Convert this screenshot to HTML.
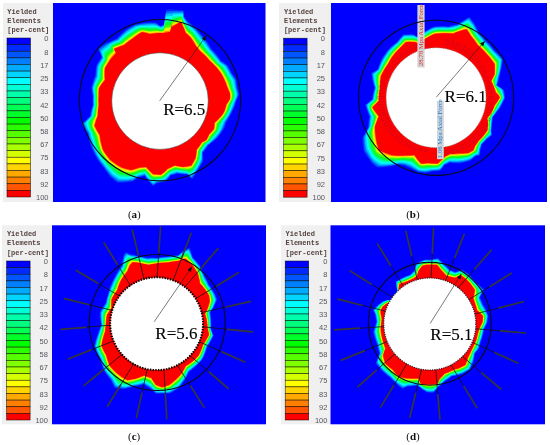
<!DOCTYPE html>
<html><head><meta charset="utf-8"><title>Yielded Elements</title>
<style>
html,body{margin:0;padding:0;background:#fff;}
svg{display:block}
.lt{font-family:"Liberation Mono","DejaVu Sans Mono",monospace;font-size:7px;fill:#54423f;font-weight:bold}
.ll{font-family:"Liberation Sans","DejaVu Sans",sans-serif;font-size:7.5px;fill:#55555f}
.rl{font-family:"Liberation Serif","DejaVu Serif",serif;font-size:17px;fill:#000;stroke:#000;stroke-width:0.12px}
.ax{font-family:"Liberation Serif","DejaVu Serif",serif;font-size:6.7px}
.cap{font-family:"Liberation Serif","DejaVu Serif",serif;font-size:11px;fill:#111}
</style></head><body>
<svg width="550" height="445" viewBox="0 0 550 445">
<defs><filter id="blur" x="-5%" y="-5%" width="110%" height="110%"><feGaussianBlur stdDeviation="0.7"/></filter><clipPath id="clipa"><rect x="53.0" y="3.0" width="212.5" height="199.0"/></clipPath><clipPath id="clipb"><rect x="331.0" y="3.0" width="216.0" height="199.0"/></clipPath><clipPath id="clipc"><rect x="52.0" y="225.3" width="214.0" height="199.0"/></clipPath><clipPath id="clipd"><rect x="330.5" y="225.3" width="214.5" height="199.0"/></clipPath></defs>
<rect width="550" height="445" fill="#fff"/>
<rect x="3.0" y="3.0" width="50.0" height="199.0" fill="#f0f0f0"/><rect x="7.0" y="38.00" width="23.5" height="6.62" fill="#0000ff" stroke="#000" stroke-opacity="0.8" stroke-width="0.6"/><rect x="7.0" y="44.62" width="23.5" height="6.62" fill="#002aff" stroke="#000" stroke-opacity="0.8" stroke-width="0.6"/><rect x="7.0" y="51.25" width="23.5" height="6.62" fill="#0055ff" stroke="#000" stroke-opacity="0.8" stroke-width="0.6"/><rect x="7.0" y="57.88" width="23.5" height="6.62" fill="#007fff" stroke="#000" stroke-opacity="0.8" stroke-width="0.6"/><rect x="7.0" y="64.50" width="23.5" height="6.62" fill="#00aaff" stroke="#000" stroke-opacity="0.8" stroke-width="0.6"/><rect x="7.0" y="71.12" width="23.5" height="6.62" fill="#00d4ff" stroke="#000" stroke-opacity="0.8" stroke-width="0.6"/><rect x="7.0" y="77.75" width="23.5" height="6.62" fill="#00ffff" stroke="#000" stroke-opacity="0.8" stroke-width="0.6"/><rect x="7.0" y="84.38" width="23.5" height="6.62" fill="#00ffd4" stroke="#000" stroke-opacity="0.8" stroke-width="0.6"/><rect x="7.0" y="91.00" width="23.5" height="6.62" fill="#00ffaa" stroke="#000" stroke-opacity="0.8" stroke-width="0.6"/><rect x="7.0" y="97.62" width="23.5" height="6.62" fill="#00ff7f" stroke="#000" stroke-opacity="0.8" stroke-width="0.6"/><rect x="7.0" y="104.25" width="23.5" height="6.62" fill="#00ff54" stroke="#000" stroke-opacity="0.8" stroke-width="0.6"/><rect x="7.0" y="110.88" width="23.5" height="6.62" fill="#00ff2a" stroke="#000" stroke-opacity="0.8" stroke-width="0.6"/><rect x="7.0" y="117.50" width="23.5" height="6.62" fill="#00ff00" stroke="#000" stroke-opacity="0.8" stroke-width="0.6"/><rect x="7.0" y="124.12" width="23.5" height="6.62" fill="#2aff00" stroke="#000" stroke-opacity="0.8" stroke-width="0.6"/><rect x="7.0" y="130.75" width="23.5" height="6.62" fill="#55ff00" stroke="#000" stroke-opacity="0.8" stroke-width="0.6"/><rect x="7.0" y="137.38" width="23.5" height="6.62" fill="#7fff00" stroke="#000" stroke-opacity="0.8" stroke-width="0.6"/><rect x="7.0" y="144.00" width="23.5" height="6.62" fill="#a9ff00" stroke="#000" stroke-opacity="0.8" stroke-width="0.6"/><rect x="7.0" y="150.62" width="23.5" height="6.62" fill="#d4ff00" stroke="#000" stroke-opacity="0.8" stroke-width="0.6"/><rect x="7.0" y="157.25" width="23.5" height="6.62" fill="#ffff00" stroke="#000" stroke-opacity="0.8" stroke-width="0.6"/><rect x="7.0" y="163.88" width="23.5" height="6.62" fill="#ffd400" stroke="#000" stroke-opacity="0.8" stroke-width="0.6"/><rect x="7.0" y="170.50" width="23.5" height="6.62" fill="#ffa900" stroke="#000" stroke-opacity="0.8" stroke-width="0.6"/><rect x="7.0" y="177.12" width="23.5" height="6.62" fill="#ff7f00" stroke="#000" stroke-opacity="0.8" stroke-width="0.6"/><rect x="7.0" y="183.75" width="23.5" height="6.62" fill="#ff5500" stroke="#000" stroke-opacity="0.8" stroke-width="0.6"/><rect x="7.0" y="190.38" width="23.5" height="6.62" fill="#ff0000" stroke="#000" stroke-opacity="0.8" stroke-width="0.6"/><text x="7.3" y="13.6" class="lt">Yielded</text><text x="7.3" y="23.0" class="lt">Elements</text><text x="7.3" y="32.4" class="lt">[per-cent]</text><text x="48.5" y="41.2" class="ll" text-anchor="end">0</text><text x="48.5" y="54.5" class="ll" text-anchor="end">8</text><text x="48.5" y="67.7" class="ll" text-anchor="end">17</text><text x="48.5" y="81.0" class="ll" text-anchor="end">25</text><text x="48.5" y="94.2" class="ll" text-anchor="end">33</text><text x="48.5" y="107.5" class="ll" text-anchor="end">42</text><text x="48.5" y="120.7" class="ll" text-anchor="end">50</text><text x="48.5" y="133.9" class="ll" text-anchor="end">58</text><text x="48.5" y="147.2" class="ll" text-anchor="end">67</text><text x="48.5" y="160.4" class="ll" text-anchor="end">75</text><text x="48.5" y="173.7" class="ll" text-anchor="end">83</text><text x="48.5" y="186.9" class="ll" text-anchor="end">92</text><text x="48.5" y="200.2" class="ll" text-anchor="end">100</text><rect x="53.0" y="3.0" width="212.5" height="199.0" fill="#0000ff"/><g clip-path="url(#clipa)"><g filter="url(#blur)"><polygon points="92.5,101.1 92.6,96.4 92.7,95.9 92.6,95.5 91.8,91.5 91.3,87.7 91.6,86.6 91.6,86.4 92.8,81.8 94.3,77.2 94.7,76.1 95.1,75.3 95.3,72.3 96.0,67.0 96.3,65.0 97.3,63.4 98.0,62.3 100.7,58.0 101.5,56.9 99.0,50.9 98.4,49.4 98.0,48.3 102.2,45.2 105.3,43.2 106.5,42.6 107.2,42.5 108.1,42.4 112.5,40.3 117.0,38.5 117.4,37.9 118.6,36.5 121.1,33.8 125.1,30.1 125.3,29.9 127.3,28.6 130.0,26.9 135.0,24.3 135.4,24.1 139.8,23.4 140.6,23.3 145.6,22.5 146.1,22.4 148.2,22.2 151.7,22.2 155.9,22.5 157.3,23.4 160.0,25.4 160.5,25.8 162.7,24.8 163.4,24.5 164.1,24.2 165.2,16.4 166.2,9.6 169.6,9.3 172.4,9.2 173.3,9.1 174.4,10.3 174.6,9.7 176.1,9.7 182.6,10.3 183.6,10.4 183.6,11.0 184.0,16.3 184.1,16.5 186.5,19.6 187.6,21.2 189.7,22.6 191.2,23.8 194.9,27.1 195.7,27.9 195.9,28.1 199.7,32.4 201.1,34.2 202.7,35.8 203.4,36.7 206.8,41.1 207.3,41.8 209.8,45.8 211.3,48.6 212.8,50.1 216.3,53.9 217.3,55.1 219.4,57.9 221.5,61.0 222.8,61.8 224.2,62.6 227.8,65.1 227.8,65.1 230.3,69.8 230.7,70.6 231.8,72.9 233.1,74.5 234.7,76.7 236.4,79.2 236.5,79.4 237.2,84.7 237.3,85.3 237.4,87.0 238.2,90.1 238.8,92.7 239.2,94.3 238.7,95.6 237.4,98.8 236.5,101.1 236.2,101.8 235.3,105.0 234.8,106.3 233.6,109.2 232.5,111.3 232.1,112.2 230.7,114.8 230.1,116.0 229.4,117.3 227.5,120.5 226.2,122.4 225.5,125.0 225.0,126.8 223.8,129.5 223.6,129.8 221.4,132.8 220.9,133.5 218.0,137.3 217.9,137.4 216.0,139.3 214.4,140.7 210.7,143.6 210.6,143.6 208.1,145.5 207.4,146.9 207.0,147.5 204.7,150.8 202.9,153.1 203.1,156.2 203.2,158.4 203.0,161.7 202.1,163.5 200.6,166.0 199.0,168.6 198.6,169.1 195.6,174.1 195.6,174.1 192.3,179.2 191.1,178.2 187.6,174.9 185.7,174.8 183.9,174.6 178.1,173.9 177.4,173.7 176.6,174.1 173.0,175.1 170.6,175.7 168.9,178.0 168.2,178.8 165.1,182.0 162.8,182.3 161.1,182.6 157.1,183.3 156.9,183.3 153.0,186.2 151.8,184.9 151.3,184.3 150.0,183.0 146.4,178.5 144.4,175.8 144.1,175.9 141.1,176.9 137.4,178.0 135.9,179.2 134.2,180.4 132.2,181.8 127.2,182.3 125.8,182.4 120.2,182.8 117.4,182.8 114.2,180.4 113.2,179.6 110.0,176.9 109.4,176.1 105.5,170.8 103.7,168.0 103.6,167.8 101.8,165.7 98.2,160.8 97.3,159.3 95.4,156.1 95.1,155.5 92.4,150.2 91.8,148.9 90.2,144.7 89.0,141.0 88.5,139.1 87.5,133.8 87.3,133.5 84.8,129.4 84.3,128.7 81.6,124.3 82.5,123.3 87.9,118.1 89.7,116.7 89.8,116.0 90.9,110.8 92.4,105.8 92.6,105.4 92.7,105.1" fill="#0028ff"/><polygon points="93.0,101.1 93.1,96.4 93.1,95.9 93.1,95.5 92.4,91.6 91.9,87.8 92.2,86.7 92.2,86.5 93.5,82.0 95.1,77.5 95.5,76.4 95.9,75.6 96.1,72.6 96.7,67.4 97.0,65.4 97.9,63.8 98.6,62.7 101.3,58.5 102.1,57.3 99.8,51.6 99.3,50.2 99.0,49.1 103.0,46.1 106.1,44.1 107.3,43.4 107.9,43.2 108.6,42.9 112.9,40.8 117.4,39.1 117.8,38.5 119.0,37.2 121.6,34.5 125.5,30.9 125.7,30.8 127.7,29.4 130.4,27.7 135.3,25.1 135.6,24.9 139.9,24.1 140.8,24.0 145.8,23.3 146.3,23.3 148.4,23.2 151.8,23.1 155.9,23.3 157.3,24.2 160.0,26.0 160.5,26.4 162.6,25.5 163.3,25.2 164.1,24.9 165.1,17.7 166.1,11.5 169.5,11.2 172.2,11.0 173.0,10.9 174.2,11.2 174.3,11.0 175.9,11.0 182.4,11.2 183.3,11.3 183.4,11.8 183.8,16.9 184.0,17.1 186.3,20.3 187.4,21.9 189.4,23.4 190.9,24.7 194.5,27.9 195.3,28.7 195.5,28.9 199.2,33.2 200.6,35.0 202.1,36.6 202.9,37.5 206.3,41.9 206.7,42.6 209.2,46.4 210.8,49.2 212.3,50.6 215.7,54.4 216.7,55.6 218.8,58.4 220.9,61.4 222.3,62.2 223.5,63.0 227.0,65.4 227.0,65.5 229.6,70.1 230.0,71.0 231.1,73.2 232.3,74.8 233.9,76.9 235.5,79.4 235.7,79.7 236.4,84.9 236.5,85.4 236.6,87.1 237.5,90.2 238.1,92.7 238.4,94.4 238.0,95.6 236.8,98.8 235.9,101.1 235.6,101.8 234.6,104.9 234.1,106.3 232.9,109.1 231.9,111.2 231.5,112.1 230.1,114.7 229.5,115.9 228.8,117.1 226.8,120.3 225.6,122.1 224.8,124.7 224.1,126.5 223.0,129.2 222.9,129.5 220.8,132.5 220.3,133.2 217.4,137.0 217.4,137.0 215.5,138.9 214.0,140.3 210.3,143.3 210.3,143.3 207.8,145.2 207.0,146.5 206.6,147.1 204.3,150.3 202.5,152.6 202.6,155.7 202.6,157.7 202.5,161.0 201.6,162.8 200.2,165.3 198.6,168.0 198.3,168.5 195.3,173.4 195.3,173.4 191.9,178.2 190.8,177.2 187.4,174.3 185.5,174.1 183.7,174.0 178.0,173.2 177.3,173.1 176.4,173.4 172.9,174.5 170.6,175.1 168.8,177.2 168.1,178.0 165.1,181.2 162.8,181.6 161.1,181.9 157.2,182.6 157.0,182.6 153.1,185.2 151.9,184.1 151.3,183.5 150.1,182.2 146.5,177.8 144.6,175.1 144.3,175.2 141.3,176.2 137.7,177.1 136.2,178.2 134.6,179.4 132.6,180.7 127.6,181.3 126.2,181.4 120.7,181.7 118.0,181.7 114.8,179.4 113.8,178.6 110.6,176.0 110.0,175.2 106.1,170.1 104.2,167.4 104.1,167.2 102.4,165.1 98.8,160.2 97.8,158.8 96.0,155.6 95.7,155.0 93.1,149.7 92.5,148.4 91.0,144.2 89.8,140.6 89.3,138.7 88.2,133.5 88.0,133.1 85.5,129.1 85.1,128.4 82.8,124.0 83.6,123.0 88.7,117.9 90.3,116.5 90.4,115.9 91.5,110.7 92.9,105.8 93.0,105.4 93.1,105.1" fill="#006eff"/><polygon points="93.6,101.1 93.7,96.5 93.7,96.0 93.7,95.6 93.1,91.7 92.7,87.9 92.9,86.8 93.0,86.7 94.4,82.3 96.1,77.8 96.6,76.8 96.9,76.0 97.0,73.1 97.5,67.9 97.8,65.9 98.7,64.2 99.3,63.2 102.0,59.0 102.8,57.8 100.9,52.6 100.5,51.2 100.2,50.2 104.2,47.2 107.1,45.1 108.2,44.5 108.6,44.1 109.2,43.6 113.5,41.5 117.9,39.8 118.3,39.3 119.5,38.0 122.1,35.4 126.0,31.9 126.2,31.8 128.1,30.5 130.8,28.8 135.6,26.1 136.0,25.9 140.2,25.0 141.0,24.9 146.0,24.4 146.5,24.4 148.6,24.3 151.9,24.3 156.0,24.4 157.3,25.2 160.0,26.8 160.5,27.1 162.6,26.3 163.3,26.0 164.0,25.7 165.0,19.3 165.9,13.8 169.2,13.5 171.9,13.3 172.7,13.2 174.0,12.4 174.1,12.8 175.6,12.7 182.1,12.5 183.0,12.5 183.1,13.0 183.6,17.7 183.7,17.9 186.0,21.1 187.1,22.8 189.0,24.5 190.5,25.7 194.0,28.9 194.8,29.7 195.0,29.9 198.6,34.2 200.0,36.0 201.5,37.6 202.2,38.5 205.5,42.8 206.0,43.5 208.5,47.2 210.2,49.8 211.6,51.3 215.0,55.0 216.0,56.2 218.1,58.9 220.3,61.8 221.5,62.7 222.8,63.5 226.1,65.9 226.1,65.9 228.7,70.5 229.1,71.3 230.2,73.5 231.4,75.1 232.8,77.3 234.4,79.8 234.6,80.0 235.4,85.1 235.5,85.6 235.7,87.3 236.6,90.3 237.2,92.8 237.5,94.5 237.2,95.7 236.1,98.8 235.1,101.1 234.8,101.8 233.7,104.9 233.2,106.2 232.1,109.0 231.1,111.1 230.7,112.0 229.3,114.6 228.7,115.7 228.0,116.9 226.0,120.0 224.7,121.9 223.8,124.3 223.1,126.1 222.1,128.7 221.9,129.1 220.1,132.1 219.6,132.8 216.7,136.5 216.6,136.5 214.8,138.4 213.3,139.8 209.9,142.9 209.9,143.0 207.3,144.8 206.5,146.0 206.1,146.6 203.8,149.8 202.0,152.1 202.0,154.9 202.0,156.8 201.8,160.0 201.0,161.9 199.7,164.5 198.1,167.2 197.8,167.7 194.8,172.5 194.8,172.5 191.4,176.9 190.3,176.1 187.1,173.4 185.2,173.4 183.4,173.2 177.8,172.4 177.1,172.3 176.2,172.5 172.8,173.7 170.4,174.3 168.7,176.3 168.0,177.1 165.0,180.2 162.8,180.8 161.1,181.2 157.2,181.7 157.0,181.8 153.2,184.0 152.0,183.0 151.5,182.4 150.2,181.1 146.6,176.9 144.7,174.3 144.4,174.3 141.5,175.2 138.0,176.1 136.5,177.1 135.0,178.1 133.0,179.4 128.1,180.0 126.7,180.2 121.4,180.3 118.7,180.2 115.6,178.1 114.5,177.3 111.4,174.8 110.8,174.1 106.8,169.2 104.9,166.6 104.8,166.4 103.1,164.3 99.5,159.5 98.6,158.1 96.8,154.9 96.5,154.4 94.0,149.1 93.4,147.7 92.0,143.6 90.9,140.0 90.4,138.1 89.1,133.1 88.9,132.7 86.5,128.7 86.2,128.0 84.2,123.5 85.0,122.6 89.7,117.7 91.1,116.4 91.2,115.7 92.2,110.6 93.5,105.7 93.7,105.3 93.7,105.0" fill="#00c3ff"/><polygon points="94.3,101.1 94.4,96.5 94.5,96.0 94.4,95.6 93.9,91.8 93.6,88.1 93.8,87.0 93.8,86.9 95.4,82.6 97.3,78.3 97.8,77.2 98.1,76.4 98.1,73.6 98.6,68.4 98.9,66.5 99.6,64.8 100.2,63.7 102.9,59.6 103.6,58.5 102.3,53.6 102.0,52.4 101.8,51.5 105.5,48.5 108.3,46.4 109.4,45.7 109.6,45.1 109.9,44.4 114.1,42.4 118.4,40.6 118.9,40.2 120.2,39.1 122.7,36.5 126.6,33.2 126.8,33.0 128.7,31.7 131.3,30.0 136.0,27.3 136.3,27.1 140.4,26.0 141.3,25.9 146.2,25.7 146.7,25.7 148.8,25.8 152.1,25.6 156.1,25.7 157.4,26.3 160.0,27.7 160.5,28.0 162.6,27.3 163.3,27.0 164.0,26.8 164.9,21.3 165.8,16.6 168.9,16.2 171.5,16.0 172.3,16.0 173.8,13.8 173.7,14.8 175.2,14.6 181.7,13.9 182.6,13.9 182.7,14.3 183.3,18.6 183.5,18.8 185.7,22.1 186.7,23.8 188.5,25.7 190.0,26.9 193.5,30.1 194.2,30.9 194.4,31.1 198.0,35.4 199.3,37.2 200.7,38.9 201.4,39.7 204.7,43.9 205.1,44.6 207.7,48.1 209.4,50.6 210.8,52.1 214.1,55.7 215.1,56.9 217.3,59.5 219.4,62.4 220.7,63.2 221.8,64.0 225.0,66.5 225.0,66.5 227.6,71.0 228.1,71.8 229.1,74.0 230.2,75.5 231.6,77.7 233.1,80.1 233.2,80.4 234.2,85.3 234.3,85.9 234.6,87.5 235.5,90.5 236.1,92.9 236.4,94.6 236.1,95.8 235.2,98.8 234.2,101.1 233.9,101.8 232.6,104.8 232.2,106.1 231.1,108.9 230.2,111.0 229.8,111.8 228.4,114.4 227.8,115.5 227.1,116.7 225.1,119.8 223.7,121.6 222.7,123.9 221.8,125.6 220.9,128.2 220.8,128.6 219.2,131.7 218.7,132.3 215.8,136.0 215.8,136.0 213.9,137.9 212.6,139.3 209.4,142.5 209.4,142.5 206.8,144.3 205.9,145.4 205.4,146.0 203.3,149.1 201.5,151.4 201.3,154.0 201.2,155.8 201.0,158.9 200.3,160.8 199.1,163.6 197.6,166.2 197.3,166.7 194.3,171.5 194.3,171.5 190.7,175.4 189.7,174.7 186.7,172.5 184.9,172.4 183.1,172.3 177.5,171.4 176.8,171.3 176.0,171.5 172.6,172.7 170.3,173.4 168.6,175.2 167.9,175.9 164.9,178.9 162.7,179.7 161.1,180.2 157.2,180.7 157.0,180.7 153.3,182.6 152.2,181.7 151.6,181.1 150.3,179.9 146.8,175.7 145.0,173.2 144.7,173.3 141.8,174.0 138.3,174.8 137.0,175.7 135.4,176.7 133.6,177.8 128.7,178.5 127.3,178.7 122.2,178.7 119.6,178.5 116.5,176.5 115.4,175.8 112.3,173.4 111.7,172.7 107.6,168.1 105.7,165.7 105.6,165.5 103.9,163.4 100.4,158.7 99.5,157.3 97.7,154.2 97.4,153.6 95.0,148.3 94.5,147.0 93.2,142.9 92.2,139.2 91.6,137.5 90.2,132.6 90.0,132.3 87.7,128.3 87.4,127.5 86.0,123.0 86.7,122.1 90.9,117.4 92.1,116.1 92.2,115.5 93.0,110.5 94.3,105.7 94.4,105.3 94.5,105.0" fill="#00ffff"/><polygon points="95.0,101.1 95.2,96.6 95.2,96.1 95.1,95.7 94.7,91.9 94.5,88.3 94.7,87.2 94.7,87.1 96.4,82.9 98.5,78.7 99.0,77.7 99.2,76.9 99.3,74.1 99.6,69.0 99.9,67.1 100.6,65.3 101.1,64.3 103.7,60.2 104.5,59.1 103.6,54.7 103.4,53.6 103.3,52.8 106.8,49.7 109.5,47.6 110.5,47.0 110.5,46.2 110.6,45.1 114.8,43.2 119.0,41.5 119.5,41.1 120.8,40.1 123.4,37.6 127.2,34.4 127.4,34.2 129.3,33.0 131.8,31.3 136.4,28.5 136.7,28.3 140.7,27.0 141.5,27.0 146.5,27.0 146.9,27.0 149.0,27.2 152.2,27.0 156.1,27.0 157.4,27.5 160.0,28.6 160.5,28.8 162.5,28.2 163.2,28.1 163.9,27.8 164.7,23.3 165.6,19.3 168.6,19.0 171.1,18.8 171.9,18.7 173.6,15.2 173.4,16.9 174.9,16.6 181.4,15.4 182.3,15.3 182.4,15.6 183.1,19.5 183.2,19.7 185.4,23.1 186.4,24.9 188.1,27.0 189.5,28.2 192.9,31.3 193.7,32.1 193.8,32.3 197.3,36.6 198.5,38.4 199.9,40.1 200.6,40.9 203.8,45.0 204.3,45.7 206.9,49.0 208.6,51.4 210.0,52.8 213.3,56.4 214.2,57.6 216.4,60.1 218.6,62.9 219.8,63.7 220.9,64.6 223.9,67.1 223.9,67.1 226.5,71.5 227.0,72.3 228.0,74.4 229.1,76.0 230.4,78.1 231.8,80.5 231.9,80.7 233.0,85.6 233.1,86.1 233.4,87.7 234.4,90.6 235.1,93.1 235.3,94.7 235.1,95.9 234.3,98.9 233.3,101.1 232.9,101.8 231.6,104.8 231.1,106.1 230.1,108.8 229.3,110.8 228.9,111.7 227.5,114.2 226.9,115.3 226.2,116.5 224.1,119.5 222.7,121.2 221.5,123.5 220.6,125.1 219.8,127.7 219.7,128.1 218.3,131.2 217.8,131.8 214.9,135.4 214.9,135.4 213.1,137.3 211.9,138.8 208.9,142.1 208.9,142.1 206.3,143.8 205.3,144.9 204.8,145.4 202.7,148.5 200.9,150.8 200.7,153.1 200.4,154.7 200.2,157.8 199.6,159.8 198.5,162.6 197.0,165.2 196.7,165.7 193.8,170.5 193.8,170.5 190.1,173.8 189.2,173.3 186.4,171.5 184.6,171.5 182.8,171.3 177.3,170.5 176.6,170.3 175.7,170.4 172.4,171.7 170.2,172.5 168.4,174.1 167.7,174.8 164.9,177.7 162.7,178.7 161.1,179.3 157.3,179.6 157.1,179.7 153.4,181.2 152.3,180.4 151.7,179.8 150.5,178.6 147.0,174.6 145.2,172.2 144.9,172.2 142.1,172.9 138.7,173.6 137.4,174.3 135.9,175.2 134.1,176.2 129.3,177.0 128.0,177.2 123.0,177.0 120.5,176.8 117.4,174.9 116.3,174.3 113.2,172.0 112.6,171.4 108.5,167.0 106.5,164.7 106.4,164.5 104.7,162.5 101.3,157.8 100.4,156.5 98.6,153.4 98.3,152.9 96.1,147.5 95.6,146.2 94.4,142.1 93.5,138.5 92.8,136.8 91.3,132.1 91.1,131.8 88.8,127.8 88.7,127.1 87.7,122.5 88.4,121.6 92.1,117.2 93.1,115.9 93.1,115.3 93.9,110.4 95.0,105.6 95.1,105.2 95.2,104.9" fill="#00ffa0"/><polygon points="95.8,101.1 95.9,96.6 95.9,96.1 95.9,95.8 95.5,92.0 95.4,88.5 95.6,87.4 95.6,87.3 97.5,83.2 99.7,79.1 100.3,78.2 100.4,77.4 100.4,74.6 100.7,69.6 100.9,67.7 101.5,65.9 102.0,64.9 104.6,60.8 105.3,59.7 104.9,55.8 104.9,54.8 104.8,54.1 108.2,51.0 110.7,48.9 111.6,48.2 111.5,47.2 111.3,45.9 115.4,44.0 119.6,42.4 120.1,42.0 121.5,41.1 124.0,38.7 127.8,35.6 128.0,35.5 129.8,34.2 132.3,32.5 136.8,29.7 137.1,29.5 141.0,28.1 141.8,28.1 146.7,28.3 147.2,28.4 149.2,28.6 152.4,28.4 156.2,28.3 157.5,28.6 160.0,29.5 160.5,29.7 162.5,29.2 163.2,29.1 163.8,28.9 164.6,25.2 165.4,22.1 168.3,21.7 170.8,21.5 171.5,21.5 173.3,16.6 173.1,19.0 174.6,18.6 181.0,16.9 181.9,16.7 182.0,16.9 182.8,20.4 183.0,20.6 185.0,24.1 186.0,25.9 187.6,28.2 189.0,29.4 192.3,32.5 193.1,33.3 193.2,33.5 196.6,37.8 197.8,39.6 199.1,41.3 199.8,42.1 202.9,46.2 203.4,46.8 206.1,49.9 207.8,52.2 209.2,53.6 212.4,57.1 213.4,58.3 215.6,60.7 217.8,63.4 218.9,64.3 220.0,65.2 222.8,67.7 222.8,67.7 225.5,71.9 225.9,72.7 226.9,74.8 227.9,76.4 229.2,78.5 230.5,80.9 230.6,81.1 231.8,85.8 231.9,86.4 232.3,87.9 233.3,90.8 234.0,93.2 234.2,94.8 234.0,95.9 233.4,98.9 232.3,101.1 232.0,101.8 230.5,104.7 230.1,106.0 229.1,108.7 228.3,110.7 228.0,111.5 226.6,114.0 226.0,115.1 225.3,116.3 223.1,119.2 221.7,120.9 220.4,123.1 219.3,124.6 218.7,127.2 218.6,127.6 217.4,130.8 216.9,131.4 214.0,134.9 214.0,134.9 212.2,136.7 211.1,138.2 208.4,141.6 208.3,141.7 205.7,143.3 204.7,144.3 204.2,144.8 202.1,147.9 200.4,150.1 200.0,152.2 199.6,153.7 199.4,156.7 198.9,158.7 197.9,161.7 196.5,164.3 196.2,164.8 193.3,169.4 193.3,169.4 189.5,172.3 188.6,171.9 186.0,170.5 184.2,170.6 182.5,170.4 177.1,169.5 176.4,169.4 175.5,169.4 172.3,170.7 170.0,171.5 168.3,173.0 167.6,173.7 164.8,176.5 162.7,177.6 161.1,178.4 157.3,178.6 157.1,178.6 153.6,179.7 152.4,179.1 151.9,178.6 150.6,177.4 147.2,173.5 145.4,171.2 145.1,171.1 142.4,171.7 139.1,172.3 137.8,172.9 136.4,173.7 134.7,174.6 129.9,175.5 128.6,175.7 123.8,175.3 121.4,175.1 118.3,173.4 117.2,172.8 114.1,170.6 113.5,170.0 109.3,166.0 107.3,163.8 107.1,163.6 105.5,161.6 102.1,157.0 101.2,155.6 99.5,152.6 99.2,152.1 97.2,146.8 96.7,145.4 95.6,141.4 94.8,137.8 94.1,136.2 92.4,131.6 92.2,131.3 90.0,127.4 89.9,126.6 89.5,122.0 90.0,121.2 93.3,116.9 94.1,115.7 94.1,115.1 94.8,110.3 95.8,105.6 95.9,105.2 95.9,104.9" fill="#00ff32"/><polygon points="96.6,101.1 96.7,96.7 96.8,96.2 96.7,95.8 96.5,92.2 96.5,88.7 96.6,87.6 96.6,87.5 98.7,83.5 101.1,79.7 101.7,78.7 101.8,77.9 101.7,75.2 101.9,70.2 102.1,68.3 102.5,66.5 103.1,65.5 105.5,61.5 106.3,60.5 106.5,57.1 106.5,56.2 106.6,55.6 109.7,52.5 112.1,50.4 113.0,49.7 112.6,48.4 112.1,46.9 116.2,45.0 120.3,43.4 120.9,43.1 122.3,42.3 124.7,40.0 128.5,37.0 128.7,36.9 130.5,35.7 132.9,33.9 137.2,31.1 137.6,30.9 141.3,29.3 142.1,29.3 147.0,29.8 147.4,29.9 149.4,30.2 152.5,29.9 156.3,29.8 157.5,30.0 160.0,30.6 160.5,30.7 162.5,30.4 163.1,30.3 163.8,30.1 164.5,27.5 165.2,25.3 168.0,25.0 170.3,24.7 171.1,24.7 173.1,18.3 172.7,21.4 174.1,20.8 180.6,18.6 181.5,18.3 181.6,18.5 182.5,21.4 182.7,21.6 184.7,25.2 185.6,27.1 187.1,29.7 188.4,30.8 191.7,33.9 192.4,34.7 192.6,34.8 195.8,39.2 197.0,41.0 198.1,42.7 198.8,43.5 201.9,47.5 202.3,48.1 205.1,51.0 206.9,53.2 208.3,54.5 211.4,58.0 212.3,59.1 214.6,61.4 216.9,64.0 217.9,64.9 218.9,65.8 221.5,68.4 221.5,68.4 224.2,72.5 224.7,73.3 225.7,75.3 226.6,76.9 227.8,78.9 229.0,81.3 229.1,81.5 230.4,86.1 230.5,86.6 231.0,88.1 232.0,91.0 232.8,93.3 233.0,94.9 232.8,96.0 232.4,98.9 231.2,101.1 230.8,101.8 229.2,104.6 228.9,105.9 228.0,108.6 227.3,110.6 226.9,111.4 225.6,113.8 224.9,114.9 224.2,116.1 222.0,118.9 220.6,120.5 219.0,122.6 217.8,124.0 217.4,126.6 217.3,127.0 216.4,130.2 215.9,130.8 213.0,134.2 213.0,134.3 211.2,136.0 210.3,137.6 207.8,141.1 207.7,141.2 205.1,142.8 204.0,143.6 203.5,144.0 201.4,147.1 199.8,149.3 199.1,151.2 198.7,152.5 198.5,155.4 198.0,157.5 197.2,160.5 195.8,163.1 195.5,163.6 192.7,168.2 192.7,168.2 188.7,170.5 187.9,170.2 185.6,169.4 183.9,169.5 182.2,169.3 176.8,168.4 176.1,168.2 175.2,168.2 172.1,169.6 169.9,170.4 168.1,171.7 167.5,172.4 164.7,175.1 162.6,176.4 161.0,177.3 157.3,177.4 157.2,177.4 153.7,178.1 152.6,177.6 152.0,177.1 150.8,175.9 147.5,172.2 145.6,170.0 145.4,169.9 142.7,170.4 139.5,170.8 138.3,171.2 137.0,171.9 135.3,172.7 130.6,173.7 129.3,174.0 124.7,173.4 122.5,173.0 119.3,171.5 118.3,171.0 115.2,169.0 114.6,168.4 110.3,164.7 108.2,162.7 108.1,162.5 106.5,160.5 103.1,156.0 102.3,154.7 100.5,151.7 100.3,151.2 98.4,145.9 98.0,144.6 97.0,140.5 96.3,136.9 95.5,135.4 93.6,131.0 93.5,130.7 91.4,126.9 91.4,126.1 91.5,121.4 92.0,120.6 94.6,116.5 95.2,115.5 95.2,114.9 95.8,110.1 96.6,105.5 96.7,105.1 96.8,104.8" fill="#3cff00"/><polygon points="97.3,101.1 97.4,96.7 97.4,96.2 97.4,95.9 97.3,92.3 97.3,88.8 97.4,87.8 97.5,87.7 99.7,83.8 102.2,80.1 102.8,79.2 102.9,78.3 102.8,75.6 102.9,70.7 103.0,68.9 103.4,67.0 103.9,66.1 106.3,62.1 107.0,61.1 107.7,58.1 107.9,57.4 108.0,56.8 110.9,53.7 113.2,51.5 114.0,50.8 113.4,49.4 112.8,47.6 116.8,45.8 120.9,44.2 121.4,43.9 122.9,43.2 125.3,41.0 129.0,38.1 129.2,38.0 131.0,36.8 133.3,35.1 137.6,32.2 137.9,32.0 141.5,30.2 142.3,30.3 147.2,31.0 147.7,31.1 149.6,31.5 152.7,31.2 156.3,30.9 157.6,31.1 160.0,31.4 160.5,31.5 162.4,31.3 163.1,31.2 163.7,31.1 164.4,29.3 165.0,27.9 167.7,27.5 170.0,27.3 170.7,27.2 172.9,19.6 172.4,23.3 173.8,22.6 180.2,20.0 181.1,19.6 181.3,19.7 182.3,22.2 182.4,22.4 184.4,26.1 185.3,28.0 186.6,30.8 187.9,32.0 191.2,35.0 191.9,35.8 192.0,35.9 195.1,40.3 196.3,42.1 197.4,43.9 198.1,44.6 201.1,48.5 201.5,49.1 204.3,51.9 206.2,53.9 207.5,55.2 210.6,58.6 211.5,59.8 213.8,62.0 216.1,64.5 217.1,65.4 218.0,66.3 220.5,68.9 220.5,68.9 223.2,73.0 223.7,73.7 224.7,75.7 225.6,77.2 226.6,79.3 227.8,81.7 227.9,81.9 229.3,86.4 229.4,86.9 229.9,88.3 231.0,91.1 231.8,93.4 232.0,95.0 231.9,96.1 231.6,99.0 230.4,101.1 230.0,101.8 228.3,104.6 227.9,105.8 227.1,108.5 226.4,110.4 226.1,111.2 224.7,113.7 224.1,114.7 223.4,115.9 221.1,118.6 219.6,120.2 218.0,122.2 216.7,123.6 216.3,126.2 216.3,126.5 215.6,129.8 215.1,130.4 212.2,133.7 212.2,133.8 210.5,135.5 209.6,137.1 207.3,140.8 207.3,140.8 204.6,142.3 203.5,143.1 202.9,143.5 200.9,146.5 199.3,148.7 198.5,150.4 198.0,151.5 197.8,154.4 197.4,156.5 196.6,159.7 195.3,162.2 195.0,162.8 192.3,167.3 192.3,167.3 188.1,169.1 187.4,169.0 185.2,168.5 183.6,168.6 181.9,168.4 176.5,167.5 175.9,167.3 175.0,167.2 171.9,168.7 169.8,169.6 168.0,170.6 167.4,171.3 164.6,174.0 162.6,175.4 161.0,176.4 157.4,176.4 157.2,176.4 153.8,176.8 152.7,176.4 152.1,175.9 151.0,174.8 147.6,171.2 145.8,169.0 145.6,168.9 143.0,169.3 139.9,169.7 138.7,170.0 137.4,170.6 135.8,171.2 131.2,172.4 129.9,172.6 125.5,171.9 123.3,171.4 120.2,170.1 119.1,169.6 116.1,167.7 115.4,167.2 111.1,163.7 109.0,161.8 108.8,161.6 107.2,159.7 103.9,155.2 103.1,153.9 101.3,151.0 101.1,150.5 99.4,145.2 99.0,143.8 98.1,139.8 97.4,136.3 96.7,134.8 94.6,130.6 94.5,130.3 92.5,126.5 92.5,125.7 93.1,120.9 93.5,120.2 95.7,116.3 96.1,115.3 96.1,114.7 96.6,110.0 97.3,105.5 97.4,105.1 97.4,104.8" fill="#c8ff00"/><polygon points="97.8,101.1 97.9,96.8 97.9,96.3 97.9,95.9 97.8,92.4 97.9,89.0 98.0,87.9 98.0,87.8 100.4,84.0 103.0,80.3 103.7,79.5 103.6,78.6 103.5,75.9 103.6,71.1 103.7,69.2 104.0,67.4 104.5,66.4 106.9,62.5 107.6,61.5 108.6,58.8 108.8,58.2 109.0,57.7 111.8,54.6 114.0,52.4 114.8,51.6 114.1,50.1 113.2,48.1 117.2,46.3 121.3,44.7 121.8,44.5 123.3,43.9 125.7,41.8 129.4,39.0 129.6,38.8 131.4,37.6 133.6,35.9 137.9,33.0 138.2,32.8 141.7,30.9 142.5,31.0 147.3,31.9 147.8,32.0 149.8,32.5 152.7,32.1 156.4,31.8 157.6,31.8 160.0,32.0 160.5,32.1 162.4,31.9 163.0,31.9 163.7,31.7 164.3,30.6 164.9,29.7 167.5,29.3 169.8,29.1 170.4,29.0 172.7,20.5 172.2,24.7 173.6,24.0 180.0,20.9 180.9,20.6 181.1,20.6 182.1,22.8 182.3,23.0 184.1,26.8 185.0,28.7 186.3,31.6 187.6,32.8 190.8,35.8 191.5,36.6 191.6,36.7 194.7,41.0 195.8,42.9 196.9,44.7 197.5,45.4 200.5,49.2 201.0,49.8 203.8,52.5 205.7,54.4 207.0,55.7 210.0,59.1 210.9,60.2 213.2,62.4 215.6,64.9 216.5,65.8 217.4,66.7 219.8,69.3 219.8,69.3 222.5,73.3 223.0,74.0 224.0,76.0 224.8,77.5 225.8,79.6 226.9,81.9 227.0,82.1 228.5,86.6 228.6,87.0 229.2,88.5 230.3,91.2 231.1,93.5 231.2,95.0 231.2,96.1 231.0,99.0 229.7,101.1 229.3,101.8 227.6,104.6 227.2,105.8 226.4,108.4 225.8,110.3 225.5,111.2 224.1,113.6 223.5,114.6 222.8,115.7 220.5,118.4 219.0,120.0 217.2,121.9 215.9,123.2 215.6,125.9 215.6,126.2 215.0,129.5 214.5,130.1 211.6,133.4 211.6,133.4 209.9,135.1 209.1,136.8 207.0,140.5 206.9,140.5 204.3,142.0 203.1,142.7 202.5,143.1 200.5,146.1 198.9,148.3 198.1,149.8 197.5,150.8 197.3,153.6 196.9,155.8 196.2,159.0 194.9,161.6 194.6,162.1 192.0,166.6 191.9,166.6 187.7,168.1 187.0,168.0 185.0,167.9 183.4,168.0 181.7,167.8 176.4,166.8 175.7,166.7 174.9,166.5 171.8,168.0 169.7,169.0 167.9,169.9 167.3,170.6 164.6,173.2 162.6,174.7 161.0,175.8 157.4,175.7 157.2,175.7 153.9,175.8 152.8,175.5 152.2,175.0 151.1,173.9 147.8,170.5 146.0,168.4 145.8,168.2 143.2,168.5 140.1,168.8 139.0,169.0 137.8,169.6 136.2,170.2 131.6,171.3 130.3,171.6 126.0,170.8 123.9,170.3 120.8,169.1 119.7,168.6 116.7,166.8 116.0,166.3 111.7,163.0 109.5,161.2 109.3,161.0 107.8,159.1 104.5,154.7 103.7,153.4 101.9,150.5 101.7,150.0 100.1,144.6 99.7,143.3 98.9,139.3 98.3,135.8 97.5,134.3 95.4,130.3 95.2,130.0 93.2,126.2 93.4,125.4 94.3,120.6 94.6,119.9 96.5,116.1 96.7,115.1 96.8,114.5 97.1,109.9 97.8,105.4 97.9,105.0 97.9,104.8" fill="#ffe600"/><polygon points="98.2,101.1 98.3,96.8 98.3,96.3 98.3,96.0 98.3,92.4 98.4,89.1 98.5,88.0 98.6,87.9 101.0,84.2 103.7,80.6 104.4,79.8 104.3,78.9 104.2,76.2 104.2,71.4 104.3,69.6 104.5,67.7 105.1,66.8 107.4,62.9 108.1,61.8 109.3,59.5 109.7,58.9 109.9,58.4 112.6,55.3 114.7,53.1 115.4,52.4 114.6,50.7 113.6,48.6 117.6,46.8 121.6,45.3 122.2,45.0 123.7,44.5 126.1,42.4 129.8,39.7 130.0,39.5 131.7,38.4 133.9,36.6 138.1,33.7 138.4,33.5 141.9,31.5 142.7,31.6 147.5,32.6 148.0,32.8 149.9,33.3 152.8,32.9 156.4,32.5 157.6,32.5 160.0,32.5 160.5,32.6 162.4,32.5 163.0,32.5 163.7,32.4 164.2,31.8 164.8,31.3 167.4,30.9 169.5,30.7 170.2,30.6 172.6,21.3 172.0,25.9 173.4,25.1 179.8,21.8 180.7,21.4 180.9,21.3 182.0,23.3 182.1,23.6 184.0,27.4 184.8,29.3 186.0,32.4 187.3,33.5 190.4,36.5 191.1,37.2 191.3,37.4 194.3,41.7 195.4,43.6 196.4,45.4 197.1,46.2 200.0,49.9 200.4,50.5 203.3,53.0 205.2,54.9 206.5,56.2 209.5,59.5 210.4,60.6 212.7,62.8 215.1,65.2 216.0,66.1 216.9,67.0 219.1,69.7 219.1,69.7 221.9,73.6 222.3,74.3 223.4,76.2 224.1,77.8 225.1,79.8 226.1,82.1 226.2,82.3 227.8,86.7 227.9,87.2 228.5,88.6 229.7,91.3 230.5,93.5 230.6,95.1 230.6,96.2 230.4,99.0 229.2,101.1 228.8,101.7 226.9,104.5 226.6,105.8 225.9,108.3 225.2,110.3 225.0,111.1 223.6,113.5 223.0,114.5 222.3,115.6 219.9,118.3 218.4,119.8 216.5,121.7 215.1,122.9 214.9,125.6 214.9,125.9 214.4,129.2 214.0,129.8 211.1,133.1 211.1,133.1 209.4,134.8 208.7,136.4 206.7,140.2 206.6,140.2 204.0,141.7 202.7,142.4 202.1,142.7 200.2,145.7 198.6,147.9 197.6,149.3 197.0,150.2 196.8,153.0 196.5,155.2 195.9,158.5 194.6,161.0 194.3,161.5 191.7,166.0 191.7,166.0 187.3,167.2 186.7,167.2 184.8,167.3 183.2,167.5 181.5,167.2 176.2,166.3 175.6,166.1 174.7,165.9 171.7,167.5 169.6,168.4 167.9,169.3 167.2,169.9 164.5,172.5 162.5,174.1 161.0,175.3 157.4,175.1 157.2,175.1 153.9,175.0 152.8,174.7 152.3,174.3 151.2,173.2 147.9,169.8 146.1,167.8 145.9,167.5 143.4,167.8 140.3,168.1 139.3,168.2 138.0,168.7 136.5,169.2 132.0,170.5 130.7,170.7 126.5,169.8 124.5,169.3 121.3,168.2 120.3,167.8 117.2,165.9 116.6,165.5 112.1,162.3 110.0,160.6 109.8,160.5 108.3,158.6 105.0,154.2 104.2,152.9 102.5,150.1 102.3,149.5 100.7,144.2 100.4,142.9 99.6,138.9 99.1,135.4 98.2,134.0 96.0,130.0 95.8,129.7 93.9,125.9 94.1,125.1 95.3,120.3 95.6,119.6 97.2,115.9 97.3,115.0 97.3,114.4 97.6,109.9 98.3,105.4 98.3,105.0 98.3,104.8" fill="#ff8200"/><polygon points="98.5,101.1 98.6,96.8 98.7,96.3 98.7,96.0 98.7,92.5 98.9,89.2 99.0,88.1 99.0,88.0 101.5,84.3 104.3,80.8 105.0,80.0 104.9,79.2 104.7,76.5 104.7,71.7 104.8,69.9 105.0,68.0 105.5,67.1 107.8,63.2 108.5,62.2 110.0,60.0 110.4,59.5 110.7,59.1 113.3,56.0 115.3,53.8 116.0,53.0 115.1,51.2 114.0,49.0 117.9,47.2 121.9,45.7 122.5,45.5 124.0,45.0 126.4,43.0 130.1,40.3 130.3,40.1 132.0,39.0 134.2,37.2 138.3,34.3 138.6,34.1 142.0,32.0 142.8,32.2 147.6,33.3 148.1,33.4 150.0,34.0 152.9,33.6 156.5,33.2 157.6,33.1 160.0,33.0 160.5,33.0 162.4,33.0 163.0,33.0 163.6,32.9 164.2,32.8 164.7,32.7 167.2,32.3 169.3,32.1 170.0,32.0 172.5,22.0 171.8,26.9 173.2,26.1 179.6,22.5 180.5,22.1 180.7,22.0 181.9,23.8 182.0,24.0 183.8,27.9 184.6,29.9 185.8,33.0 187.1,34.1 190.2,37.1 190.9,37.8 191.0,38.0 193.9,42.3 195.0,44.2 196.0,46.0 196.7,46.8 199.6,50.4 200.0,51.0 202.9,53.5 204.8,55.3 206.1,56.6 209.1,59.9 210.0,61.0 212.3,63.1 214.7,65.5 215.6,66.4 216.4,67.3 218.6,69.9 218.6,70.0 221.3,73.8 221.8,74.5 222.8,76.4 223.6,78.0 224.5,80.0 225.5,82.3 225.6,82.5 227.1,86.8 227.3,87.3 228.0,88.7 229.1,91.4 230.0,93.6 230.0,95.1 230.1,96.2 230.0,99.0 228.7,101.1 228.3,101.7 226.4,104.5 226.1,105.7 225.4,108.3 224.8,110.2 224.5,111.0 223.1,113.4 222.5,114.4 221.8,115.5 219.4,118.1 217.9,119.7 216.0,121.5 214.5,122.7 214.4,125.3 214.4,125.6 214.0,129.0 213.5,129.6 210.7,132.8 210.7,132.8 209.0,134.5 208.3,136.2 206.4,140.0 206.4,140.0 203.7,141.5 202.5,142.1 201.8,142.4 199.9,145.4 198.3,147.6 197.3,148.8 196.6,149.7 196.4,152.4 196.1,154.7 195.6,158.0 194.3,160.5 194.0,161.1 191.4,165.5 191.4,165.5 187.0,166.4 186.4,166.5 184.6,166.8 183.0,167.0 181.3,166.8 176.1,165.8 175.5,165.6 174.6,165.4 171.6,167.0 169.5,167.9 167.8,168.7 167.2,169.3 164.5,171.9 162.5,173.6 161.0,174.8 157.4,174.6 157.3,174.6 154.0,174.2 152.9,174.1 152.4,173.6 151.2,172.6 148.0,169.3 146.2,167.2 146.0,167.0 143.5,167.3 140.5,167.5 139.5,167.5 138.3,167.9 136.8,168.4 132.3,169.7 131.0,170.0 126.9,169.0 124.9,168.4 121.7,167.4 120.7,167.0 117.7,165.2 117.0,164.8 112.6,161.8 110.4,160.1 110.2,160.0 108.7,158.1 105.5,153.8 104.6,152.5 102.9,149.7 102.7,149.2 101.2,143.8 100.9,142.5 100.2,138.5 99.7,135.0 98.8,133.6 96.5,129.7 96.4,129.4 94.5,125.7 94.7,124.9 96.2,120.0 96.4,119.3 97.8,115.8 97.8,114.9 97.8,114.3 98.1,109.8 98.6,105.4 98.7,105.0 98.7,104.7" fill="#ff0000"/></g><circle cx="160.0" cy="101.1" r="48.3" fill="#fff" stroke="#333" stroke-width="0.5"/><circle cx="160.0" cy="100.2" r="80.7" fill="none" stroke="#0a0a20" stroke-width="1.1"/><line x1="159.6" y1="100.9" x2="206.4" y2="35.6" stroke="#222" stroke-width="0.6"/><polygon points="206.4,35.6 205.1,41.0 201.7,38.6" fill="#111"/><text x="163.2" y="115.1" class="rl">R=6.5</text></g><text x="134.3" y="217.8" class="cap" text-anchor="middle">(<tspan font-weight="bold">a</tspan>)</text><rect x="279.0" y="3.0" width="52.0" height="199.0" fill="#f0f0f0"/><rect x="283.6" y="38.20" width="23.5" height="6.62" fill="#0000ff" stroke="#000" stroke-opacity="0.8" stroke-width="0.6"/><rect x="283.6" y="44.83" width="23.5" height="6.62" fill="#002aff" stroke="#000" stroke-opacity="0.8" stroke-width="0.6"/><rect x="283.6" y="51.45" width="23.5" height="6.62" fill="#0055ff" stroke="#000" stroke-opacity="0.8" stroke-width="0.6"/><rect x="283.6" y="58.08" width="23.5" height="6.62" fill="#007fff" stroke="#000" stroke-opacity="0.8" stroke-width="0.6"/><rect x="283.6" y="64.70" width="23.5" height="6.62" fill="#00aaff" stroke="#000" stroke-opacity="0.8" stroke-width="0.6"/><rect x="283.6" y="71.33" width="23.5" height="6.62" fill="#00d4ff" stroke="#000" stroke-opacity="0.8" stroke-width="0.6"/><rect x="283.6" y="77.95" width="23.5" height="6.62" fill="#00ffff" stroke="#000" stroke-opacity="0.8" stroke-width="0.6"/><rect x="283.6" y="84.58" width="23.5" height="6.62" fill="#00ffd4" stroke="#000" stroke-opacity="0.8" stroke-width="0.6"/><rect x="283.6" y="91.20" width="23.5" height="6.62" fill="#00ffaa" stroke="#000" stroke-opacity="0.8" stroke-width="0.6"/><rect x="283.6" y="97.83" width="23.5" height="6.62" fill="#00ff7f" stroke="#000" stroke-opacity="0.8" stroke-width="0.6"/><rect x="283.6" y="104.45" width="23.5" height="6.62" fill="#00ff54" stroke="#000" stroke-opacity="0.8" stroke-width="0.6"/><rect x="283.6" y="111.08" width="23.5" height="6.62" fill="#00ff2a" stroke="#000" stroke-opacity="0.8" stroke-width="0.6"/><rect x="283.6" y="117.70" width="23.5" height="6.62" fill="#00ff00" stroke="#000" stroke-opacity="0.8" stroke-width="0.6"/><rect x="283.6" y="124.33" width="23.5" height="6.62" fill="#2aff00" stroke="#000" stroke-opacity="0.8" stroke-width="0.6"/><rect x="283.6" y="130.95" width="23.5" height="6.62" fill="#55ff00" stroke="#000" stroke-opacity="0.8" stroke-width="0.6"/><rect x="283.6" y="137.57" width="23.5" height="6.62" fill="#7fff00" stroke="#000" stroke-opacity="0.8" stroke-width="0.6"/><rect x="283.6" y="144.20" width="23.5" height="6.62" fill="#a9ff00" stroke="#000" stroke-opacity="0.8" stroke-width="0.6"/><rect x="283.6" y="150.82" width="23.5" height="6.62" fill="#d4ff00" stroke="#000" stroke-opacity="0.8" stroke-width="0.6"/><rect x="283.6" y="157.45" width="23.5" height="6.62" fill="#ffff00" stroke="#000" stroke-opacity="0.8" stroke-width="0.6"/><rect x="283.6" y="164.07" width="23.5" height="6.62" fill="#ffd400" stroke="#000" stroke-opacity="0.8" stroke-width="0.6"/><rect x="283.6" y="170.70" width="23.5" height="6.62" fill="#ffa900" stroke="#000" stroke-opacity="0.8" stroke-width="0.6"/><rect x="283.6" y="177.32" width="23.5" height="6.62" fill="#ff7f00" stroke="#000" stroke-opacity="0.8" stroke-width="0.6"/><rect x="283.6" y="183.95" width="23.5" height="6.62" fill="#ff5500" stroke="#000" stroke-opacity="0.8" stroke-width="0.6"/><rect x="283.6" y="190.57" width="23.5" height="6.62" fill="#ff0000" stroke="#000" stroke-opacity="0.8" stroke-width="0.6"/><text x="283.9" y="13.6" class="lt">Yielded</text><text x="283.9" y="23.0" class="lt">Elements</text><text x="283.9" y="32.4" class="lt">[per-cent]</text><text x="325.0" y="41.4" class="ll" text-anchor="end">0</text><text x="325.0" y="54.7" class="ll" text-anchor="end">8</text><text x="325.0" y="67.9" class="ll" text-anchor="end">17</text><text x="325.0" y="81.2" class="ll" text-anchor="end">25</text><text x="325.0" y="94.4" class="ll" text-anchor="end">33</text><text x="325.0" y="107.7" class="ll" text-anchor="end">42</text><text x="325.0" y="120.9" class="ll" text-anchor="end">50</text><text x="325.0" y="134.2" class="ll" text-anchor="end">58</text><text x="325.0" y="147.4" class="ll" text-anchor="end">67</text><text x="325.0" y="160.7" class="ll" text-anchor="end">75</text><text x="325.0" y="173.9" class="ll" text-anchor="end">83</text><text x="325.0" y="187.2" class="ll" text-anchor="end">92</text><text x="325.0" y="200.4" class="ll" text-anchor="end">100</text><rect x="331.0" y="3.0" width="216.0" height="199.0" fill="#0000ff"/><g clip-path="url(#clipb)"><g filter="url(#blur)"><polygon points="372.2,97.7 373.1,93.3 374.2,89.0 374.5,87.8 374.3,87.0 373.4,84.4 372.1,79.3 371.2,74.1 371.1,73.3 372.2,72.6 375.3,70.6 377.6,69.3 378.3,67.0 379.9,62.6 381.4,59.4 381.6,59.0 381.9,58.3 384.5,54.4 386.4,51.8 387.3,50.6 388.8,48.8 390.5,47.1 394.1,44.0 396.0,42.5 397.1,41.7 397.7,40.8 401.0,36.9 402.4,35.3 403.2,34.4 405.2,34.3 410.4,34.2 412.1,34.2 413.4,34.3 414.9,35.1 416.0,35.8 417.1,36.5 420.3,34.2 423.7,32.0 424.4,31.5 424.7,31.4 428.9,28.9 431.5,27.5 431.9,27.3 433.6,26.7 434.9,26.4 435.0,26.3 438.6,26.1 443.6,26.0 444.9,26.1 448.7,26.4 448.8,26.4 454.3,24.8 455.4,24.5 458.0,24.1 460.6,22.2 465.0,19.3 468.6,17.3 469.6,16.8 471.1,18.9 473.2,21.6 474.1,22.8 476.3,26.7 476.7,27.5 478.7,32.2 479.7,33.1 483.4,37.2 483.6,37.5 485.7,40.2 486.9,41.3 490.5,45.1 493.2,48.4 493.9,49.2 494.9,50.6 497.6,53.0 501.5,56.8 503.1,58.6 503.0,59.1 502.6,62.3 501.8,66.8 501.4,68.6 500.7,71.8 500.0,74.4 499.6,76.0 499.2,78.6 498.9,79.7 497.2,84.7 496.9,85.2 502.2,88.4 504.1,89.8 504.5,91.4 504.6,92.9 504.8,94.7 505.1,97.6 505.1,97.6 505.0,97.7 503.1,102.4 501.3,106.0 500.8,106.8 500.0,108.0 497.8,110.8 497.4,111.3 495.5,113.8 495.0,114.6 492.8,117.1 492.8,118.4 492.8,120.3 492.3,122.7 492.1,124.1 492.0,125.5 491.8,127.3 491.4,130.9 491.7,132.4 491.7,133.0 492.1,135.2 490.0,136.9 488.3,138.2 487.3,138.9 486.4,139.9 483.2,143.2 481.9,144.4 481.8,144.5 481.1,147.7 480.4,150.3 480.2,151.9 480.0,153.9 479.7,155.5 477.1,155.9 475.9,156.1 475.6,156.3 472.1,159.3 471.8,159.5 470.2,160.9 467.3,161.7 463.9,162.6 462.4,162.9 459.6,163.4 457.4,163.4 453.3,163.2 452.4,163.1 449.9,162.7 447.8,163.8 446.7,164.4 444.3,165.3 443.3,166.7 442.1,168.4 440.1,170.9 438.7,171.0 437.5,171.0 433.5,171.4 431.9,171.6 428.2,172.4 426.7,172.8 424.9,173.0 422.9,172.8 419.2,172.4 418.0,172.3 417.6,172.1 413.7,170.1 412.7,169.6 410.9,168.5 409.4,168.1 407.9,167.5 404.1,165.6 403.0,165.5 399.9,165.0 398.4,164.7 397.2,165.1 389.6,166.6 382.3,167.4 381.6,167.5 377.0,167.6 374.7,165.9 371.8,163.5 370.3,161.3 368.8,159.1 366.6,156.0 363.7,151.6 363.5,150.4 363.2,148.8 362.6,143.6 362.4,138.2 363.1,136.5 366.0,131.0 367.7,128.2 368.1,127.5 368.3,122.4 368.5,119.7 369.3,116.9 369.3,116.9 367.6,112.3 366.4,108.3 366.0,107.5 365.0,105.0 368.0,102.5 369.1,101.6 372.0,99.6" fill="#0028ff"/><polygon points="372.8,97.7 373.5,93.3 374.6,89.1 375.0,87.8 374.7,87.1 373.9,84.5 372.7,79.5 372.0,74.4 371.9,73.6 372.9,72.8 375.8,70.9 378.1,69.5 378.8,67.2 380.4,62.9 381.9,59.7 382.1,59.4 382.5,58.7 385.0,54.8 386.8,52.2 387.8,51.0 389.2,49.2 390.9,47.5 394.5,44.4 396.3,42.9 397.4,42.1 398.0,41.3 401.3,37.4 402.7,35.9 403.5,35.0 405.5,34.9 410.7,34.8 412.3,34.9 413.6,34.9 415.1,35.7 416.2,36.3 417.3,37.0 420.4,34.7 423.8,32.5 424.5,32.1 424.8,31.9 428.9,29.5 431.5,28.1 431.9,27.9 433.6,27.3 434.9,26.9 435.0,26.9 438.6,26.7 443.6,26.6 444.8,26.7 448.6,26.9 448.7,26.9 454.1,25.5 455.2,25.3 457.8,24.8 460.4,23.0 464.6,20.3 468.2,18.3 469.2,17.8 470.7,19.7 472.8,22.4 473.7,23.6 475.9,27.4 476.2,28.2 478.3,32.8 479.3,33.7 482.9,37.8 483.2,38.1 485.2,40.7 486.4,41.8 490.0,45.6 492.7,48.8 493.4,49.7 494.4,51.0 497.1,53.4 500.8,57.2 502.4,59.0 502.4,59.5 502.0,62.7 501.2,67.0 500.9,68.9 500.2,72.0 499.5,74.6 499.0,76.1 498.6,78.8 498.3,79.9 496.8,84.8 496.7,85.3 501.6,88.5 503.4,89.9 503.8,91.5 504.0,93.0 504.3,94.8 504.6,97.6 504.6,97.6 504.6,97.7 502.6,102.3 500.7,106.0 500.3,106.7 499.5,108.0 497.4,110.7 497.0,111.2 495.2,113.7 494.6,114.5 492.5,117.0 492.5,118.2 492.3,120.1 492.0,122.6 491.7,123.9 491.6,125.3 491.5,127.2 491.1,130.7 491.3,132.2 491.4,132.7 491.7,134.9 489.7,136.6 487.9,138.0 487.0,138.6 486.1,139.7 482.9,142.9 481.7,144.1 481.5,144.2 480.8,147.3 480.0,149.8 479.8,151.4 479.6,153.3 479.3,154.9 476.8,155.4 475.6,155.7 475.4,155.9 471.8,158.8 471.5,159.0 469.8,160.3 467.0,161.1 463.6,161.9 462.1,162.2 459.3,162.6 457.2,162.6 453.1,162.5 452.2,162.4 449.7,162.1 447.6,163.2 446.6,163.7 444.2,164.8 443.3,166.1 442.0,167.7 440.1,170.1 438.6,170.3 437.5,170.4 433.5,170.8 431.9,170.9 428.3,171.7 426.8,172.0 425.0,172.2 423.0,172.1 419.4,171.7 418.2,171.5 417.8,171.3 413.9,169.2 413.0,168.7 411.3,167.6 409.8,167.1 408.3,166.5 404.5,164.8 403.4,164.7 400.3,164.3 398.8,164.0 397.6,164.3 390.2,165.8 383.0,166.4 382.4,166.5 377.9,166.5 375.6,164.9 372.7,162.6 371.1,160.5 369.6,158.4 367.5,155.3 364.7,150.8 364.5,149.7 364.3,148.1 363.7,143.0 363.4,137.6 364.1,136.0 366.7,130.7 368.3,127.9 368.7,127.2 369.0,122.1 369.4,119.5 369.9,116.7 369.9,116.7 368.1,112.1 366.9,108.2 366.6,107.5 365.8,104.9 368.8,102.4 369.9,101.5 372.5,99.6" fill="#006eff"/><polygon points="373.4,97.7 374.1,93.4 375.2,89.1 375.5,87.9 375.3,87.2 374.6,84.6 373.6,79.8 372.9,74.7 372.9,74.0 373.8,73.2 376.5,71.2 378.6,69.8 379.4,67.5 381.1,63.3 382.6,60.2 382.8,59.8 383.1,59.2 385.6,55.3 387.4,52.7 388.3,51.5 389.8,49.8 391.4,48.1 394.9,45.0 396.7,43.5 397.8,42.7 398.4,41.8 401.6,38.0 403.0,36.5 403.9,35.8 405.8,35.6 411.0,35.6 412.6,35.6 413.9,35.8 415.4,36.5 416.4,37.0 417.5,37.6 420.6,35.3 423.9,33.2 424.7,32.8 424.9,32.6 429.0,30.2 431.6,28.8 432.0,28.7 433.7,28.1 434.9,27.7 435.0,27.6 438.6,27.4 443.5,27.3 444.7,27.4 448.5,27.6 448.6,27.6 453.9,26.4 455.0,26.2 457.6,25.7 460.1,23.9 464.2,21.4 467.7,19.6 468.6,19.1 470.3,20.7 472.3,23.4 473.2,24.6 475.3,28.4 475.7,29.1 477.8,33.5 478.8,34.4 482.3,38.5 482.6,38.8 484.7,41.4 485.8,42.5 489.4,46.2 492.0,49.4 492.7,50.2 493.7,51.5 496.3,53.9 500.0,57.8 501.5,59.5 501.5,60.0 501.2,63.1 500.5,67.4 500.2,69.2 499.6,72.2 498.8,74.9 498.3,76.4 497.8,79.0 497.6,80.1 496.5,84.9 496.3,85.4 500.9,88.6 502.5,90.0 502.9,91.5 503.3,93.0 503.7,94.8 504.1,97.6 504.1,97.6 504.1,97.7 502.0,102.3 500.1,105.9 499.7,106.6 498.9,107.9 496.9,110.6 496.5,111.1 494.8,113.6 494.2,114.4 492.2,116.9 492.0,118.1 491.8,119.9 491.5,122.4 491.3,123.7 491.3,125.1 491.1,127.0 490.7,130.5 490.9,131.9 491.0,132.5 491.1,134.5 489.2,136.3 487.5,137.6 486.6,138.3 485.7,139.3 482.6,142.6 481.3,143.8 481.2,143.9 480.4,146.9 479.5,149.3 479.3,150.8 479.0,152.6 478.7,154.2 476.4,154.9 475.2,155.2 475.0,155.4 471.5,158.2 471.1,158.4 469.4,159.5 466.6,160.3 463.2,161.0 461.8,161.2 458.9,161.6 456.9,161.7 452.8,161.5 452.0,161.5 449.6,161.3 447.5,162.4 446.5,162.9 444.1,164.1 443.2,165.3 442.0,166.9 440.0,169.2 438.6,169.5 437.5,169.7 433.6,170.0 432.0,170.1 428.4,170.8 426.9,171.0 425.2,171.3 423.2,171.1 419.6,170.8 418.5,170.6 418.0,170.3 414.3,168.1 413.4,167.5 411.7,166.4 410.3,165.8 408.8,165.3 405.0,163.8 403.9,163.7 400.8,163.3 399.3,163.1 398.2,163.4 390.9,164.7 384.0,165.2 383.3,165.2 379.1,165.2 376.8,163.6 373.8,161.4 372.2,159.4 370.6,157.5 368.6,154.3 366.0,149.8 365.8,148.8 365.6,147.2 364.9,142.2 364.6,136.9 365.3,135.4 367.6,130.3 369.1,127.5 369.4,126.9 370.0,121.8 370.4,119.1 370.7,116.5 370.7,116.5 368.8,112.0 367.4,108.1 367.3,107.4 366.9,104.8 369.8,102.3 370.9,101.5 373.2,99.6" fill="#00c3ff"/><polygon points="374.2,97.7 374.9,93.4 375.8,89.2 376.1,88.0 376.0,87.3 375.4,84.8 374.5,80.0 374.1,75.1 374.0,74.4 374.9,73.6 377.3,71.5 379.2,70.1 380.0,67.9 381.8,63.8 383.4,60.7 383.5,60.4 383.9,59.8 386.3,55.9 388.1,53.4 389.0,52.2 390.4,50.4 392.0,48.7 395.4,45.6 397.2,44.1 398.2,43.3 398.9,42.5 402.1,38.8 403.5,37.3 404.3,36.7 406.3,36.5 411.4,36.5 412.9,36.6 414.3,36.7 415.7,37.5 416.6,37.8 417.7,38.2 420.7,36.1 424.1,34.1 424.8,33.6 425.1,33.5 429.1,31.1 431.7,29.7 432.0,29.6 433.7,29.0 434.9,28.6 435.0,28.5 438.5,28.3 443.4,28.2 444.6,28.2 448.3,28.4 448.4,28.4 453.6,27.4 454.7,27.3 457.3,26.7 459.7,25.1 463.7,22.8 467.0,21.1 468.0,20.7 469.7,22.0 471.7,24.6 472.6,25.8 474.7,29.5 475.1,30.2 477.3,34.4 478.2,35.3 481.6,39.4 481.9,39.7 484.0,42.2 485.1,43.3 488.6,47.0 491.3,50.1 491.9,50.9 492.9,52.1 495.5,54.6 499.0,58.4 500.5,60.1 500.5,60.6 500.2,63.6 499.7,67.7 499.4,69.5 498.8,72.5 498.0,75.2 497.5,76.7 496.8,79.3 496.7,80.3 496.0,85.0 495.9,85.5 500.0,88.7 501.5,90.1 501.8,91.6 502.3,93.1 502.9,94.8 503.5,97.6 503.5,97.6 503.4,97.7 501.3,102.3 499.3,105.8 498.9,106.5 498.2,107.8 496.3,110.5 496.0,111.0 494.3,113.5 493.7,114.2 491.7,116.7 491.5,117.9 491.1,119.7 490.9,122.1 490.8,123.5 490.8,124.9 490.6,126.7 490.2,130.2 490.4,131.6 490.4,132.1 490.5,134.1 488.6,135.8 487.0,137.2 486.1,137.9 485.3,138.9 482.2,142.2 480.9,143.4 480.8,143.5 479.9,146.3 479.0,148.6 478.7,150.0 478.4,151.8 478.1,153.3 475.9,154.2 474.8,154.5 474.6,154.7 471.0,157.4 470.7,157.6 468.9,158.6 466.1,159.3 462.7,159.9 461.3,160.1 458.5,160.5 456.5,160.5 452.5,160.4 451.7,160.4 449.4,160.4 447.3,161.5 446.3,162.0 444.0,163.2 443.1,164.4 441.9,166.0 440.0,168.2 438.6,168.5 437.5,168.8 433.6,169.1 432.0,169.1 428.5,169.7 427.0,169.8 425.4,170.1 423.4,170.0 419.8,169.8 418.7,169.4 418.3,169.2 414.7,166.8 413.9,166.1 412.2,164.9 410.9,164.2 409.4,163.8 405.5,162.6 404.5,162.5 401.5,162.2 399.9,162.0 398.8,162.3 391.8,163.4 385.1,163.8 384.5,163.8 380.4,163.6 378.1,162.1 375.1,160.0 373.4,158.2 371.8,156.4 369.9,153.2 367.6,148.7 367.4,147.6 367.1,146.1 366.5,141.2 366.2,136.1 366.7,134.6 368.7,129.8 370.0,127.1 370.4,126.5 371.1,121.4 371.6,118.7 371.7,116.2 371.7,116.2 369.6,111.8 368.2,108.0 368.1,107.2 368.2,104.7 371.0,102.3 372.0,101.4 374.0,99.6" fill="#00ffff"/><polygon points="375.0,97.7 375.6,93.5 376.5,89.3 376.8,88.1 376.7,87.4 376.2,85.0 375.5,80.3 375.2,75.5 375.2,74.8 375.9,74.0 378.2,71.9 379.9,70.4 380.7,68.3 382.6,64.3 384.2,61.3 384.3,60.9 384.7,60.3 387.0,56.5 388.7,54.0 389.6,52.8 391.0,51.1 392.6,49.4 395.9,46.3 397.7,44.8 398.7,43.9 399.3,43.1 402.5,39.5 403.9,38.1 404.8,37.6 406.7,37.4 411.7,37.4 413.3,37.5 414.6,37.7 416.1,38.4 416.9,38.6 417.9,38.9 420.9,36.9 424.2,34.9 425.0,34.5 425.2,34.3 429.2,32.0 431.7,30.6 432.1,30.5 433.7,29.9 434.9,29.4 435.0,29.4 438.5,29.1 443.3,29.0 444.5,29.1 448.2,29.3 448.3,29.3 453.4,28.5 454.4,28.4 457.0,27.7 459.3,26.2 463.2,24.1 466.4,22.6 467.4,22.2 469.2,23.2 471.2,25.8 472.0,27.0 474.1,30.6 474.5,31.3 476.7,35.3 477.6,36.2 480.9,40.3 481.1,40.6 483.3,43.0 484.4,44.1 487.9,47.7 490.5,50.7 491.1,51.5 492.2,52.8 494.6,55.2 498.0,59.0 499.4,60.7 499.5,61.2 499.3,64.1 498.8,68.1 498.6,69.9 498.1,72.8 497.2,75.4 496.7,76.9 495.8,79.6 495.8,80.6 495.6,85.1 495.5,85.5 499.1,88.8 500.4,90.2 500.8,91.7 501.4,93.1 502.1,94.8 502.8,97.6 502.8,97.6 502.8,97.7 500.6,102.2 498.5,105.7 498.1,106.4 497.5,107.6 495.7,110.4 495.4,110.9 493.8,113.4 493.3,114.1 491.3,116.6 491.0,117.7 490.4,119.4 490.4,121.9 490.3,123.3 490.3,124.6 490.2,126.5 489.8,130.0 489.9,131.3 489.9,131.8 489.8,133.6 488.0,135.4 486.5,136.8 485.7,137.6 484.8,138.6 481.8,141.8 480.5,143.0 480.4,143.1 479.4,145.8 478.5,148.0 478.1,149.3 477.7,151.0 477.4,152.4 475.4,153.6 474.4,153.9 474.2,154.1 470.6,156.7 470.3,156.9 468.4,157.7 465.6,158.3 462.3,158.8 460.9,159.0 458.1,159.4 456.1,159.4 452.2,159.3 451.5,159.3 449.2,159.5 447.2,160.5 446.1,161.0 443.9,162.4 443.0,163.6 441.8,165.0 439.9,167.1 438.5,167.6 437.5,167.9 433.6,168.1 432.1,168.2 428.7,168.6 427.2,168.7 425.5,168.9 423.5,168.9 420.1,168.7 419.0,168.3 418.6,168.0 415.1,165.4 414.3,164.8 412.8,163.4 411.5,162.6 410.0,162.3 406.1,161.4 405.1,161.3 402.1,161.1 400.6,160.9 399.5,161.2 392.7,162.0 386.2,162.3 385.7,162.3 381.8,162.0 379.5,160.6 376.5,158.7 374.7,157.0 373.0,155.3 371.3,152.1 369.1,147.5 368.9,146.5 368.7,145.0 368.0,140.2 367.7,135.2 368.1,133.8 369.7,129.3 371.0,126.7 371.3,126.1 372.2,121.0 372.9,118.3 372.6,115.9 372.6,115.9 370.5,111.6 368.9,107.9 369.0,107.1 369.4,104.6 372.2,102.2 373.2,101.3 374.8,99.6" fill="#00ffa0"/><polygon points="375.8,97.7 376.3,93.5 377.1,89.4 377.4,88.2 377.4,87.5 377.0,85.1 376.5,80.6 376.4,76.0 376.4,75.3 377.0,74.4 379.0,72.3 380.5,70.7 381.4,68.6 383.3,64.7 385.0,61.9 385.1,61.5 385.5,60.9 387.7,57.1 389.4,54.6 390.3,53.5 391.7,51.7 393.2,50.1 396.4,46.9 398.2,45.5 399.1,44.6 399.8,43.8 403.0,40.3 404.3,38.9 405.3,38.5 407.2,38.4 412.1,38.4 413.6,38.4 415.0,38.7 416.4,39.4 417.2,39.5 418.1,39.6 421.1,37.6 424.4,35.8 425.1,35.3 425.4,35.2 429.3,32.8 431.8,31.5 432.1,31.4 433.8,30.7 434.9,30.3 435.0,30.3 438.5,30.0 443.2,29.9 444.4,29.9 448.0,30.1 448.1,30.1 453.1,29.5 454.1,29.5 456.7,28.7 458.9,27.4 462.7,25.5 465.8,24.1 466.7,23.8 468.6,24.5 470.6,27.0 471.4,28.2 473.4,31.7 473.8,32.3 476.1,36.1 477.0,37.1 480.2,41.2 480.4,41.5 482.6,43.8 483.7,44.9 487.1,48.4 489.7,51.4 490.4,52.2 491.4,53.4 493.7,55.8 497.0,59.6 498.4,61.3 498.5,61.8 498.4,64.6 498.0,68.5 497.8,70.2 497.4,73.1 496.5,75.7 495.9,77.2 494.9,79.9 495.0,80.8 495.1,85.2 495.1,85.6 498.2,89.0 499.4,90.3 499.7,91.8 500.5,93.2 501.4,94.9 502.2,97.6 502.2,97.6 502.2,97.7 499.8,102.2 497.7,105.6 497.4,106.3 496.8,107.5 495.1,110.2 494.8,110.7 493.3,113.2 492.8,114.0 490.8,116.4 490.4,117.5 489.8,119.1 489.8,121.6 489.8,123.0 489.8,124.4 489.7,126.2 489.3,129.7 489.4,131.0 489.4,131.5 489.1,133.2 487.4,135.0 486.0,136.4 485.2,137.2 484.3,138.2 481.3,141.4 480.1,142.6 480.0,142.7 478.9,145.3 477.9,147.4 477.5,148.5 477.1,150.2 476.7,151.5 475.0,152.9 474.0,153.3 473.7,153.5 470.2,155.9 469.8,156.1 468.0,156.8 465.2,157.3 461.8,157.7 460.4,157.9 457.7,158.2 455.8,158.2 451.9,158.1 451.2,158.3 449.0,158.6 447.0,159.5 446.0,160.0 443.8,161.6 442.9,162.7 441.7,164.0 439.8,166.0 438.5,166.6 437.5,167.1 433.7,167.2 432.1,167.2 428.8,167.4 427.3,167.5 425.7,167.7 423.7,167.8 420.3,167.7 419.3,167.2 418.9,166.8 415.5,164.1 414.8,163.4 413.3,162.0 412.1,161.0 410.6,160.8 406.7,160.2 405.7,160.1 402.7,159.9 401.2,159.9 400.1,160.0 393.6,160.7 387.4,160.8 386.8,160.8 383.2,160.3 380.8,159.1 377.8,157.3 376.0,155.8 374.2,154.2 372.6,151.0 370.7,146.4 370.5,145.4 370.2,143.9 369.6,139.3 369.2,134.4 369.5,133.1 370.8,128.8 371.9,126.3 372.2,125.7 373.3,120.6 374.1,117.9 373.6,115.7 373.6,115.6 371.3,111.5 369.6,107.8 369.8,107.0 370.7,104.4 373.3,102.1 374.4,101.3 375.7,99.5" fill="#00ff32"/><polygon points="376.7,97.7 377.2,93.6 377.9,89.5 378.2,88.4 378.2,87.7 377.9,85.3 377.6,80.9 377.7,76.4 377.7,75.8 378.2,74.9 379.9,72.7 381.3,71.1 382.2,69.0 384.2,65.3 385.9,62.5 386.1,62.2 386.4,61.6 388.6,57.8 390.2,55.3 391.1,54.2 392.4,52.5 393.9,50.8 397.1,47.7 398.7,46.2 399.6,45.3 400.3,44.6 403.5,41.2 404.8,39.9 405.8,39.5 407.7,39.4 412.6,39.4 414.1,39.5 415.4,39.9 416.7,40.5 417.5,40.4 418.3,40.4 421.3,38.5 424.6,36.8 425.3,36.3 425.5,36.1 429.4,33.9 431.8,32.6 432.2,32.4 433.8,31.8 435.0,31.3 435.1,31.3 438.4,31.0 443.1,30.9 444.3,30.9 447.9,31.0 448.0,31.1 452.8,30.8 453.8,30.8 456.3,29.9 458.5,28.7 462.1,27.1 465.1,25.9 466.0,25.6 468.0,25.9 469.9,28.5 470.7,29.6 472.7,33.0 473.1,33.6 475.4,37.2 476.3,38.2 479.4,42.3 479.6,42.6 481.8,44.8 482.8,45.8 486.3,49.3 488.8,52.2 489.4,52.9 490.5,54.1 492.7,56.6 495.9,60.3 497.2,62.1 497.3,62.4 497.3,65.2 497.0,69.0 496.9,70.6 496.5,73.4 495.5,76.1 494.9,77.6 493.8,80.2 493.9,81.1 494.6,85.3 494.6,85.7 497.2,89.1 498.1,90.5 498.5,91.9 499.4,93.3 500.5,94.9 501.5,97.6 501.5,97.6 501.4,97.7 499.0,102.1 496.8,105.5 496.5,106.2 495.9,107.4 494.4,110.1 494.1,110.6 492.7,113.1 492.2,113.8 490.3,116.3 489.8,117.2 489.0,118.8 489.2,121.3 489.2,122.7 489.3,124.1 489.2,125.9 488.8,129.4 488.8,130.6 488.8,131.1 488.3,132.7 486.7,134.5 485.4,136.0 484.6,136.7 483.8,137.7 480.9,140.9 479.7,142.1 479.5,142.2 478.4,144.6 477.3,146.6 476.8,147.7 476.4,149.2 476.0,150.5 474.4,152.2 473.5,152.6 473.2,152.8 469.7,155.1 469.3,155.2 467.4,155.8 464.6,156.1 461.2,156.4 459.9,156.6 457.2,156.9 455.3,156.9 451.6,156.8 450.9,157.0 448.8,157.5 446.8,158.4 445.8,158.9 443.7,160.6 442.8,161.6 441.6,162.9 439.8,164.8 438.5,165.5 437.4,166.0 433.7,166.1 432.2,166.1 428.9,166.1 427.5,166.1 425.9,166.4 424.0,166.4 420.6,166.5 419.6,165.8 419.2,165.5 416.0,162.5 415.3,161.8 413.9,160.3 412.8,159.2 411.3,159.1 407.3,158.8 406.3,158.7 403.4,158.6 401.9,158.6 400.9,158.7 394.6,159.2 388.7,159.1 388.2,159.0 384.7,158.5 382.4,157.3 379.4,155.7 377.5,154.3 375.6,152.9 374.2,149.6 372.5,145.0 372.3,144.0 372.0,142.6 371.4,138.1 371.0,133.4 371.2,132.2 372.0,128.2 373.0,125.8 373.2,125.2 374.6,120.1 375.5,117.5 374.7,115.3 374.7,115.3 372.3,111.3 370.4,107.7 370.8,106.9 372.2,104.3 374.7,102.0 375.7,101.2 376.6,99.5" fill="#3cff00"/><polygon points="377.4,97.7 377.8,93.6 378.5,89.6 378.8,88.4 378.8,87.8 378.6,85.5 378.5,81.2 378.7,76.8 378.8,76.2 379.2,75.3 380.7,73.0 381.8,71.4 382.8,69.4 384.9,65.7 386.6,63.0 386.8,62.7 387.1,62.1 389.2,58.4 390.8,55.9 391.7,54.8 393.0,53.1 394.5,51.5 397.5,48.3 399.2,46.8 400.0,45.9 400.7,45.2 403.9,41.9 405.2,40.6 406.3,40.3 408.1,40.3 412.9,40.3 414.4,40.4 415.7,40.8 417.0,41.3 417.7,41.2 418.5,41.0 421.5,39.2 424.7,37.5 425.4,37.1 425.7,36.9 429.5,34.7 431.9,33.4 432.3,33.3 433.8,32.6 435.0,32.2 435.1,32.1 438.4,31.8 443.0,31.7 444.2,31.7 447.7,31.8 447.8,31.8 452.5,31.7 453.5,31.8 456.0,30.8 458.2,29.8 461.7,28.3 464.6,27.3 465.4,27.0 467.5,27.0 469.3,29.6 470.1,30.7 472.1,34.0 472.5,34.6 474.9,38.0 475.7,39.0 478.7,43.1 478.9,43.4 481.1,45.5 482.2,46.5 485.6,49.9 488.1,52.8 488.7,53.5 489.7,54.7 491.9,57.1 495.0,60.9 496.2,62.6 496.4,63.0 496.4,65.6 496.3,69.4 496.2,71.0 495.9,73.7 494.8,76.3 494.1,77.8 492.9,80.5 493.1,81.3 494.2,85.4 494.2,85.8 496.4,89.2 497.1,90.6 497.5,92.0 498.6,93.3 499.8,94.9 500.9,97.6 500.9,97.6 500.9,97.7 498.4,102.1 496.1,105.4 495.8,106.1 495.3,107.3 493.9,110.0 493.6,110.5 492.3,112.9 491.8,113.7 489.9,116.1 489.3,117.1 488.4,118.6 488.6,121.1 488.7,122.5 488.8,123.9 488.7,125.7 488.4,129.1 488.3,130.3 488.3,130.8 487.7,132.2 486.2,134.1 484.9,135.6 484.2,136.4 483.4,137.4 480.5,140.5 479.3,141.7 479.2,141.9 477.9,144.1 476.8,146.0 476.3,147.0 475.8,148.5 475.4,149.7 474.0,151.6 473.1,152.0 472.8,152.2 469.3,154.4 468.9,154.5 466.9,154.9 464.2,155.2 460.8,155.4 459.5,155.6 456.9,155.8 455.0,155.9 451.3,155.8 450.6,156.0 448.6,156.7 446.7,157.6 445.7,158.0 443.6,159.8 442.7,160.8 441.5,162.0 439.7,163.8 438.4,164.6 437.4,165.2 433.7,165.2 432.3,165.2 429.0,165.1 427.6,165.1 426.1,165.3 424.2,165.4 420.8,165.5 419.9,164.8 419.5,164.4 416.4,161.3 415.7,160.5 414.4,158.9 413.4,157.8 411.8,157.8 407.9,157.6 406.9,157.7 403.9,157.6 402.4,157.6 401.5,157.7 395.4,158.0 389.7,157.8 389.2,157.7 386.0,157.0 383.7,155.9 380.6,154.4 378.6,153.2 376.7,151.9 375.4,148.6 373.9,144.0 373.7,143.0 373.5,141.6 372.8,137.3 372.4,132.7 372.5,131.5 373.0,127.7 373.9,125.4 374.1,124.9 375.7,119.7 376.6,117.1 375.6,115.1 375.6,115.1 373.0,111.1 371.1,107.6 371.6,106.8 373.4,104.1 375.8,101.9 376.8,101.1 377.4,99.5" fill="#c8ff00"/><polygon points="378.0,97.7 378.3,93.7 378.9,89.7 379.2,88.5 379.3,87.9 379.1,85.6 379.2,81.4 379.5,77.1 379.6,76.5 379.9,75.6 381.2,73.3 382.3,71.6 383.3,69.6 385.4,66.0 387.1,63.4 387.3,63.1 387.6,62.5 389.7,58.8 391.3,56.3 392.1,55.2 393.4,53.5 394.9,51.9 397.9,48.8 399.5,47.3 400.3,46.4 401.0,45.6 404.2,42.4 405.5,41.1 406.6,40.9 408.4,40.9 413.1,40.9 414.6,41.0 415.9,41.4 417.3,42.0 417.9,41.7 418.7,41.5 421.6,39.7 424.8,38.1 425.5,37.6 425.8,37.5 429.5,35.3 431.9,34.0 432.3,33.9 433.8,33.2 435.0,32.7 435.1,32.7 438.4,32.4 443.0,32.3 444.1,32.3 447.6,32.4 447.7,32.4 452.4,32.4 453.3,32.5 455.8,31.5 457.9,30.6 461.3,29.2 464.1,28.3 465.0,28.0 467.1,27.9 468.9,30.4 469.7,31.5 471.7,34.8 472.1,35.3 474.5,38.6 475.3,39.6 478.3,43.7 478.5,44.0 480.7,46.0 481.7,47.0 485.1,50.4 487.5,53.3 488.2,54.0 489.2,55.1 491.4,57.6 494.3,61.3 495.5,63.0 495.7,63.4 495.8,66.0 495.7,69.6 495.6,71.2 495.4,73.9 494.3,76.5 493.6,78.0 492.2,80.7 492.6,81.5 493.8,85.4 494.0,85.9 495.8,89.3 496.4,90.7 496.8,92.1 498.0,93.4 499.3,95.0 500.5,97.6 500.5,97.6 500.4,97.7 497.9,102.0 495.6,105.3 495.3,106.0 494.8,107.2 493.5,109.9 493.2,110.4 491.9,112.8 491.4,113.6 489.6,116.0 489.0,116.9 487.9,118.4 488.3,120.9 488.4,122.4 488.5,123.8 488.4,125.5 488.1,128.9 488.0,130.1 488.0,130.6 487.3,131.9 485.8,133.8 484.6,135.3 483.9,136.1 483.1,137.1 480.2,140.3 479.0,141.4 478.9,141.6 477.6,143.8 476.4,145.6 475.9,146.5 475.4,148.0 474.9,149.1 473.7,151.1 472.8,151.6 472.6,151.8 469.0,153.9 468.6,154.0 466.6,154.3 463.8,154.6 460.5,154.7 459.2,154.8 456.6,155.0 454.8,155.1 451.1,155.0 450.5,155.3 448.5,156.1 446.5,156.9 445.6,157.3 443.6,159.3 442.7,160.2 441.5,161.3 439.7,163.1 438.4,164.0 437.4,164.7 433.8,164.6 432.3,164.5 429.1,164.4 427.7,164.3 426.2,164.5 424.3,164.7 420.9,164.8 420.0,164.0 419.7,163.7 416.7,160.4 416.0,159.6 414.7,157.9 413.8,156.7 412.2,156.8 408.2,156.8 407.2,156.9 404.3,156.8 402.8,156.9 401.9,157.0 396.0,157.1 390.5,156.8 390.0,156.7 386.9,155.9 384.6,154.9 381.5,153.5 379.5,152.4 377.5,151.2 376.3,147.9 374.9,143.2 374.8,142.3 374.5,140.9 373.8,136.6 373.4,132.1 373.5,131.0 373.7,127.4 374.5,125.1 374.7,124.6 376.4,119.4 377.5,116.8 376.2,114.9 376.2,114.9 373.6,111.0 371.5,107.5 372.1,106.7 374.2,104.1 376.6,101.9 377.5,101.1 377.9,99.5" fill="#ffe600"/><polygon points="378.4,97.7 378.7,93.7 379.3,89.7 379.6,88.6 379.7,87.9 379.6,85.7 379.7,81.5 380.2,77.3 380.2,76.7 380.5,75.8 381.7,73.5 382.6,71.8 383.7,69.8 385.8,66.3 387.6,63.7 387.8,63.4 388.1,62.8 390.1,59.1 391.7,56.7 392.5,55.6 393.8,53.9 395.2,52.3 398.2,49.2 399.8,47.7 400.6,46.7 401.3,46.0 404.4,42.8 405.8,41.6 406.8,41.5 408.6,41.4 413.4,41.4 414.8,41.5 416.2,42.0 417.4,42.5 418.1,42.2 418.8,41.9 421.8,40.2 424.9,38.6 425.6,38.1 425.9,38.0 429.6,35.8 432.0,34.5 432.3,34.4 433.9,33.7 435.0,33.3 435.1,33.2 438.4,32.9 442.9,32.8 444.1,32.8 447.5,32.8 447.6,32.8 452.2,33.1 453.1,33.1 455.7,32.1 457.7,31.2 461.0,30.0 463.8,29.2 464.6,29.0 466.8,28.6 468.6,31.1 469.4,32.2 471.3,35.4 471.7,36.0 474.2,39.1 475.0,40.1 477.9,44.2 478.1,44.5 480.3,46.5 481.3,47.5 484.6,50.8 487.1,53.7 487.7,54.4 488.8,55.5 490.9,57.9 493.7,61.7 494.9,63.4 495.1,63.7 495.2,66.3 495.2,69.8 495.2,71.4 495.0,74.1 493.8,76.7 493.1,78.2 491.7,80.9 492.0,81.7 493.6,85.5 493.7,85.9 495.3,89.4 495.8,90.8 496.2,92.2 497.5,93.4 498.9,95.0 500.1,97.6 500.1,97.6 500.1,97.7 497.5,102.0 495.1,105.3 494.8,106.0 494.4,107.1 493.1,109.8 492.9,110.3 491.6,112.8 491.1,113.5 489.3,115.9 488.6,116.8 487.5,118.2 487.9,120.8 488.1,122.2 488.2,123.6 488.2,125.4 487.8,128.8 487.7,129.9 487.7,130.4 486.9,131.7 485.5,133.6 484.3,135.1 483.6,135.9 482.8,136.9 480.0,140.0 478.8,141.2 478.7,141.4 477.3,143.5 476.1,145.2 475.5,146.1 475.0,147.5 474.5,148.6 473.4,150.7 472.6,151.2 472.3,151.4 468.7,153.5 468.3,153.5 466.3,153.8 463.6,154.0 460.2,154.0 458.9,154.2 456.4,154.4 454.5,154.4 450.9,154.4 450.3,154.7 448.3,155.5 446.4,156.4 445.5,156.8 443.5,158.8 442.6,159.7 441.4,160.8 439.6,162.4 438.4,163.4 437.4,164.1 433.8,164.1 432.3,164.0 429.2,163.7 427.8,163.6 426.3,163.8 424.4,164.0 421.1,164.2 420.2,163.4 419.8,163.0 416.9,159.7 416.2,158.8 415.0,157.1 414.1,155.8 412.6,155.9 408.6,156.1 407.6,156.2 404.7,156.2 403.2,156.2 402.3,156.3 396.5,156.3 391.1,155.9 390.7,155.8 387.7,155.0 385.4,154.0 382.3,152.7 380.2,151.7 378.2,150.5 377.1,147.2 375.9,142.5 375.7,141.6 375.4,140.2 374.7,136.0 374.3,131.6 374.3,130.6 374.4,127.1 375.1,124.9 375.2,124.4 377.1,119.2 378.2,116.6 376.8,114.7 376.8,114.7 374.0,110.9 371.9,107.5 372.6,106.6 375.0,104.0 377.3,101.8 378.2,101.0 378.4,99.5" fill="#ff8200"/><polygon points="378.8,97.7 379.1,93.7 379.7,89.8 379.9,88.6 380.0,88.0 380.0,85.8 380.2,81.7 380.7,77.5 380.8,76.9 381.0,76.0 382.1,73.6 383.0,71.9 384.0,70.0 386.2,66.5 388.0,64.0 388.2,63.7 388.5,63.1 390.5,59.4 392.0,57.0 392.8,55.9 394.1,54.3 395.5,52.6 398.4,49.5 400.0,48.0 400.8,47.1 401.5,46.4 404.6,43.2 406.0,42.0 407.1,41.9 408.9,41.8 413.6,41.9 415.0,42.0 416.3,42.5 417.6,43.0 418.2,42.6 418.9,42.2 421.8,40.5 425.0,39.0 425.7,38.6 425.9,38.4 429.6,36.2 432.0,35.0 432.3,34.8 433.9,34.2 435.0,33.7 435.1,33.7 438.3,33.4 442.9,33.2 444.0,33.2 447.5,33.2 447.6,33.2 452.1,33.6 453.0,33.7 455.5,32.6 457.5,31.8 460.8,30.7 463.5,29.9 464.3,29.7 466.5,29.2 468.3,31.7 469.1,32.8 471.0,36.0 471.4,36.5 473.9,39.5 474.7,40.5 477.5,44.7 477.7,45.0 479.9,46.9 481.0,47.9 484.3,51.2 486.7,54.0 487.4,54.7 488.4,55.8 490.4,58.2 493.2,62.0 494.4,63.7 494.6,64.0 494.8,66.5 494.8,70.0 494.8,71.6 494.6,74.2 493.4,76.8 492.7,78.3 491.2,81.0 491.6,81.8 493.4,85.5 493.5,85.9 494.8,89.4 495.3,90.8 495.7,92.2 497.0,93.4 498.5,95.0 499.8,97.6 499.8,97.6 499.7,97.7 497.1,102.0 494.7,105.2 494.4,105.9 494.0,107.1 492.8,109.8 492.6,110.3 491.4,112.7 490.9,113.4 489.1,115.8 488.4,116.7 487.2,118.1 487.7,120.7 487.8,122.1 488.0,123.5 487.9,125.3 487.6,128.6 487.5,129.8 487.4,130.2 486.6,131.5 485.2,133.4 484.0,134.9 483.4,135.7 482.6,136.7 479.7,139.8 478.6,141.0 478.5,141.1 477.1,143.2 475.8,144.9 475.2,145.7 474.7,147.1 474.2,148.2 473.2,150.4 472.4,150.9 472.1,151.1 468.5,153.1 468.1,153.1 466.1,153.3 463.3,153.5 460.0,153.5 458.7,153.6 456.1,153.8 454.3,153.9 450.8,153.8 450.2,154.1 448.2,155.1 446.4,155.9 445.4,156.3 443.4,158.4 442.6,159.2 441.4,160.3 439.6,161.9 438.4,162.9 437.4,163.7 433.8,163.6 432.4,163.5 429.2,163.2 427.9,163.0 426.4,163.2 424.5,163.4 421.2,163.7 420.3,162.8 420.0,162.4 417.1,159.0 416.5,158.1 415.3,156.4 414.4,155.0 412.9,155.2 408.9,155.5 407.9,155.6 405.0,155.6 403.5,155.7 402.6,155.7 397.0,155.7 391.7,155.2 391.3,155.1 388.4,154.1 386.1,153.3 383.0,152.0 380.9,151.0 378.8,150.0 377.8,146.6 376.6,141.9 376.4,141.0 376.2,139.7 375.5,135.6 375.1,131.2 375.0,130.2 374.9,126.8 375.5,124.7 375.7,124.2 377.6,119.0 378.8,116.4 377.3,114.6 377.3,114.6 374.5,110.8 372.3,107.4 373.0,106.6 375.6,103.9 377.9,101.8 378.8,101.0 378.8,99.4" fill="#ff0000"/></g><path d="M488.3 96.5 L492.4 96.4 L492.4 99.0 L488.3 98.9M488.2 101.6 L492.6 102.0 L492.3 104.5 L487.9 104.0M487.5 106.7 L493.0 107.7 L492.5 110.2 L487.1 109.0M486.4 111.7 L491.5 113.1 L490.7 115.6 L485.7 114.0M484.8 116.6 L490.5 118.8 L489.5 121.3 L483.9 118.8M482.7 121.3 L488.3 124.1 L487.0 126.4 L481.6 123.3M480.1 125.7 L485.3 129.0 L483.8 131.2 L478.8 127.7M477.2 129.9 L482.5 134.1 L480.8 136.1 L475.7 131.7M473.8 133.8 L478.4 138.1 L476.5 140.0 L472.2 135.4M470.1 137.3 L474.5 142.4 L472.4 144.0 L468.3 138.8M466.1 140.4 L469.6 145.4 L467.4 146.9 L464.1 141.7M461.7 143.2 L464.6 148.3 L462.3 149.6 L459.7 144.3M457.2 145.5 L459.6 151.0 L457.2 152.0 L455.0 146.4M452.4 147.3 L454.3 153.1 L451.8 153.9 L450.1 148.0M447.4 148.7 L448.5 153.4 L446.0 153.9 L445.1 149.1M427.1 149.1 L426.6 151.9 L424.1 151.4 L424.8 148.7M422.1 148.0 L421.2 151.0 L418.8 150.3 L419.8 147.3M417.2 146.4 L415.7 150.2 L413.4 149.3 L415.0 145.5M412.5 144.3 L410.6 148.1 L408.4 146.9 L410.5 143.2M408.1 141.7 L405.6 145.6 L403.5 144.2 L406.1 140.4M403.9 138.8 L400.3 143.3 L398.3 141.7 L402.1 137.3M400.0 135.4 L396.5 139.1 L394.7 137.3 L398.4 133.8M396.5 131.7 L391.6 135.9 L389.9 133.9 L395.0 129.9M393.4 127.7 L388.4 131.2 L386.9 129.0 L392.1 125.7M390.6 123.3 L385.3 126.4 L384.0 124.0 L389.5 121.3M388.3 118.8 L382.6 121.3 L381.6 118.8 L387.4 116.6M386.5 114.0 L380.3 116.0 L379.5 113.5 L385.8 111.7M385.1 109.0 L378.2 110.6 L377.6 108.0 L384.7 106.7M384.3 104.0 L378.0 104.8 L377.8 102.1 L384.0 101.6M383.9 98.9 L377.3 99.0 L377.3 96.4 L383.9 96.5M384.0 93.8 L377.7 93.3 L377.9 90.6 L384.3 91.4M384.7 88.7 L379.1 87.7 L379.6 85.1 L385.1 86.4M385.8 83.7 L380.5 82.2 L381.3 79.7 L386.5 81.4M387.4 78.8 L383.3 77.2 L384.2 74.8 L388.3 76.6M389.5 74.1 L386.0 72.4 L387.2 70.1 L390.6 72.1M392.1 69.7 L389.0 67.8 L390.4 65.7 L393.4 67.7M395.0 65.5 L392.2 63.3 L393.8 61.3 L396.5 63.7M398.4 61.6 L396.4 59.7 L398.1 58.0 L400.0 60.0M402.1 58.1 L400.0 55.7 L401.9 54.1 L403.9 56.6M406.1 55.0 L403.8 51.6 L405.9 50.2 L408.1 53.7M410.5 52.2 L408.3 48.3 L410.5 47.1 L412.5 51.1M415.0 49.9 L413.1 45.5 L415.5 44.6 L417.2 49.0M419.8 48.1 L418.0 42.5 L420.5 41.8 L422.1 47.4M424.8 46.7 L423.4 40.7 L426.0 40.2 L427.1 46.3M445.1 46.3 L446.2 39.9 L448.8 40.4 L447.4 46.7M450.1 47.4 L452.0 40.8 L454.5 41.6 L452.4 48.1M455.0 49.0 L457.4 42.7 L459.9 43.8 L457.2 49.9M459.7 51.1 L462.8 44.9 L465.2 46.1 L461.7 52.2M464.1 53.7 L467.6 48.1 L469.9 49.6 L466.1 55.0M468.3 56.6 L471.8 52.1 L473.9 53.8 L470.1 58.1M472.2 60.0 L476.4 55.5 L478.3 57.4 L473.8 61.6M475.7 63.7 L479.3 60.6 L480.9 62.6 L477.2 65.5M478.8 67.7 L482.6 65.1 L484.0 67.2 L480.1 69.7M481.6 72.1 L485.4 69.9 L486.6 72.1 L482.7 74.1M483.9 76.6 L486.7 75.4 L487.7 77.7 L484.8 78.8M485.7 81.4 L488.5 80.5 L489.2 82.9 L486.4 83.7M487.1 86.4 L489.7 85.8 L490.1 88.2 L487.5 88.7M487.9 91.4 L491.9 90.9 L492.1 93.5 L488.2 93.8" fill="none" stroke="#6a0a5a" stroke-opacity="0.5" stroke-width="0.5"/><circle cx="436.1" cy="97.7" r="50.0" fill="#fff"/><circle cx="436.1" cy="97.7" r="50.0" fill="none" stroke="#777" stroke-width="0.8" stroke-dasharray="1.1 1.1"/><rect x="417.4" y="5" width="7.2" height="62.4" fill="#d2d2d2"/><text transform="translate(423.1,66) rotate(-90)" class="ax" fill="#e02828">28.78 Mpa Axial Force</text><rect x="437" y="100.8" width="6.8" height="58.4" fill="#cfd4d8"/><text transform="translate(442.4,158) rotate(-90)" class="ax" fill="#1c78d0">1.06 Mpa Axial Force</text><circle cx="436.1" cy="97.8" r="77.6" fill="none" stroke="#0a0a20" stroke-width="1.1"/><line x1="436.3" y1="97.2" x2="485.0" y2="40.9" stroke="#222" stroke-width="0.6"/><polygon points="485.0,40.9 483.2,46.2 480.0,43.5" fill="#111"/><text x="444.6" y="101.5" class="rl">R=6.1</text></g><text x="412.9" y="217.8" class="cap" text-anchor="middle">(<tspan font-weight="bold">b</tspan>)</text><rect x="2.0" y="225.3" width="50.0" height="199.0" fill="#f0f0f0"/><rect x="6.6" y="261.00" width="23.5" height="6.62" fill="#0000ff" stroke="#000" stroke-opacity="0.8" stroke-width="0.6"/><rect x="6.6" y="267.62" width="23.5" height="6.62" fill="#002aff" stroke="#000" stroke-opacity="0.8" stroke-width="0.6"/><rect x="6.6" y="274.25" width="23.5" height="6.62" fill="#0055ff" stroke="#000" stroke-opacity="0.8" stroke-width="0.6"/><rect x="6.6" y="280.88" width="23.5" height="6.62" fill="#007fff" stroke="#000" stroke-opacity="0.8" stroke-width="0.6"/><rect x="6.6" y="287.50" width="23.5" height="6.62" fill="#00aaff" stroke="#000" stroke-opacity="0.8" stroke-width="0.6"/><rect x="6.6" y="294.12" width="23.5" height="6.62" fill="#00d4ff" stroke="#000" stroke-opacity="0.8" stroke-width="0.6"/><rect x="6.6" y="300.75" width="23.5" height="6.62" fill="#00ffff" stroke="#000" stroke-opacity="0.8" stroke-width="0.6"/><rect x="6.6" y="307.38" width="23.5" height="6.62" fill="#00ffd4" stroke="#000" stroke-opacity="0.8" stroke-width="0.6"/><rect x="6.6" y="314.00" width="23.5" height="6.62" fill="#00ffaa" stroke="#000" stroke-opacity="0.8" stroke-width="0.6"/><rect x="6.6" y="320.62" width="23.5" height="6.62" fill="#00ff7f" stroke="#000" stroke-opacity="0.8" stroke-width="0.6"/><rect x="6.6" y="327.25" width="23.5" height="6.62" fill="#00ff54" stroke="#000" stroke-opacity="0.8" stroke-width="0.6"/><rect x="6.6" y="333.88" width="23.5" height="6.62" fill="#00ff2a" stroke="#000" stroke-opacity="0.8" stroke-width="0.6"/><rect x="6.6" y="340.50" width="23.5" height="6.62" fill="#00ff00" stroke="#000" stroke-opacity="0.8" stroke-width="0.6"/><rect x="6.6" y="347.12" width="23.5" height="6.62" fill="#2aff00" stroke="#000" stroke-opacity="0.8" stroke-width="0.6"/><rect x="6.6" y="353.75" width="23.5" height="6.62" fill="#55ff00" stroke="#000" stroke-opacity="0.8" stroke-width="0.6"/><rect x="6.6" y="360.38" width="23.5" height="6.62" fill="#7fff00" stroke="#000" stroke-opacity="0.8" stroke-width="0.6"/><rect x="6.6" y="367.00" width="23.5" height="6.62" fill="#a9ff00" stroke="#000" stroke-opacity="0.8" stroke-width="0.6"/><rect x="6.6" y="373.62" width="23.5" height="6.62" fill="#d4ff00" stroke="#000" stroke-opacity="0.8" stroke-width="0.6"/><rect x="6.6" y="380.25" width="23.5" height="6.62" fill="#ffff00" stroke="#000" stroke-opacity="0.8" stroke-width="0.6"/><rect x="6.6" y="386.88" width="23.5" height="6.62" fill="#ffd400" stroke="#000" stroke-opacity="0.8" stroke-width="0.6"/><rect x="6.6" y="393.50" width="23.5" height="6.62" fill="#ffa900" stroke="#000" stroke-opacity="0.8" stroke-width="0.6"/><rect x="6.6" y="400.12" width="23.5" height="6.62" fill="#ff7f00" stroke="#000" stroke-opacity="0.8" stroke-width="0.6"/><rect x="6.6" y="406.75" width="23.5" height="6.62" fill="#ff5500" stroke="#000" stroke-opacity="0.8" stroke-width="0.6"/><rect x="6.6" y="413.38" width="23.5" height="6.62" fill="#ff0000" stroke="#000" stroke-opacity="0.8" stroke-width="0.6"/><text x="6.9" y="235.9" class="lt">Yielded</text><text x="6.9" y="245.3" class="lt">Elements</text><text x="6.9" y="254.7" class="lt">[per-cent]</text><text x="47.9" y="264.2" class="ll" text-anchor="end">0</text><text x="47.9" y="277.4" class="ll" text-anchor="end">8</text><text x="47.9" y="290.7" class="ll" text-anchor="end">17</text><text x="47.9" y="303.9" class="ll" text-anchor="end">25</text><text x="47.9" y="317.2" class="ll" text-anchor="end">33</text><text x="47.9" y="330.4" class="ll" text-anchor="end">42</text><text x="47.9" y="343.7" class="ll" text-anchor="end">50</text><text x="47.9" y="356.9" class="ll" text-anchor="end">58</text><text x="47.9" y="370.2" class="ll" text-anchor="end">67</text><text x="47.9" y="383.4" class="ll" text-anchor="end">75</text><text x="47.9" y="396.7" class="ll" text-anchor="end">83</text><text x="47.9" y="409.9" class="ll" text-anchor="end">92</text><text x="47.9" y="423.2" class="ll" text-anchor="end">100</text><rect x="52.0" y="225.3" width="214.0" height="199.0" fill="#0000ff"/><g clip-path="url(#clipc)"><g filter="url(#blur)"><polygon points="100.9,323.7 100.2,319.8 99.8,315.7 99.7,313.6 99.7,312.3 100.0,311.7 102.0,308.0 103.7,305.3 104.2,304.6 105.5,303.1 106.0,301.2 107.0,297.3 107.2,296.8 108.0,293.9 108.1,293.4 109.2,289.3 110.6,285.1 110.8,284.7 111.4,283.4 112.4,281.0 114.5,277.0 116.1,274.3 116.9,272.8 116.9,272.8 119.4,268.6 121.9,265.0 122.0,263.7 122.2,261.5 123.4,255.6 123.5,254.9 124.3,253.8 125.6,251.9 128.1,253.1 129.3,253.7 130.4,254.3 134.2,254.9 138.5,255.8 138.7,255.8 139.7,256.0 144.9,257.1 147.0,257.6 147.6,257.6 149.6,257.5 154.3,257.6 156.7,257.8 156.7,257.8 158.9,257.4 163.6,256.7 167.7,256.5 168.5,256.3 168.5,256.3 173.6,255.4 178.7,255.0 179.1,254.6 181.1,252.5 183.2,250.6 186.8,248.8 189.6,247.7 189.8,248.4 191.3,252.5 192.8,257.4 193.8,258.4 194.1,258.7 197.7,262.8 199.7,265.3 200.7,267.2 201.5,268.7 203.1,272.1 204.5,275.5 205.3,276.7 205.9,277.8 207.5,281.0 209.0,284.8 209.4,285.3 210.5,286.8 212.1,289.0 214.2,292.7 214.4,293.0 214.9,293.8 216.4,297.1 217.0,298.7 217.1,299.0 216.1,302.0 214.2,306.6 213.8,307.3 213.3,308.1 210.4,312.2 210.4,312.3 210.6,312.8 211.0,316.1 211.2,319.2 211.2,319.9 211.3,321.9 211.3,323.7 211.2,327.5 211.1,328.8 211.2,329.0 212.2,331.5 213.7,335.7 213.6,335.8 213.6,335.8 211.7,339.5 210.9,341.0 210.7,341.2 209.8,343.1 207.7,346.5 207.4,347.0 207.3,347.1 206.4,350.2 205.0,354.0 203.4,357.7 202.9,358.6 202.3,359.9 201.2,361.1 198.4,364.1 196.9,365.5 195.4,366.8 195.0,367.2 192.4,369.5 189.6,371.7 189.2,372.0 189.0,372.1 187.0,376.3 185.3,379.4 184.4,380.7 184.2,381.0 181.4,385.1 179.2,387.9 177.9,388.8 177.8,388.9 173.5,391.6 170.9,393.1 169.5,393.8 169.0,393.8 164.0,393.7 162.5,393.6 162.1,393.6 159.0,393.8 155.9,393.8 155.8,393.8 154.2,392.4 151.0,389.3 150.1,388.9 149.8,388.7 145.6,385.9 143.7,384.4 141.8,385.1 141.3,385.2 136.3,386.3 134.0,386.6 131.2,387.5 130.8,387.6 124.8,389.0 124.3,389.1 123.0,388.9 119.1,388.7 114.4,388.0 113.9,387.0 111.8,382.5 111.4,381.5 111.0,380.5 108.4,377.3 105.4,373.2 104.1,371.2 103.8,370.7 103.0,368.7 101.3,363.9 100.2,359.9 99.9,359.4 99.8,359.2 97.6,355.1 95.7,350.8 94.9,348.7 94.0,346.6 94.0,346.5 95.2,341.3 96.8,336.4 97.6,334.5 98.0,332.9 98.3,331.9 100.0,327.7 101.2,325.1 101.2,325.0" fill="#0028ff"/><polygon points="101.3,323.7 100.7,319.8 100.4,315.8 100.3,313.7 100.3,312.4 100.6,311.8 102.6,308.2 104.3,305.6 104.8,304.9 106.0,303.3 106.4,301.3 107.3,297.5 107.5,297.0 108.4,294.2 108.5,293.7 109.7,289.6 111.1,285.5 111.3,285.2 111.9,283.9 112.9,281.5 114.9,277.4 116.5,274.7 117.3,273.3 117.3,273.2 119.8,269.1 122.2,265.6 122.4,264.4 122.7,262.2 123.8,256.5 124.0,255.9 124.7,254.7 126.0,252.9 128.4,253.9 129.5,254.4 130.6,254.9 134.4,255.5 138.7,256.4 138.8,256.4 139.9,256.6 145.0,257.7 147.0,258.2 147.7,258.2 149.7,258.1 154.3,258.1 156.7,258.3 156.7,258.3 158.9,257.8 163.6,257.2 167.6,257.0 168.4,256.8 168.4,256.8 173.5,255.9 178.5,255.5 178.9,255.1 180.9,253.2 182.9,251.4 186.5,249.7 189.2,248.6 189.5,249.2 191.0,253.1 192.6,257.8 193.5,258.7 193.9,259.1 197.4,263.2 199.4,265.7 200.4,267.6 201.2,269.1 202.7,272.5 204.1,275.9 204.8,277.2 205.4,278.2 207.0,281.4 208.6,285.1 209.0,285.6 210.1,287.1 211.6,289.3 213.8,292.9 214.0,293.2 214.5,294.0 215.8,297.3 216.4,298.9 216.5,299.3 215.5,302.2 213.6,306.8 213.2,307.5 212.8,308.2 210.0,312.3 210.0,312.3 210.1,312.9 210.6,316.1 210.8,319.2 210.9,319.9 211.0,321.9 211.0,323.7 210.9,327.5 210.8,328.8 210.9,329.0 211.9,331.5 213.3,335.6 213.3,335.7 213.2,335.7 211.4,339.4 210.5,340.8 210.4,341.1 209.4,342.9 207.4,346.3 207.0,346.8 206.9,346.9 206.0,350.0 204.7,353.7 203.0,357.4 202.6,358.3 201.9,359.6 200.9,360.8 198.1,363.8 196.5,365.2 195.1,366.5 194.7,366.8 192.1,369.1 189.3,371.3 188.9,371.6 188.7,371.7 186.7,375.9 185.0,378.9 184.2,380.2 184.0,380.5 181.2,384.5 179.0,387.2 177.7,388.1 177.6,388.2 173.4,390.9 170.7,392.4 169.4,393.1 168.8,393.1 163.9,393.1 162.5,393.1 162.1,393.1 159.0,393.2 155.9,393.1 155.8,393.1 154.2,391.6 151.1,388.5 150.2,388.0 149.9,387.8 145.8,385.1 143.9,383.7 142.0,384.3 141.5,384.5 136.5,385.6 134.2,386.0 131.5,386.8 131.1,386.9 125.1,388.3 124.7,388.3 123.4,388.2 119.5,387.9 115.0,387.1 114.5,386.2 112.3,381.9 111.9,380.9 111.5,379.9 108.8,376.8 105.8,372.7 104.5,370.7 104.3,370.3 103.4,368.3 101.8,363.5 100.7,359.6 100.4,359.1 100.3,358.9 98.1,354.8 96.2,350.6 95.4,348.5 94.6,346.4 94.7,346.2 95.8,341.1 97.4,336.3 98.1,334.4 98.6,332.8 98.9,331.8 100.4,327.6 101.5,325.1 101.6,325.0" fill="#006eff"/><polygon points="101.8,323.7 101.3,319.8 101.1,315.9 101.0,313.8 101.1,312.5 101.4,312.0 103.4,308.4 105.1,305.8 105.5,305.1 106.6,303.5 106.9,301.6 107.8,297.8 108.0,297.2 108.9,294.4 109.0,294.0 110.2,290.0 111.8,286.1 111.9,285.7 112.5,284.4 113.5,282.0 115.5,278.0 117.0,275.3 117.7,273.9 117.8,273.9 120.2,269.8 122.7,266.4 122.8,265.2 123.2,263.2 124.4,257.6 124.5,257.0 125.3,255.9 126.5,254.1 128.8,254.9 129.9,255.3 130.9,255.8 134.7,256.3 138.9,257.1 139.0,257.2 140.1,257.3 145.1,258.4 147.1,258.9 147.8,258.9 149.8,258.8 154.3,258.7 156.7,258.8 156.7,258.8 158.9,258.4 163.5,257.8 167.5,257.6 168.3,257.4 168.3,257.4 173.3,256.5 178.3,256.1 178.7,255.8 180.6,254.0 182.5,252.4 186.1,250.8 188.7,249.7 189.0,250.3 190.7,253.9 192.3,258.3 193.3,259.2 193.6,259.6 197.1,263.7 199.1,266.2 200.1,268.1 200.8,269.5 202.3,273.0 203.6,276.4 204.3,277.7 204.8,278.8 206.5,281.8 208.2,285.4 208.6,285.9 209.6,287.4 211.1,289.6 213.3,293.2 213.5,293.5 213.9,294.3 215.1,297.6 215.7,299.2 215.8,299.6 214.8,302.5 213.0,307.0 212.6,307.6 212.2,308.4 209.5,312.4 209.5,312.5 209.6,313.0 210.1,316.2 210.4,319.3 210.4,319.9 210.5,321.9 210.6,323.7 210.5,327.5 210.4,328.8 210.5,329.0 211.5,331.4 212.8,335.5 212.8,335.6 212.8,335.6 210.9,339.3 210.1,340.7 209.9,341.0 209.0,342.8 206.9,346.1 206.6,346.6 206.5,346.7 205.6,349.8 204.3,353.5 202.6,357.1 202.2,358.0 201.5,359.3 200.4,360.5 197.7,363.4 196.1,364.8 194.7,366.0 194.3,366.3 191.7,368.6 188.9,370.7 188.5,371.0 188.3,371.1 186.4,375.3 184.7,378.2 183.8,379.5 183.7,379.8 180.8,383.7 178.7,386.3 177.4,387.3 177.3,387.3 173.2,390.1 170.6,391.6 169.2,392.3 168.7,392.3 163.8,392.5 162.4,392.5 162.0,392.4 159.0,392.4 155.9,392.2 155.8,392.2 154.3,390.7 151.2,387.4 150.3,386.9 150.0,386.7 145.9,384.2 144.0,382.9 142.2,383.4 141.7,383.5 136.8,384.7 134.5,385.1 131.8,386.0 131.4,386.1 125.5,387.4 125.1,387.4 123.8,387.4 120.1,386.9 115.7,386.0 115.2,385.1 113.0,381.0 112.5,380.1 112.1,379.2 109.4,376.1 106.4,372.2 105.1,370.2 104.9,369.8 104.0,367.8 102.4,363.1 101.3,359.2 101.0,358.7 100.9,358.5 98.8,354.5 96.9,350.3 96.1,348.2 95.4,346.1 95.5,346.0 96.6,340.9 98.1,336.1 98.8,334.3 99.3,332.7 99.6,331.7 101.0,327.6 102.0,325.1 102.0,325.0" fill="#00c3ff"/><polygon points="102.4,323.7 102.0,319.9 101.9,316.0 101.9,314.0 102.1,312.7 102.3,312.2 104.3,308.7 106.0,306.2 106.4,305.4 107.3,303.8 107.6,301.9 108.4,298.0 108.5,297.5 109.5,294.8 109.6,294.3 110.9,290.5 112.5,286.7 112.7,286.4 113.2,285.1 114.2,282.7 116.1,278.7 117.6,276.1 118.3,274.7 118.4,274.6 120.8,270.6 123.2,267.3 123.4,266.2 123.8,264.3 125.1,259.0 125.2,258.5 125.9,257.3 127.2,255.6 129.3,256.0 130.3,256.3 131.3,256.7 135.0,257.2 139.1,258.0 139.3,258.1 140.3,258.2 145.2,259.3 147.3,259.8 147.9,259.8 149.9,259.6 154.4,259.5 156.7,259.5 156.7,259.5 158.9,259.1 163.4,258.5 167.3,258.3 168.2,258.2 168.2,258.2 173.2,257.3 178.1,256.8 178.4,256.6 180.2,255.1 182.1,253.6 185.6,252.0 188.1,251.0 188.5,251.5 190.2,254.8 192.0,258.9 192.9,259.8 193.3,260.2 196.7,264.3 198.6,266.9 199.6,268.7 200.3,270.1 201.8,273.5 203.0,277.0 203.6,278.3 204.1,279.5 205.8,282.4 207.6,285.9 208.0,286.4 209.1,287.8 210.5,290.0 212.7,293.5 212.8,293.8 213.2,294.7 214.3,298.0 214.8,299.6 214.9,300.0 213.9,302.8 212.2,307.2 211.8,307.9 211.4,308.6 208.9,312.5 208.9,312.6 208.9,313.1 209.5,316.3 209.8,319.3 209.9,320.0 210.0,321.9 210.1,323.7 210.1,327.4 210.0,328.7 210.1,328.9 211.0,331.3 212.3,335.4 212.2,335.5 212.2,335.5 210.4,339.1 209.5,340.5 209.4,340.8 208.4,342.6 206.4,345.9 206.0,346.3 206.0,346.5 205.1,349.5 203.7,353.2 202.1,356.8 201.7,357.6 200.9,358.9 199.9,360.0 197.2,362.9 195.6,364.3 194.2,365.5 193.8,365.8 191.2,368.0 188.5,370.0 188.1,370.4 187.9,370.5 185.9,374.5 184.3,377.4 183.4,378.7 183.3,379.0 180.5,382.8 178.3,385.3 177.1,386.2 176.9,386.3 172.9,389.1 170.4,390.6 169.1,391.3 168.5,391.3 163.7,391.7 162.4,391.7 162.0,391.7 159.0,391.5 155.9,391.2 155.8,391.1 154.3,389.6 151.3,386.2 150.4,385.5 150.1,385.4 146.1,383.1 144.3,381.9 142.5,382.2 142.0,382.4 137.1,383.7 134.9,384.1 132.2,384.9 131.8,385.1 126.1,386.3 125.7,386.4 124.3,386.3 120.8,385.7 116.6,384.7 116.0,383.8 113.7,380.1 113.2,379.2 112.8,378.3 110.1,375.3 107.1,371.5 105.8,369.6 105.6,369.2 104.7,367.2 103.1,362.6 102.1,358.7 101.8,358.2 101.7,358.0 99.5,354.0 97.7,349.9 96.9,347.9 96.4,345.8 96.4,345.6 97.5,340.7 99.0,335.9 99.7,334.1 100.1,332.6 100.4,331.6 101.6,327.5 102.6,325.1 102.6,325.0" fill="#00ffff"/><polygon points="103.0,323.7 102.7,319.9 102.7,316.1 102.8,314.2 103.0,312.9 103.3,312.4 105.3,309.0 107.0,306.5 107.3,305.8 108.0,304.1 108.2,302.2 108.9,298.3 109.0,297.8 110.0,295.2 110.2,294.7 111.6,291.0 113.3,287.4 113.5,287.0 114.0,285.7 114.9,283.4 116.7,279.4 118.2,276.8 118.9,275.4 118.9,275.3 121.3,271.4 123.7,268.2 124.0,267.2 124.4,265.5 125.7,260.4 125.9,259.9 126.6,258.7 127.8,257.0 129.7,257.2 130.7,257.3 131.6,257.7 135.3,258.1 139.4,258.9 139.5,258.9 140.5,259.1 145.4,260.1 147.4,260.7 148.0,260.7 150.0,260.5 154.4,260.2 156.7,260.2 156.7,260.2 158.8,259.8 163.4,259.2 167.2,259.0 168.0,258.9 168.1,258.9 173.0,258.0 177.9,257.6 178.2,257.3 179.9,256.1 181.7,254.7 185.0,253.3 187.5,252.4 187.9,252.7 189.7,255.8 191.7,259.5 192.6,260.4 192.9,260.8 196.3,264.8 198.2,267.5 199.2,269.2 199.9,270.6 201.2,274.1 202.4,277.6 202.9,279.0 203.4,280.1 205.2,283.0 207.0,286.3 207.4,286.8 208.5,288.2 209.9,290.4 212.0,293.9 212.2,294.2 212.5,295.0 213.5,298.4 213.9,299.9 214.0,300.3 213.1,303.1 211.4,307.5 211.0,308.1 210.7,308.8 208.3,312.7 208.3,312.7 208.2,313.2 208.8,316.4 209.2,319.3 209.3,320.0 209.5,321.9 209.6,323.7 209.7,327.4 209.6,328.7 209.7,328.9 210.5,331.3 211.7,335.3 211.7,335.4 211.7,335.4 209.8,339.0 209.0,340.3 208.8,340.6 207.9,342.4 205.8,345.6 205.5,346.1 205.4,346.2 204.5,349.2 203.2,352.8 201.6,356.4 201.2,357.3 200.4,358.4 199.4,359.6 196.7,362.4 195.2,363.8 193.7,364.9 193.3,365.3 190.7,367.4 188.0,369.3 187.6,369.7 187.5,369.9 185.5,373.8 183.9,376.7 183.1,377.9 182.9,378.2 180.1,381.8 177.9,384.2 176.7,385.2 176.6,385.3 172.7,388.1 170.2,389.7 168.9,390.3 168.4,390.4 163.7,390.9 162.3,390.9 161.9,390.9 158.9,390.6 155.9,390.1 155.8,390.0 154.3,388.5 151.4,385.0 150.6,384.2 150.3,384.1 146.3,382.0 144.5,380.9 142.8,381.1 142.3,381.2 137.4,382.6 135.2,383.1 132.6,383.9 132.2,384.0 126.6,385.2 126.2,385.3 124.9,385.3 121.5,384.5 117.5,383.3 116.9,382.6 114.5,379.1 114.0,378.3 113.5,377.4 110.8,374.6 107.8,370.8 106.5,369.0 106.3,368.6 105.4,366.6 103.8,362.0 102.8,358.2 102.6,357.7 102.5,357.5 100.3,353.6 98.5,349.6 97.7,347.6 97.3,345.4 97.3,345.3 98.4,340.4 99.8,335.8 100.5,334.0 101.0,332.4 101.2,331.5 102.3,327.5 103.2,325.1 103.2,325.0" fill="#00ffa0"/><polygon points="103.6,323.7 103.4,320.0 103.5,316.2 103.7,314.3 104.0,313.1 104.3,312.6 106.2,309.3 107.9,306.8 108.2,306.1 108.7,304.4 108.9,302.5 109.5,298.6 109.6,298.1 110.6,295.5 110.8,295.1 112.3,291.5 114.1,288.0 114.2,287.7 114.7,286.4 115.6,284.1 117.4,280.1 118.7,277.5 119.5,276.2 119.5,276.1 121.9,272.2 124.2,269.0 124.5,268.2 125.1,266.6 126.4,261.8 126.6,261.3 127.2,260.1 128.4,258.5 130.2,258.4 131.1,258.4 132.0,258.6 135.6,259.1 139.6,259.8 139.7,259.8 140.7,260.0 145.5,261.0 147.5,261.5 148.1,261.6 150.0,261.3 154.4,260.9 156.7,260.8 156.7,260.8 158.8,260.5 163.3,260.0 167.1,259.8 167.9,259.7 167.9,259.7 172.8,258.8 177.6,258.3 177.9,258.1 179.5,257.1 181.3,255.9 184.5,254.6 187.0,253.7 187.4,254.0 189.3,256.7 191.3,260.1 192.3,261.0 192.6,261.3 195.9,265.4 197.7,268.1 198.7,269.8 199.4,271.2 200.7,274.7 201.8,278.2 202.3,279.6 202.7,280.8 204.5,283.5 206.4,286.7 206.8,287.2 207.9,288.6 209.3,290.8 211.4,294.2 211.5,294.5 211.8,295.4 212.7,298.7 213.1,300.3 213.1,300.7 212.2,303.5 210.6,307.7 210.3,308.3 209.9,309.0 207.7,312.8 207.7,312.8 207.6,313.4 208.2,316.4 208.7,319.4 208.8,320.1 209.0,321.9 209.1,323.7 209.2,327.4 209.2,328.6 209.2,328.9 210.1,331.2 211.1,335.2 211.1,335.2 211.1,335.3 209.2,338.8 208.4,340.2 208.3,340.4 207.3,342.2 205.3,345.4 205.0,345.8 204.9,346.0 204.0,348.9 202.7,352.5 201.1,356.0 200.7,356.9 199.9,358.0 198.9,359.2 196.2,361.9 194.7,363.2 193.3,364.4 192.9,364.7 190.2,366.8 187.5,368.6 187.2,369.0 187.0,369.2 185.1,373.1 183.5,375.9 182.7,377.1 182.5,377.4 179.7,380.9 177.6,383.2 176.4,384.2 176.3,384.3 172.4,387.1 170.0,388.7 168.7,389.3 168.2,389.4 163.6,390.1 162.2,390.2 161.9,390.1 158.9,389.6 155.9,389.0 155.9,389.0 154.4,387.3 151.5,383.7 150.7,382.9 150.4,382.8 146.5,380.9 144.7,379.9 143.0,379.9 142.5,380.1 137.8,381.6 135.6,382.1 133.0,382.9 132.6,383.0 127.1,384.1 126.7,384.2 125.4,384.2 122.2,383.3 118.4,382.0 117.8,381.3 115.2,378.1 114.7,377.3 114.2,376.6 111.5,373.8 108.5,370.2 107.2,368.4 106.9,368.0 106.2,366.0 104.6,361.5 103.5,357.7 103.3,357.3 103.2,357.1 101.1,353.2 99.3,349.2 98.5,347.3 98.3,345.1 98.3,344.9 99.3,340.1 100.7,335.6 101.3,333.8 101.8,332.3 102.0,331.4 103.0,327.4 103.7,325.1 103.7,325.0" fill="#00ff32"/><polygon points="104.3,323.7 104.3,320.0 104.5,316.4 104.7,314.5 105.1,313.3 105.4,312.8 107.4,309.6 109.1,307.2 109.2,306.4 109.5,304.7 109.6,302.8 110.1,299.0 110.2,298.4 111.3,295.9 111.5,295.5 113.1,292.1 115.0,288.8 115.1,288.5 115.6,287.2 116.4,284.9 118.1,280.9 119.4,278.3 120.1,277.0 120.2,276.9 122.5,273.2 124.9,270.1 125.2,269.3 125.8,267.9 127.2,263.4 127.4,262.9 128.0,261.7 129.2,260.2 130.8,259.8 131.5,259.6 132.4,259.8 136.0,260.2 139.9,260.8 140.0,260.9 141.0,261.0 145.7,262.0 147.7,262.5 148.3,262.6 150.1,262.3 154.4,261.8 156.7,261.6 156.7,261.6 158.8,261.3 163.2,260.8 167.0,260.6 167.7,260.6 167.8,260.6 172.6,259.7 177.3,259.1 177.6,259.0 179.1,258.3 180.7,257.3 183.9,256.1 186.3,255.3 186.8,255.4 188.7,257.8 191.0,260.8 191.9,261.6 192.2,262.0 195.4,266.1 197.2,268.8 198.2,270.5 198.9,271.8 200.1,275.4 201.1,278.9 201.5,280.4 201.8,281.6 203.7,284.2 205.8,287.2 206.1,287.7 207.2,289.1 208.6,291.2 210.7,294.6 210.8,294.9 211.0,295.8 211.8,299.1 212.0,300.7 212.0,301.1 211.2,303.8 209.6,308.0 209.3,308.6 209.0,309.2 207.0,312.9 206.9,313.0 206.8,313.5 207.5,316.5 208.0,319.4 208.1,320.1 208.4,322.0 208.6,323.7 208.7,327.3 208.7,328.6 208.7,328.8 209.5,331.1 210.5,335.0 210.5,335.1 210.5,335.1 208.6,338.6 207.8,340.0 207.6,340.2 206.7,341.9 204.7,345.1 204.3,345.6 204.3,345.7 203.4,348.6 202.1,352.1 200.5,355.6 200.1,356.4 199.2,357.5 198.2,358.6 195.6,361.3 194.1,362.7 192.7,363.8 192.3,364.1 189.7,366.0 187.0,367.8 186.7,368.3 186.5,368.4 184.6,372.2 183.0,375.0 182.2,376.2 182.0,376.5 179.3,379.8 177.2,382.0 176.0,383.0 175.9,383.0 172.1,386.0 169.7,387.6 168.5,388.1 168.0,388.2 163.5,389.1 162.2,389.3 161.8,389.2 158.9,388.6 155.9,387.8 155.9,387.7 154.4,386.0 151.6,382.3 150.8,381.3 150.6,381.2 146.7,379.6 144.9,378.7 143.4,378.6 142.9,378.8 138.2,380.4 136.0,381.0 133.5,381.7 133.1,381.8 127.7,382.9 127.4,382.9 126.1,383.0 123.0,381.9 119.4,380.4 118.8,379.8 116.1,376.9 115.5,376.3 115.0,375.5 112.3,372.9 109.3,369.4 108.0,367.6 107.8,367.2 107.0,365.3 105.4,360.9 104.4,357.2 104.2,356.7 104.1,356.5 102.0,352.7 100.2,348.8 99.4,346.9 99.4,344.7 99.4,344.5 100.3,339.8 101.7,335.4 102.3,333.6 102.8,332.2 103.0,331.2 103.7,327.4 104.4,325.0 104.4,325.0" fill="#3cff00"/><polygon points="104.9,323.7 104.9,320.1 105.2,316.5 105.5,314.6 105.9,313.5 106.2,313.0 108.2,309.8 109.9,307.5 110.0,306.7 110.2,305.0 110.2,303.1 110.6,299.2 110.7,298.7 111.8,296.2 112.0,295.8 113.7,292.5 115.7,289.3 115.8,289.1 116.3,287.8 117.0,285.5 118.7,281.6 120.0,279.0 120.7,277.7 120.7,277.6 123.0,274.0 125.3,270.9 125.7,270.2 126.4,269.0 127.8,264.7 128.0,264.2 128.6,263.0 129.8,261.6 131.2,260.8 131.9,260.5 132.8,260.7 136.2,261.0 140.1,261.6 140.2,261.7 141.2,261.8 145.9,262.8 147.8,263.3 148.4,263.4 150.2,263.1 154.5,262.4 156.7,262.2 156.7,262.2 158.8,261.9 163.1,261.4 166.9,261.3 167.6,261.3 167.6,261.3 172.4,260.4 177.1,259.8 177.4,259.7 178.8,259.2 180.4,258.4 183.4,257.2 185.7,256.5 186.3,256.5 188.3,258.7 190.7,261.3 191.6,262.2 191.9,262.6 195.1,266.7 196.8,269.3 197.8,271.0 198.5,272.3 199.6,275.9 200.5,279.5 200.9,280.9 201.2,282.2 203.1,284.7 205.2,287.6 205.6,288.1 206.6,289.5 208.1,291.6 210.1,294.9 210.2,295.2 210.4,296.1 211.0,299.5 211.2,301.1 211.2,301.5 210.4,304.1 208.9,308.2 208.6,308.8 208.3,309.4 206.4,313.1 206.4,313.1 206.2,313.7 206.9,316.6 207.5,319.5 207.6,320.1 207.9,322.0 208.1,323.7 208.3,327.3 208.3,328.6 208.4,328.8 209.1,331.1 210.0,334.9 210.0,335.0 210.0,335.0 208.1,338.5 207.3,339.8 207.1,340.1 206.2,341.7 204.2,344.9 203.8,345.3 203.8,345.5 202.9,348.3 201.6,351.8 200.0,355.2 199.6,356.1 198.8,357.1 197.8,358.2 195.1,360.9 193.7,362.2 192.2,363.3 191.9,363.6 189.2,365.5 186.5,367.2 186.3,367.7 186.1,367.9 184.2,371.6 182.6,374.3 181.8,375.5 181.7,375.7 178.9,378.9 176.8,381.1 175.7,382.0 175.6,382.1 171.9,385.0 169.5,386.7 168.3,387.2 167.8,387.3 163.4,388.4 162.1,388.6 161.7,388.5 158.8,387.7 156.0,386.8 155.9,386.8 154.5,385.0 151.7,381.2 151.0,380.1 150.7,380.0 146.9,378.6 145.1,377.8 143.6,377.5 143.1,377.7 138.5,379.4 136.3,380.1 133.9,380.8 133.5,380.9 128.2,381.9 127.8,381.9 126.6,382.0 123.6,380.8 120.2,379.2 119.5,378.6 116.8,376.0 116.2,375.4 115.6,374.7 113.0,372.1 109.9,368.8 108.6,367.1 108.4,366.7 107.6,364.8 106.1,360.4 105.1,356.7 105.0,356.3 104.8,356.0 102.8,352.3 101.0,348.5 100.2,346.6 100.2,344.3 100.2,344.2 101.2,339.6 102.5,335.2 103.1,333.5 103.6,332.0 103.7,331.1 104.4,327.4 104.9,325.0 104.9,324.9" fill="#c8ff00"/><polygon points="105.3,323.7 105.4,320.1 105.8,316.6 106.1,314.7 106.6,313.6 106.9,313.1 108.9,310.0 110.6,307.7 110.6,306.9 110.7,305.2 110.7,303.3 111.0,299.4 111.0,298.9 112.2,296.5 112.4,296.1 114.2,292.9 116.2,289.8 116.4,289.5 116.7,288.2 117.5,285.9 119.1,282.0 120.4,279.5 121.0,278.2 121.1,278.1 123.4,274.5 125.7,271.5 126.1,270.9 126.8,269.8 128.3,265.6 128.4,265.2 129.0,264.0 130.2,262.5 131.5,261.6 132.2,261.2 133.0,261.3 136.4,261.6 140.2,262.2 140.4,262.3 141.3,262.4 146.0,263.4 147.9,263.9 148.5,264.0 150.3,263.6 154.5,262.9 156.7,262.7 156.7,262.7 158.7,262.4 163.1,261.9 166.8,261.8 167.5,261.8 167.5,261.8 172.3,260.9 177.0,260.3 177.2,260.2 178.6,259.9 180.1,259.2 183.1,258.1 185.4,257.4 185.9,257.4 188.0,259.3 190.4,261.8 191.4,262.6 191.7,263.0 194.8,267.1 196.5,269.7 197.5,271.4 198.2,272.7 199.3,276.3 200.1,279.9 200.4,281.4 200.7,282.7 202.7,285.0 204.8,287.9 205.2,288.4 206.2,289.8 207.6,291.8 209.7,295.1 209.7,295.4 209.9,296.3 210.5,299.7 210.6,301.3 210.6,301.7 209.8,304.3 208.4,308.4 208.1,308.9 207.8,309.6 206.0,313.1 206.0,313.2 205.7,313.8 206.5,316.7 207.2,319.5 207.3,320.2 207.6,322.0 207.8,323.7 208.0,327.3 208.0,328.5 208.1,328.7 208.7,331.0 209.6,334.8 209.6,334.9 209.6,335.0 207.7,338.4 206.9,339.7 206.8,339.9 205.8,341.6 203.8,344.7 203.5,345.2 203.4,345.3 202.6,348.1 201.3,351.6 199.7,355.0 199.3,355.8 198.4,356.9 197.4,357.9 194.8,360.6 193.3,361.9 191.9,362.9 191.5,363.2 188.9,365.1 186.2,366.7 186.0,367.2 185.8,367.4 184.0,371.1 182.4,373.8 181.6,374.9 181.4,375.2 178.7,378.3 176.6,380.4 175.5,381.3 175.4,381.4 171.7,384.4 169.4,386.0 168.2,386.5 167.7,386.7 163.3,387.8 162.1,388.1 161.7,388.0 158.8,387.1 156.0,386.1 155.9,386.1 154.5,384.3 151.8,380.4 151.1,379.2 150.8,379.2 147.1,377.9 145.3,377.1 143.8,376.7 143.3,377.0 138.7,378.7 136.6,379.4 134.2,380.1 133.8,380.2 128.6,381.2 128.2,381.2 126.9,381.3 124.1,380.0 120.8,378.3 120.1,377.8 117.3,375.4 116.7,374.8 116.1,374.2 113.4,371.6 110.4,368.3 109.1,366.7 108.9,366.2 108.1,364.4 106.6,360.0 105.6,356.4 105.5,355.9 105.3,355.7 103.3,352.0 101.5,348.2 100.7,346.4 100.9,344.1 100.9,344.0 101.8,339.4 103.0,335.1 103.6,333.4 104.2,331.9 104.3,331.1 104.8,327.3 105.3,325.0 105.3,324.9" fill="#ffe600"/><polygon points="105.6,323.7 105.8,320.1 106.2,316.6 106.6,314.8 107.1,313.8 107.4,313.2 109.4,310.2 111.1,307.9 111.1,307.1 111.1,305.3 111.1,303.4 111.3,299.6 111.3,299.1 112.5,296.7 112.7,296.3 114.6,293.2 116.6,290.1 116.8,289.9 117.2,288.6 117.9,286.3 119.5,282.5 120.7,279.9 121.4,278.6 121.4,278.5 123.7,275.0 126.0,272.0 126.4,271.4 127.2,270.4 128.7,266.4 128.8,266.0 129.4,264.8 130.6,263.4 131.8,262.3 132.4,261.8 133.2,261.9 136.6,262.2 140.4,262.8 140.5,262.8 141.4,262.9 146.1,263.9 147.9,264.4 148.5,264.6 150.3,264.1 154.5,263.4 156.7,263.1 156.7,263.1 158.7,262.8 163.0,262.3 166.7,262.2 167.4,262.2 167.5,262.2 172.2,261.3 176.8,260.7 177.1,260.7 178.4,260.5 179.8,259.9 182.8,258.8 185.0,258.2 185.6,258.1 187.7,259.9 190.2,262.1 191.2,262.9 191.5,263.3 194.6,267.4 196.2,270.1 197.2,271.7 197.9,273.0 199.0,276.6 199.8,280.2 200.1,281.7 200.3,283.1 202.3,285.4 204.5,288.1 204.9,288.6 205.9,290.0 207.3,292.0 209.3,295.3 209.4,295.6 209.5,296.5 210.0,299.9 210.1,301.5 210.1,301.9 209.3,304.5 207.9,308.5 207.7,309.1 207.4,309.7 205.6,313.2 205.6,313.3 205.3,313.8 206.2,316.7 206.8,319.5 207.0,320.2 207.3,322.0 207.5,323.7 207.8,327.3 207.8,328.5 207.8,328.7 208.5,331.0 209.3,334.8 209.3,334.9 209.3,334.9 207.4,338.3 206.6,339.6 206.4,339.8 205.5,341.5 203.5,344.6 203.2,345.0 203.1,345.2 202.3,348.0 200.9,351.4 199.4,354.8 199.0,355.6 198.1,356.6 197.1,357.7 194.5,360.3 193.0,361.6 191.6,362.6 191.3,362.9 188.6,364.7 185.9,366.3 185.7,366.8 185.6,367.0 183.7,370.7 182.1,373.3 181.4,374.5 181.2,374.7 178.4,377.7 176.4,379.8 175.3,380.7 175.2,380.8 171.6,383.8 169.3,385.5 168.1,386.0 167.6,386.1 163.3,387.4 162.0,387.7 161.6,387.6 158.8,386.6 156.0,385.5 155.9,385.4 154.5,383.6 151.9,379.6 151.1,378.5 150.9,378.4 147.2,377.2 145.4,376.5 144.0,376.1 143.5,376.3 138.9,378.1 136.8,378.8 134.4,379.5 134.0,379.6 128.9,380.5 128.5,380.6 127.2,380.7 124.5,379.3 121.3,377.5 120.6,377.0 117.7,374.8 117.1,374.2 116.5,373.7 113.9,371.2 110.8,367.9 109.5,366.3 109.3,365.9 108.5,364.0 107.0,359.7 106.0,356.1 105.9,355.6 105.8,355.4 103.7,351.8 102.0,348.0 101.2,346.2 101.4,343.9 101.4,343.8 102.3,339.3 103.5,335.0 104.1,333.3 104.7,331.9 104.7,331.0 105.2,327.3 105.6,325.0 105.6,324.9" fill="#ff8200"/><polygon points="105.9,323.7 106.2,320.2 106.7,316.7 107.0,314.9 107.6,313.8 107.9,313.4 109.9,310.3 111.6,308.1 111.5,307.3 111.4,305.5 111.4,303.6 111.6,299.7 111.6,299.2 112.8,296.9 113.0,296.5 114.9,293.4 117.0,290.5 117.2,290.2 117.6,288.9 118.3,286.7 119.8,282.8 121.0,280.2 121.7,279.0 121.7,278.9 124.0,275.4 126.3,272.5 126.7,271.9 127.5,271.0 129.0,267.1 129.2,266.7 129.7,265.5 130.9,264.1 132.0,262.9 132.6,262.3 133.4,262.3 136.8,262.6 140.5,263.2 140.6,263.2 141.6,263.4 146.1,264.3 148.0,264.8 148.6,265.0 150.4,264.5 154.5,263.7 156.7,263.4 156.7,263.4 158.7,263.1 163.0,262.7 166.6,262.6 167.4,262.6 167.4,262.6 172.1,261.7 176.7,261.1 176.9,261.1 178.2,261.0 179.6,260.5 182.5,259.5 184.7,258.9 185.3,258.7 187.5,260.3 190.1,262.4 191.0,263.2 191.3,263.6 194.4,267.7 196.0,270.4 197.0,272.0 197.7,273.3 198.7,276.9 199.5,280.6 199.7,282.1 199.9,283.4 202.0,285.6 204.2,288.4 204.6,288.8 205.6,290.2 207.0,292.2 209.0,295.5 209.1,295.8 209.2,296.7 209.6,300.1 209.7,301.7 209.6,302.1 208.9,304.7 207.5,308.6 207.3,309.2 207.0,309.8 205.3,313.3 205.3,313.4 205.0,313.9 205.9,316.8 206.6,319.6 206.7,320.2 207.0,322.0 207.2,323.7 207.5,327.3 207.6,328.5 207.6,328.7 208.2,331.0 209.0,334.7 209.0,334.8 209.0,334.8 207.1,338.2 206.3,339.5 206.2,339.8 205.2,341.4 203.2,344.5 202.9,344.9 202.9,345.0 202.0,347.8 200.7,351.2 199.1,354.6 198.7,355.4 197.8,356.4 196.8,357.5 194.2,360.0 192.8,361.3 191.4,362.4 191.0,362.6 188.4,364.4 185.7,366.0 185.5,366.5 185.4,366.7 183.5,370.3 181.9,372.9 181.2,374.1 181.0,374.3 178.2,377.3 176.2,379.2 175.1,380.2 175.0,380.3 171.5,383.3 169.2,385.0 168.0,385.5 167.5,385.6 163.2,387.0 162.0,387.3 161.6,387.2 158.8,386.1 156.0,384.9 155.9,384.9 154.5,383.0 151.9,379.0 151.2,377.8 150.9,377.7 147.3,376.7 145.5,376.0 144.1,375.5 143.6,375.7 139.1,377.6 137.0,378.3 134.6,379.0 134.2,379.1 129.1,380.0 128.8,380.1 127.5,380.2 124.8,378.7 121.8,376.9 121.1,376.4 118.1,374.3 117.5,373.8 116.8,373.2 114.2,370.8 111.2,367.6 109.8,366.0 109.6,365.6 108.9,363.7 107.4,359.5 106.4,355.9 106.3,355.4 106.2,355.2 104.1,351.6 102.4,347.8 101.6,346.0 101.9,343.7 101.9,343.6 102.8,339.1 104.0,334.9 104.5,333.2 105.1,331.8 105.2,330.9 105.5,327.3 105.9,325.0 105.9,324.9" fill="#ff0000"/></g><circle cx="156.6" cy="323.7" r="46.2" fill="#fff"/><line x1="157.1" y1="277.5" x2="160.6" y2="226.8" stroke="#101018" stroke-width="0.8"/><line x1="158.8" y1="252.2" x2="160.6" y2="226.8" stroke="#36363c" stroke-width="1.7" stroke-linecap="round"/><line x1="173.1" y1="280.5" x2="191.0" y2="233.5" stroke="#101018" stroke-width="0.8"/><line x1="182.0" y1="257.0" x2="191.0" y2="233.5" stroke="#36363c" stroke-width="1.7" stroke-linecap="round"/><line x1="184.8" y1="287.1" x2="217.9" y2="248.6" stroke="#101018" stroke-width="0.8"/><line x1="201.4" y1="267.9" x2="217.9" y2="248.6" stroke="#36363c" stroke-width="1.7" stroke-linecap="round"/><line x1="195.5" y1="298.7" x2="238.6" y2="272.6" stroke="#101018" stroke-width="0.8"/><line x1="217.0" y1="285.7" x2="238.6" y2="272.6" stroke="#36363c" stroke-width="1.7" stroke-linecap="round"/><line x1="201.5" y1="312.6" x2="250.5" y2="301.4" stroke="#101018" stroke-width="0.8"/><line x1="226.0" y1="307.0" x2="250.5" y2="301.4" stroke="#36363c" stroke-width="1.7" stroke-linecap="round"/><line x1="202.7" y1="326.8" x2="252.3" y2="331.8" stroke="#101018" stroke-width="0.8"/><line x1="227.5" y1="329.3" x2="252.3" y2="331.8" stroke="#36363c" stroke-width="1.7" stroke-linecap="round"/><line x1="199.1" y1="341.7" x2="244.7" y2="362.0" stroke="#101018" stroke-width="0.8"/><line x1="221.9" y1="351.9" x2="244.7" y2="362.0" stroke="#36363c" stroke-width="1.7" stroke-linecap="round"/><line x1="190.0" y1="355.6" x2="228.2" y2="388.5" stroke="#101018" stroke-width="0.8"/><line x1="209.1" y1="372.0" x2="228.2" y2="388.5" stroke="#36363c" stroke-width="1.7" stroke-linecap="round"/><line x1="177.2" y1="365.0" x2="204.1" y2="407.4" stroke="#101018" stroke-width="0.8"/><line x1="190.7" y1="386.2" x2="204.1" y2="407.4" stroke="#36363c" stroke-width="1.7" stroke-linecap="round"/><line x1="163.9" y1="369.3" x2="166.8" y2="418.7" stroke="#101018" stroke-width="0.8"/><line x1="165.3" y1="394.0" x2="166.8" y2="418.7" stroke="#36363c" stroke-width="1.7" stroke-linecap="round"/><line x1="147.3" y1="369.0" x2="136.5" y2="417.3" stroke="#101018" stroke-width="0.8"/><line x1="141.9" y1="393.1" x2="136.5" y2="417.3" stroke="#36363c" stroke-width="1.7" stroke-linecap="round"/><line x1="133.7" y1="363.8" x2="107.5" y2="406.2" stroke="#101018" stroke-width="0.8"/><line x1="120.6" y1="385.0" x2="107.5" y2="406.2" stroke="#36363c" stroke-width="1.7" stroke-linecap="round"/><line x1="122.1" y1="354.4" x2="83.9" y2="385.6" stroke="#101018" stroke-width="0.8"/><line x1="103.0" y1="370.0" x2="83.9" y2="385.6" stroke="#36363c" stroke-width="1.7" stroke-linecap="round"/><line x1="113.7" y1="340.9" x2="68.1" y2="359.0" stroke="#101018" stroke-width="0.8"/><line x1="90.9" y1="349.9" x2="68.1" y2="359.0" stroke="#36363c" stroke-width="1.7" stroke-linecap="round"/><line x1="110.4" y1="325.1" x2="61.0" y2="329.4" stroke="#101018" stroke-width="0.8"/><line x1="85.7" y1="327.3" x2="61.0" y2="329.4" stroke="#36363c" stroke-width="1.7" stroke-linecap="round"/><line x1="112.4" y1="310.4" x2="64.4" y2="298.7" stroke="#101018" stroke-width="0.8"/><line x1="88.4" y1="304.5" x2="64.4" y2="298.7" stroke="#36363c" stroke-width="1.7" stroke-linecap="round"/><line x1="119.6" y1="296.1" x2="76.3" y2="270.4" stroke="#101018" stroke-width="0.8"/><line x1="97.9" y1="283.2" x2="76.3" y2="270.4" stroke="#36363c" stroke-width="1.7" stroke-linecap="round"/><line x1="130.5" y1="285.6" x2="104.1" y2="243.0" stroke="#101018" stroke-width="0.8"/><line x1="117.3" y1="264.3" x2="104.1" y2="243.0" stroke="#36363c" stroke-width="1.7" stroke-linecap="round"/><line x1="144.0" y1="279.2" x2="132.4" y2="230.0" stroke="#101018" stroke-width="0.8"/><line x1="138.2" y1="254.6" x2="132.4" y2="230.0" stroke="#36363c" stroke-width="1.7" stroke-linecap="round"/><circle cx="156.6" cy="323.7" r="46.5" fill="none" stroke="#000" stroke-width="2.2" stroke-dasharray="1.4 1.3"/><circle cx="157.2" cy="322.5" r="68.0" fill="none" stroke="#0a0a20" stroke-width="1.1"/><line x1="154.1" y1="321.8" x2="192.1" y2="266.6" stroke="#222" stroke-width="0.6"/><polygon points="192.1,266.6 190.9,272.1 187.4,269.7" fill="#111"/><text x="155.3" y="339.4" class="rl">R=5.6</text></g><text x="134.1" y="440.2" class="cap" text-anchor="middle">(<tspan font-weight="bold">c</tspan>)</text><rect x="281.0" y="225.3" width="49.5" height="199.0" fill="#f0f0f0"/><rect x="285.2" y="261.00" width="23.5" height="6.62" fill="#0000ff" stroke="#000" stroke-opacity="0.8" stroke-width="0.6"/><rect x="285.2" y="267.62" width="23.5" height="6.62" fill="#002aff" stroke="#000" stroke-opacity="0.8" stroke-width="0.6"/><rect x="285.2" y="274.25" width="23.5" height="6.62" fill="#0055ff" stroke="#000" stroke-opacity="0.8" stroke-width="0.6"/><rect x="285.2" y="280.88" width="23.5" height="6.62" fill="#007fff" stroke="#000" stroke-opacity="0.8" stroke-width="0.6"/><rect x="285.2" y="287.50" width="23.5" height="6.62" fill="#00aaff" stroke="#000" stroke-opacity="0.8" stroke-width="0.6"/><rect x="285.2" y="294.12" width="23.5" height="6.62" fill="#00d4ff" stroke="#000" stroke-opacity="0.8" stroke-width="0.6"/><rect x="285.2" y="300.75" width="23.5" height="6.62" fill="#00ffff" stroke="#000" stroke-opacity="0.8" stroke-width="0.6"/><rect x="285.2" y="307.38" width="23.5" height="6.62" fill="#00ffd4" stroke="#000" stroke-opacity="0.8" stroke-width="0.6"/><rect x="285.2" y="314.00" width="23.5" height="6.62" fill="#00ffaa" stroke="#000" stroke-opacity="0.8" stroke-width="0.6"/><rect x="285.2" y="320.62" width="23.5" height="6.62" fill="#00ff7f" stroke="#000" stroke-opacity="0.8" stroke-width="0.6"/><rect x="285.2" y="327.25" width="23.5" height="6.62" fill="#00ff54" stroke="#000" stroke-opacity="0.8" stroke-width="0.6"/><rect x="285.2" y="333.88" width="23.5" height="6.62" fill="#00ff2a" stroke="#000" stroke-opacity="0.8" stroke-width="0.6"/><rect x="285.2" y="340.50" width="23.5" height="6.62" fill="#00ff00" stroke="#000" stroke-opacity="0.8" stroke-width="0.6"/><rect x="285.2" y="347.12" width="23.5" height="6.62" fill="#2aff00" stroke="#000" stroke-opacity="0.8" stroke-width="0.6"/><rect x="285.2" y="353.75" width="23.5" height="6.62" fill="#55ff00" stroke="#000" stroke-opacity="0.8" stroke-width="0.6"/><rect x="285.2" y="360.38" width="23.5" height="6.62" fill="#7fff00" stroke="#000" stroke-opacity="0.8" stroke-width="0.6"/><rect x="285.2" y="367.00" width="23.5" height="6.62" fill="#a9ff00" stroke="#000" stroke-opacity="0.8" stroke-width="0.6"/><rect x="285.2" y="373.62" width="23.5" height="6.62" fill="#d4ff00" stroke="#000" stroke-opacity="0.8" stroke-width="0.6"/><rect x="285.2" y="380.25" width="23.5" height="6.62" fill="#ffff00" stroke="#000" stroke-opacity="0.8" stroke-width="0.6"/><rect x="285.2" y="386.88" width="23.5" height="6.62" fill="#ffd400" stroke="#000" stroke-opacity="0.8" stroke-width="0.6"/><rect x="285.2" y="393.50" width="23.5" height="6.62" fill="#ffa900" stroke="#000" stroke-opacity="0.8" stroke-width="0.6"/><rect x="285.2" y="400.12" width="23.5" height="6.62" fill="#ff7f00" stroke="#000" stroke-opacity="0.8" stroke-width="0.6"/><rect x="285.2" y="406.75" width="23.5" height="6.62" fill="#ff5500" stroke="#000" stroke-opacity="0.8" stroke-width="0.6"/><rect x="285.2" y="413.38" width="23.5" height="6.62" fill="#ff0000" stroke="#000" stroke-opacity="0.8" stroke-width="0.6"/><text x="285.5" y="235.9" class="lt">Yielded</text><text x="285.5" y="245.3" class="lt">Elements</text><text x="285.5" y="254.7" class="lt">[per-cent]</text><text x="327.4" y="264.2" class="ll" text-anchor="end">0</text><text x="327.4" y="277.4" class="ll" text-anchor="end">8</text><text x="327.4" y="290.7" class="ll" text-anchor="end">17</text><text x="327.4" y="303.9" class="ll" text-anchor="end">25</text><text x="327.4" y="317.2" class="ll" text-anchor="end">33</text><text x="327.4" y="330.4" class="ll" text-anchor="end">42</text><text x="327.4" y="343.7" class="ll" text-anchor="end">50</text><text x="327.4" y="356.9" class="ll" text-anchor="end">58</text><text x="327.4" y="370.2" class="ll" text-anchor="end">67</text><text x="327.4" y="383.4" class="ll" text-anchor="end">75</text><text x="327.4" y="396.7" class="ll" text-anchor="end">83</text><text x="327.4" y="409.9" class="ll" text-anchor="end">92</text><text x="327.4" y="423.2" class="ll" text-anchor="end">100</text><rect x="330.5" y="225.3" width="214.5" height="199.0" fill="#0000ff"/><g clip-path="url(#clipd)"><g filter="url(#blur)"><polygon points="375.6,324.0 376.4,321.5 376.0,320.2 375.5,318.2 375.2,316.3 375.0,314.6 373.7,312.1 372.7,309.8 372.9,309.6 374.3,308.1 377.7,305.0 377.7,305.0 377.8,304.9 381.2,302.4 381.5,302.1 382.6,301.4 385.4,300.4 385.7,300.3 387.0,299.8 392.2,300.5 392.2,300.5 392.2,300.5 394.0,298.0 395.9,295.6 398.0,293.3 398.0,293.2 397.9,293.2 396.4,287.1 396.4,287.0 396.5,286.8 395.8,281.4 396.3,281.1 397.0,280.8 399.6,279.2 401.4,278.2 402.9,277.5 403.4,277.2 405.6,276.2 406.3,275.9 409.8,274.6 410.3,274.5 411.6,273.0 412.8,271.7 414.5,270.2 414.9,268.0 415.3,266.0 416.0,263.6 416.8,263.2 418.9,262.1 421.5,260.8 423.1,259.9 424.2,259.4 426.2,259.4 427.5,259.4 430.0,259.4 430.0,259.4 432.1,259.0 436.7,258.3 437.8,258.2 438.1,258.2 441.0,260.7 442.6,262.3 443.9,263.7 444.7,264.4 448.1,267.7 449.0,268.7 449.7,269.4 451.5,270.2 455.2,271.9 455.4,271.9 458.6,270.6 461.1,269.8 462.3,269.5 464.3,271.0 465.2,271.6 468.8,274.1 469.1,274.3 471.8,277.2 471.9,277.3 474.7,280.7 476.0,282.4 477.7,283.8 480.4,286.0 481.2,286.7 484.4,289.3 484.0,290.1 483.0,292.1 479.9,297.2 480.0,297.3 481.6,300.5 481.7,300.9 483.1,304.2 483.3,304.5 485.4,307.7 485.5,308.0 486.4,309.8 487.1,311.8 488.2,315.2 488.2,315.4 488.2,315.8 487.8,319.9 487.5,321.8 487.4,322.4 486.7,324.0 484.8,327.8 484.1,329.1 484.1,329.5 483.8,331.6 483.0,335.3 483.0,335.7 482.8,336.1 481.9,338.9 480.9,341.5 480.8,341.7 480.7,342.5 479.7,346.2 479.0,348.7 478.9,348.7 478.2,349.7 475.8,352.7 475.3,353.3 474.8,353.8 474.6,356.5 473.8,360.9 473.8,361.2 473.3,362.7 472.3,365.0 470.4,369.1 470.1,369.6 469.7,369.8 467.0,371.6 463.3,373.6 462.8,373.9 462.0,374.1 459.2,375.0 457.2,375.5 455.1,375.9 451.8,376.3 451.2,376.9 447.9,379.6 446.5,380.6 444.9,381.5 444.3,382.1 440.6,385.4 440.6,385.4 438.4,386.8 438.3,386.9 436.7,389.2 433.8,392.8 432.2,392.9 431.2,392.9 427.4,392.8 426.9,392.8 423.4,390.3 422.9,389.9 420.3,387.8 419.9,387.5 418.7,386.7 417.2,385.6 417.0,385.7 414.3,386.1 409.4,386.6 407.4,386.7 404.0,388.3 403.8,388.4 402.4,389.0 399.3,386.6 398.1,385.7 395.6,383.2 395.5,383.1 392.1,379.9 390.4,378.0 388.6,376.8 387.5,375.9 385.0,373.8 381.9,370.8 381.6,370.5 380.0,368.7 378.5,367.1 375.6,363.7 375.7,363.3 377.1,359.4 378.4,356.1 379.5,353.8 378.7,352.0 378.5,351.3 377.5,347.3 376.9,344.2 376.6,343.4 375.6,341.0 375.2,339.7 374.0,335.9 373.2,332.0 373.2,332.0 373.7,330.2 374.3,327.9 375.2,325.1 375.3,325.0" fill="#0028ff"/><polygon points="376.0,324.0 376.8,321.6 376.4,320.3 376.0,318.3 375.7,316.4 375.5,314.7 374.3,312.2 373.3,309.9 373.5,309.7 374.9,308.2 378.1,305.2 378.1,305.2 378.2,305.0 381.6,302.5 381.9,302.3 383.0,301.6 385.7,300.5 385.9,300.5 387.3,300.0 392.4,300.7 392.5,300.7 392.5,300.7 394.2,298.1 396.1,295.7 398.2,293.4 398.2,293.4 398.1,293.4 396.6,287.3 396.6,287.1 396.6,287.0 396.1,281.7 396.5,281.4 397.2,281.0 399.8,279.5 401.6,278.5 403.1,277.8 403.6,277.6 405.8,276.6 406.5,276.3 410.0,275.0 410.4,274.8 411.7,273.4 413.0,272.2 414.6,270.7 415.0,268.6 415.5,266.6 416.1,264.3 417.0,263.8 419.0,262.6 421.6,261.2 423.1,260.4 424.2,259.9 426.2,259.8 427.6,259.8 430.0,259.9 430.0,259.9 432.1,259.5 436.6,258.9 437.7,258.8 438.0,258.7 440.9,261.3 442.5,262.9 443.8,264.3 444.5,265.0 447.9,268.3 448.8,269.3 449.5,270.0 451.3,270.7 455.0,272.3 455.2,272.4 458.3,271.2 460.8,270.4 462.0,270.0 464.1,271.4 464.9,271.9 468.5,274.4 468.9,274.7 471.5,277.5 471.6,277.6 474.4,281.0 475.7,282.7 477.4,284.1 479.9,286.3 480.7,287.0 483.5,289.8 483.2,290.7 482.2,292.6 479.4,297.5 479.5,297.6 481.0,300.8 481.2,301.1 482.5,304.4 482.7,304.7 484.7,307.9 484.9,308.2 485.8,309.9 486.6,311.9 487.8,315.3 487.8,315.4 487.8,315.8 487.4,320.0 487.1,321.8 487.0,322.4 486.3,324.0 484.4,327.8 483.7,329.1 483.7,329.5 483.4,331.5 482.6,335.2 482.5,335.6 482.4,336.0 481.5,338.8 480.5,341.4 480.5,341.5 480.3,342.4 479.3,346.1 478.5,348.5 478.5,348.5 477.8,349.5 475.4,352.5 475.0,353.1 474.5,353.6 474.2,356.3 473.4,360.6 473.3,360.8 472.8,362.3 471.9,364.6 470.0,368.7 469.7,369.2 469.4,369.4 466.6,371.2 463.0,373.2 462.5,373.4 461.7,373.7 459.0,374.5 456.9,375.0 454.9,375.4 451.6,376.0 451.0,376.5 447.7,379.1 446.4,380.0 444.8,381.0 444.2,381.6 440.5,384.9 440.5,384.9 438.3,386.5 438.2,386.6 436.6,388.8 433.8,392.1 432.2,392.2 431.2,392.2 427.4,392.1 427.0,392.1 423.5,389.8 422.9,389.4 420.4,387.5 419.9,387.2 418.8,386.3 417.3,385.1 417.1,385.1 414.5,385.5 409.7,386.0 407.6,386.1 404.3,387.5 404.1,387.6 402.7,388.1 399.6,385.9 398.5,385.0 395.9,382.7 395.7,382.6 392.4,379.4 390.8,377.6 389.0,376.3 387.9,375.4 385.4,373.3 382.3,370.4 382.1,370.1 380.4,368.3 379.0,366.6 376.3,363.2 376.4,362.8 377.6,359.1 378.9,355.8 379.9,353.5 379.2,351.7 379.0,351.0 378.0,347.1 377.4,344.0 377.1,343.2 376.2,340.9 375.7,339.5 374.6,335.7 373.8,332.0 373.8,331.9 374.2,330.1 374.8,327.8 375.7,325.1 375.7,325.0" fill="#006eff"/><polygon points="376.6,324.0 377.3,321.6 377.0,320.3 376.6,318.3 376.3,316.5 376.1,314.8 375.0,312.3 374.1,310.1 374.3,309.9 375.5,308.4 378.6,305.4 378.6,305.4 378.7,305.2 382.0,302.7 382.3,302.5 383.4,301.8 386.0,300.7 386.3,300.6 387.7,300.2 392.7,300.8 392.7,300.9 392.7,300.8 394.5,298.3 396.3,295.9 398.4,293.7 398.4,293.7 398.4,293.6 396.8,287.5 396.8,287.4 396.8,287.3 396.4,282.1 396.8,281.8 397.4,281.3 400.0,279.9 401.9,279.0 403.4,278.3 403.8,278.1 406.0,277.1 406.8,276.8 410.2,275.4 410.6,275.3 411.9,274.0 413.2,272.8 414.8,271.3 415.2,269.4 415.7,267.5 416.3,265.2 417.1,264.6 419.1,263.2 421.7,261.7 423.2,260.9 424.3,260.4 426.3,260.3 427.6,260.3 430.0,260.4 430.0,260.4 432.0,260.0 436.6,259.5 437.7,259.4 437.9,259.4 440.7,262.0 442.3,263.7 443.6,265.1 444.3,265.7 447.7,269.0 448.6,270.0 449.2,270.6 451.1,271.3 454.8,272.8 454.9,272.9 457.9,271.9 460.3,271.1 461.5,270.7 463.8,271.8 464.6,272.4 468.2,274.9 468.5,275.1 471.2,277.9 471.2,278.0 474.0,281.3 475.3,283.1 476.9,284.5 479.4,286.7 480.0,287.5 482.5,290.5 482.1,291.3 481.2,293.2 478.9,297.8 478.9,297.9 480.4,301.1 480.5,301.4 481.8,304.7 482.0,305.0 483.9,308.2 484.0,308.4 485.0,310.1 485.9,312.1 487.3,315.4 487.3,315.5 487.3,315.9 486.9,320.0 486.6,321.8 486.5,322.4 485.8,324.0 483.9,327.8 483.2,329.0 483.2,329.4 482.9,331.5 482.1,335.1 482.0,335.5 481.9,335.9 481.0,338.7 480.1,341.2 480.0,341.4 479.8,342.2 478.8,345.8 478.0,348.2 478.0,348.2 477.3,349.3 475.0,352.3 474.6,352.8 474.2,353.3 473.8,355.9 472.9,360.1 472.8,360.3 472.3,361.8 471.4,364.1 469.5,368.1 469.3,368.7 468.9,368.9 466.2,370.6 462.6,372.6 462.1,372.8 461.3,373.1 458.6,373.9 456.6,374.4 454.6,374.9 451.4,375.5 450.8,376.0 447.5,378.4 446.2,379.3 444.6,380.4 444.0,381.0 440.4,384.2 440.4,384.2 438.3,386.1 438.2,386.3 436.5,388.2 433.7,391.3 432.2,391.3 431.1,391.4 427.4,391.3 427.0,391.3 423.5,389.3 423.0,388.9 420.4,387.1 420.0,386.8 418.9,385.8 417.4,384.4 417.3,384.4 414.7,384.8 409.9,385.2 407.9,385.2 404.7,386.5 404.5,386.6 403.2,387.0 400.0,385.0 398.9,384.2 396.2,382.1 396.1,382.0 392.8,378.8 391.2,377.0 389.4,375.7 388.4,374.8 385.9,372.7 382.9,369.8 382.6,369.6 381.0,367.8 379.6,366.1 377.1,362.6 377.2,362.2 378.2,358.7 379.4,355.5 380.4,353.2 379.9,351.4 379.7,350.6 378.6,346.8 378.0,343.7 377.7,343.0 376.9,340.6 376.4,339.3 375.4,335.6 374.6,331.8 374.6,331.8 374.9,330.0 375.5,327.8 376.3,325.1 376.3,325.0" fill="#00c3ff"/><polygon points="377.3,324.0 377.9,321.6 377.7,320.4 377.4,318.4 377.1,316.6 376.8,315.0 375.8,312.5 375.0,310.4 375.2,310.2 376.4,308.7 379.1,305.6 379.1,305.6 379.3,305.4 382.5,302.9 382.8,302.7 383.9,302.0 386.5,301.0 386.7,300.9 388.2,300.5 393.0,301.1 393.1,301.1 393.1,301.1 394.8,298.6 396.6,296.2 398.7,293.9 398.7,293.9 398.6,293.9 397.1,287.8 397.1,287.7 397.1,287.6 396.8,282.6 397.2,282.2 397.7,281.7 400.3,280.3 402.2,279.5 403.7,278.8 404.1,278.6 406.3,277.6 407.0,277.3 410.4,276.0 410.8,275.8 412.1,274.6 413.4,273.5 415.0,272.1 415.5,270.4 416.0,268.5 416.6,266.2 417.3,265.5 419.2,264.0 421.7,262.3 423.2,261.6 424.3,261.1 426.3,261.0 427.6,261.0 430.0,261.0 430.0,261.0 432.0,260.7 436.5,260.3 437.6,260.2 437.8,260.2 440.6,262.9 442.1,264.6 443.4,266.0 444.1,266.6 447.4,269.9 448.3,270.9 448.9,271.4 450.8,272.1 454.4,273.5 454.6,273.5 457.4,272.7 459.9,271.9 461.0,271.6 463.4,272.4 464.3,272.9 467.8,275.4 468.1,275.7 470.7,278.4 470.8,278.5 473.5,281.8 474.8,283.5 476.4,284.9 478.7,287.2 479.3,288.1 481.2,291.3 480.9,292.1 480.1,293.9 478.2,298.2 478.2,298.3 479.6,301.4 479.7,301.8 481.0,305.0 481.2,305.3 482.9,308.5 483.0,308.7 484.1,310.4 485.1,312.2 486.6,315.5 486.7,315.6 486.7,316.0 486.3,320.1 486.0,321.9 485.9,322.4 485.2,324.0 483.4,327.7 482.6,329.0 482.6,329.4 482.2,331.4 481.4,335.0 481.4,335.3 481.2,335.8 480.4,338.5 479.5,341.0 479.5,341.2 479.3,342.0 478.2,345.5 477.3,347.9 477.3,347.9 476.7,348.9 474.5,351.9 474.1,352.5 473.7,353.0 473.2,355.6 472.2,359.6 472.2,359.8 471.6,361.2 470.8,363.5 469.0,367.5 468.7,368.1 468.4,368.4 465.7,370.0 462.1,371.9 461.7,372.1 460.9,372.4 458.2,373.2 456.2,373.7 454.3,374.2 451.2,374.9 450.6,375.4 447.2,377.7 445.9,378.5 444.4,379.6 443.8,380.2 440.3,383.5 440.3,383.5 438.2,385.7 438.1,385.9 436.5,387.6 433.7,390.2 432.1,390.3 431.1,390.4 427.5,390.3 427.0,390.3 423.6,388.6 423.1,388.2 420.5,386.6 420.1,386.3 419.0,385.2 417.6,383.5 417.5,383.5 414.9,383.9 410.2,384.2 408.3,384.3 405.2,385.3 405.0,385.4 403.7,385.7 400.6,384.0 399.4,383.2 396.7,381.4 396.5,381.3 393.3,378.1 391.7,376.3 390.0,374.9 389.0,374.0 386.6,372.0 383.5,369.2 383.3,368.9 381.6,367.2 380.4,365.5 378.0,361.9 378.1,361.6 378.9,358.2 380.1,355.1 381.0,352.9 380.7,350.9 380.5,350.2 379.4,346.4 378.8,343.5 378.5,342.7 377.7,340.4 377.2,339.1 376.2,335.4 375.5,331.7 375.5,331.6 375.8,330.0 376.3,327.7 377.0,325.1 377.1,325.0" fill="#00ffff"/><polygon points="378.0,324.0 378.5,321.6 378.4,320.4 378.2,318.5 377.8,316.7 377.6,315.1 376.7,312.7 376.0,310.6 376.1,310.4 377.2,308.9 379.7,305.8 379.7,305.8 379.9,305.6 383.0,303.2 383.4,303.0 384.4,302.3 386.9,301.2 387.2,301.1 388.7,300.8 393.3,301.3 393.4,301.3 393.4,301.3 395.1,298.8 396.9,296.4 398.9,294.2 398.9,294.2 398.9,294.1 397.3,288.1 397.4,288.0 397.4,287.9 397.2,283.1 397.5,282.7 398.0,282.1 400.7,280.8 402.5,280.0 404.0,279.3 404.5,279.1 406.6,278.2 407.3,277.9 410.6,276.5 411.0,276.4 412.4,275.3 413.6,274.2 415.2,272.8 415.8,271.3 416.2,269.5 416.8,267.3 417.5,266.5 419.4,264.8 421.8,262.9 423.3,262.2 424.4,261.8 426.3,261.6 427.6,261.6 430.0,261.7 430.0,261.7 432.0,261.4 436.4,261.0 437.5,261.0 437.7,261.1 440.4,263.8 441.9,265.5 443.2,266.8 443.9,267.5 447.1,270.8 448.0,271.7 448.6,272.2 450.5,272.8 454.1,274.1 454.3,274.2 457.0,273.6 459.4,272.8 460.5,272.4 463.1,272.9 463.9,273.4 467.3,276.0 467.6,276.2 470.3,278.9 470.4,278.9 473.1,282.2 474.4,283.9 475.9,285.4 478.1,287.7 478.5,288.6 479.9,292.1 479.6,292.9 478.9,294.6 477.5,298.6 477.5,298.6 478.8,301.8 479.0,302.1 480.2,305.3 480.3,305.6 481.9,308.8 482.1,309.0 483.2,310.6 484.3,312.4 486.0,315.5 486.0,315.7 486.0,316.1 485.7,320.1 485.4,321.9 485.3,322.4 484.6,324.0 482.8,327.7 482.1,328.9 481.9,329.3 481.6,331.3 480.8,334.8 480.7,335.2 480.6,335.6 479.8,338.3 479.0,340.8 478.9,341.0 478.7,341.8 477.6,345.3 476.7,347.5 476.7,347.6 476.1,348.6 474.0,351.6 473.6,352.2 473.3,352.7 472.7,355.2 471.6,359.1 471.5,359.3 471.0,360.6 470.1,363.0 468.4,366.9 468.2,367.5 467.9,367.8 465.2,369.4 461.7,371.2 461.2,371.4 460.4,371.7 457.8,372.5 455.8,373.0 454.0,373.6 450.9,374.4 450.3,374.8 447.0,376.9 445.7,377.7 444.2,378.9 443.6,379.5 440.2,382.7 440.1,382.7 438.2,385.3 438.1,385.5 436.4,386.9 433.6,389.2 432.1,389.3 431.1,389.4 427.5,389.4 427.1,389.3 423.7,387.9 423.1,387.6 420.6,386.1 420.1,385.8 419.1,384.5 417.8,382.7 417.6,382.7 415.1,383.0 410.5,383.3 408.6,383.3 405.7,384.1 405.5,384.2 404.3,384.5 401.1,382.9 399.9,382.3 397.1,380.6 396.9,380.5 393.8,377.4 392.2,375.6 390.6,374.2 389.6,373.3 387.2,371.3 384.2,368.5 383.9,368.3 382.3,366.6 381.1,364.8 379.0,361.2 379.0,360.9 379.6,357.7 380.7,354.7 381.6,352.5 381.6,350.5 381.3,349.8 380.2,346.1 379.5,343.2 379.2,342.4 378.5,340.1 378.1,338.8 377.1,335.2 376.4,331.6 376.4,331.5 376.7,329.9 377.1,327.7 377.7,325.1 377.8,325.0" fill="#00ffa0"/><polygon points="378.6,324.0 379.1,321.7 379.0,320.5 378.9,318.6 378.6,316.8 378.3,315.2 377.5,312.9 376.9,310.8 377.0,310.6 378.0,309.1 380.3,306.0 380.3,306.0 380.4,305.9 383.6,303.4 383.9,303.2 385.0,302.5 387.3,301.4 387.6,301.3 389.2,301.1 393.7,301.5 393.7,301.5 393.7,301.5 395.4,299.0 397.2,296.7 399.2,294.5 399.2,294.5 399.2,294.4 397.6,288.4 397.6,288.3 397.6,288.1 397.6,283.6 397.9,283.1 398.3,282.5 401.0,281.3 402.9,280.5 404.3,279.9 404.8,279.7 406.9,278.8 407.6,278.5 410.8,277.1 411.2,276.9 412.6,275.9 413.8,274.9 415.4,273.6 416.0,272.3 416.5,270.5 417.1,268.4 417.7,267.4 419.5,265.6 421.9,263.5 423.4,262.9 424.4,262.5 426.4,262.3 427.6,262.3 430.0,262.3 430.0,262.3 432.0,262.1 436.3,261.8 437.4,261.8 437.6,261.9 440.3,264.7 441.7,266.5 443.0,267.7 443.7,268.4 446.8,271.6 447.7,272.6 448.4,273.0 450.2,273.5 453.8,274.7 454.0,274.8 456.5,274.5 458.9,273.6 460.0,273.3 462.7,273.4 463.5,274.0 466.9,276.5 467.2,276.7 469.9,279.4 469.9,279.4 472.6,282.6 473.9,284.3 475.3,285.8 477.4,288.2 477.7,289.2 478.6,293.0 478.4,293.6 477.7,295.3 476.8,298.9 476.8,299.0 478.0,302.1 478.2,302.5 479.3,305.6 479.5,305.9 480.9,309.1 481.1,309.3 482.3,310.8 483.5,312.6 485.4,315.6 485.4,315.8 485.4,316.2 485.1,320.1 484.8,321.9 484.7,322.4 484.0,324.0 482.2,327.7 481.5,328.9 481.3,329.2 481.0,331.2 480.2,334.7 480.1,335.0 480.0,335.5 479.2,338.2 478.4,340.6 478.4,340.8 478.1,341.6 476.9,345.0 476.0,347.2 476.0,347.3 475.4,348.3 473.5,351.3 473.1,351.9 472.8,352.4 472.2,354.8 471.0,358.5 470.9,358.7 470.3,360.0 469.5,362.4 467.9,366.3 467.6,366.9 467.4,367.2 464.7,368.7 461.2,370.5 460.7,370.8 460.0,371.0 457.4,371.8 455.5,372.3 453.7,372.9 450.7,373.8 450.1,374.2 446.8,376.2 445.4,376.9 444.0,378.1 443.4,378.7 440.0,381.9 440.0,381.9 438.1,384.9 438.0,385.1 436.3,386.3 433.5,388.2 432.0,388.3 431.1,388.3 427.6,388.4 427.1,388.4 423.7,387.2 423.2,386.9 420.6,385.6 420.2,385.3 419.2,383.9 417.9,381.9 417.8,381.8 415.3,382.1 410.9,382.3 409.0,382.3 406.1,382.9 406.0,382.9 404.8,383.2 401.6,381.9 400.4,381.3 397.5,379.9 397.4,379.8 394.3,376.7 392.7,374.9 391.2,373.4 390.2,372.5 387.8,370.6 384.8,367.9 384.6,367.7 382.9,366.0 381.9,364.2 380.0,360.5 380.0,360.2 380.4,357.3 381.4,354.3 382.2,352.2 382.4,350.0 382.1,349.3 381.0,345.7 380.3,342.9 380.0,342.1 379.3,339.9 378.9,338.6 378.0,335.0 377.4,331.4 377.4,331.4 377.5,329.8 377.9,327.6 378.5,325.1 378.5,325.0" fill="#00ff32"/><polygon points="379.4,324.0 379.8,321.7 379.8,320.5 379.8,318.7 379.5,316.9 379.2,315.4 378.5,313.1 378.0,311.1 378.1,310.9 378.9,309.4 381.0,306.2 381.0,306.2 381.1,306.1 384.2,303.7 384.5,303.5 385.6,302.8 387.8,301.7 388.1,301.6 389.8,301.4 394.1,301.7 394.1,301.7 394.1,301.7 395.8,299.3 397.6,297.0 399.5,294.8 399.6,294.8 399.5,294.7 397.9,288.7 397.9,288.6 397.9,288.5 398.0,284.2 398.3,283.7 398.6,282.9 401.3,281.8 403.2,281.1 404.7,280.5 405.1,280.3 407.2,279.5 407.9,279.1 411.1,277.7 411.5,277.6 412.9,276.7 414.1,275.7 415.7,274.5 416.3,273.4 416.8,271.7 417.4,269.6 418.0,268.5 419.7,266.5 422.0,264.2 423.5,263.7 424.5,263.3 426.4,263.1 427.7,263.0 430.0,263.1 430.0,263.1 431.9,262.9 436.2,262.7 437.3,262.7 437.5,262.9 440.1,265.7 441.5,267.5 442.7,268.8 443.4,269.4 446.5,272.7 447.3,273.7 448.0,274.0 449.8,274.4 453.5,275.5 453.6,275.5 455.9,275.5 458.3,274.6 459.5,274.3 462.3,274.1 463.1,274.6 466.4,277.1 466.7,277.4 469.4,279.9 469.4,280.0 472.1,283.2 473.3,284.8 474.7,286.3 476.6,288.8 476.8,289.9 477.1,293.9 476.9,294.6 476.3,296.1 475.9,299.4 476.0,299.5 477.1,302.5 477.2,302.9 478.3,306.0 478.5,306.3 479.7,309.4 479.9,309.6 481.2,311.1 482.6,312.8 484.7,315.7 484.7,315.9 484.7,316.3 484.3,320.2 484.1,321.9 483.9,322.5 483.3,324.0 481.5,327.6 480.8,328.8 480.6,329.2 480.3,331.1 479.4,334.5 479.3,334.9 479.2,335.3 478.5,338.0 477.8,340.4 477.7,340.6 477.5,341.3 476.2,344.7 475.3,346.8 475.2,346.9 474.7,347.9 472.9,351.0 472.6,351.5 472.3,352.1 471.6,354.4 470.2,357.9 470.1,358.1 469.5,359.4 468.8,361.7 467.3,365.6 467.0,366.1 466.8,366.5 464.2,368.0 460.7,369.8 460.2,370.0 459.5,370.2 456.9,371.0 455.0,371.4 453.3,372.1 450.4,373.1 449.8,373.5 446.5,375.3 445.2,375.9 443.8,377.2 443.2,377.8 439.9,381.0 439.9,381.0 438.0,384.4 437.9,384.6 436.3,385.5 433.5,387.0 432.0,387.1 431.1,387.2 427.6,387.2 427.2,387.2 423.8,386.4 423.3,386.1 420.7,385.0 420.3,384.8 419.4,383.2 418.1,380.9 418.0,380.8 415.6,381.0 411.2,381.2 409.4,381.1 406.7,381.5 406.6,381.5 405.5,381.7 402.2,380.6 400.9,380.2 398.0,379.0 397.9,378.9 394.8,375.8 393.3,374.1 391.8,372.6 391.0,371.6 388.6,369.8 385.6,367.2 385.4,366.9 383.7,365.3 382.8,363.5 381.1,359.7 381.1,359.4 381.2,356.7 382.1,353.8 382.9,351.7 383.3,349.5 383.1,348.8 381.9,345.3 381.1,342.6 380.9,341.8 380.2,339.6 379.9,338.3 379.0,334.8 378.5,331.3 378.5,331.2 378.5,329.7 378.8,327.6 379.3,325.0 379.3,325.0" fill="#3cff00"/><polygon points="380.1,324.0 380.4,321.7 380.4,320.5 380.6,318.8 380.1,317.0 379.8,315.5 379.3,313.3 378.9,311.3 378.9,311.1 379.7,309.6 381.5,306.4 381.5,306.4 381.6,306.3 384.7,303.9 385.0,303.7 386.0,303.0 388.2,301.9 388.5,301.8 390.3,301.7 394.4,301.9 394.4,301.9 394.4,301.9 396.1,299.5 397.9,297.2 399.8,295.0 399.8,295.0 399.8,295.0 398.1,289.0 398.2,288.9 398.2,288.7 398.4,284.6 398.6,284.1 398.9,283.2 401.6,282.2 403.5,281.6 405.0,281.0 405.4,280.8 407.5,280.0 408.2,279.6 411.3,278.2 411.7,278.1 413.1,277.3 414.3,276.3 415.9,275.1 416.5,274.3 417.0,272.6 417.6,270.6 418.1,269.4 419.8,267.3 422.1,264.7 423.5,264.3 424.6,264.0 426.4,263.7 427.7,263.6 430.0,263.7 430.0,263.7 431.9,263.5 436.2,263.4 437.2,263.4 437.4,263.6 439.9,266.5 441.3,268.4 442.5,269.6 443.2,270.2 446.2,273.5 447.0,274.5 447.7,274.7 449.6,275.1 453.2,276.1 453.3,276.1 455.5,276.3 457.9,275.4 459.0,275.0 462.0,274.6 462.8,275.1 466.0,277.6 466.3,277.9 469.0,280.4 469.0,280.4 471.7,283.6 472.9,285.2 474.2,286.8 476.0,289.2 476.1,290.4 476.0,294.6 475.8,295.3 475.3,296.8 475.3,299.7 475.3,299.8 476.4,302.9 476.5,303.2 477.6,306.3 477.7,306.6 478.8,309.7 479.0,309.9 480.4,311.3 481.8,312.9 484.1,315.8 484.1,316.0 484.1,316.4 483.8,320.2 483.6,322.0 483.4,322.5 482.7,324.0 480.9,327.6 480.2,328.8 480.1,329.1 479.7,331.0 478.8,334.4 478.7,334.7 478.6,335.2 478.0,337.8 477.3,340.2 477.2,340.4 476.9,341.2 475.7,344.4 474.7,346.5 474.6,346.6 474.2,347.6 472.5,350.7 472.1,351.2 471.9,351.8 471.1,354.0 469.6,357.4 469.6,357.6 468.9,358.8 468.2,361.1 466.7,365.0 466.5,365.6 466.3,365.9 463.7,367.4 460.2,369.1 459.8,369.3 459.1,369.6 456.5,370.3 454.7,370.8 453.0,371.5 450.2,372.6 449.6,373.0 446.2,374.6 444.9,375.1 443.6,376.5 443.0,377.1 439.7,380.3 439.7,380.3 438.0,384.0 437.9,384.2 436.2,385.0 433.4,386.0 432.0,386.2 431.0,386.3 427.6,386.3 427.2,386.3 423.9,385.7 423.3,385.5 420.8,384.5 420.4,384.3 419.5,382.6 418.3,380.2 418.2,380.0 415.8,380.2 411.5,380.3 409.7,380.2 407.2,380.4 407.0,380.4 406.0,380.5 402.6,379.7 401.4,379.3 398.4,378.3 398.3,378.3 395.3,375.2 393.8,373.5 392.4,371.9 391.5,370.9 389.2,369.1 386.2,366.6 386.0,366.3 384.3,364.7 383.5,362.9 382.0,359.0 381.9,358.8 381.8,356.2 382.7,353.4 383.5,351.4 384.1,349.1 383.8,348.5 382.6,345.0 381.8,342.3 381.6,341.5 381.0,339.3 380.6,338.1 379.8,334.6 379.3,331.2 379.3,331.1 379.3,329.6 379.5,327.5 379.9,325.0 380.0,324.9" fill="#c8ff00"/><polygon points="380.5,324.0 380.8,321.7 380.9,320.6 381.1,318.8 380.7,317.1 380.3,315.6 379.9,313.4 379.5,311.5 379.5,311.3 380.2,309.8 381.9,306.6 381.9,306.6 382.0,306.4 385.0,304.1 385.3,303.8 386.4,303.2 388.5,302.1 388.7,302.0 390.6,301.9 394.6,302.1 394.7,302.0 394.7,302.0 396.3,299.6 398.1,297.4 400.0,295.2 400.0,295.2 400.0,295.1 398.3,289.2 398.3,289.0 398.3,288.9 398.7,285.0 398.8,284.4 399.1,283.5 401.8,282.5 403.8,281.9 405.2,281.3 405.6,281.2 407.7,280.4 408.4,280.0 411.4,278.6 411.8,278.4 413.2,277.7 414.5,276.8 416.0,275.6 416.7,275.0 417.2,273.3 417.7,271.3 418.3,270.0 419.9,267.8 422.1,265.1 423.6,264.7 424.6,264.4 426.5,264.1 427.7,264.1 430.0,264.1 430.0,264.1 431.9,264.0 436.1,263.9 437.1,263.9 437.3,264.2 439.8,267.1 441.2,269.0 442.4,270.2 443.1,270.8 446.0,274.1 446.8,275.0 447.6,275.2 449.4,275.6 453.0,276.5 453.1,276.6 455.2,276.9 457.5,276.0 458.7,275.6 461.8,274.9 462.5,275.5 465.8,278.0 466.1,278.2 468.7,280.7 468.7,280.8 471.4,283.9 472.6,285.5 473.8,287.1 475.6,289.6 475.6,290.8 475.1,295.2 474.9,295.8 474.5,297.2 474.8,300.0 474.9,300.0 475.9,303.1 476.0,303.4 477.0,306.5 477.1,306.8 478.1,309.9 478.3,310.1 479.7,311.4 481.3,313.1 483.7,315.9 483.7,316.1 483.7,316.4 483.4,320.3 483.2,322.0 483.0,322.5 482.3,324.0 480.5,327.5 479.8,328.7 479.7,329.1 479.3,331.0 478.4,334.3 478.3,334.7 478.2,335.1 477.6,337.7 476.9,340.1 476.8,340.3 476.6,341.0 475.2,344.2 474.2,346.3 474.2,346.4 473.7,347.4 472.1,350.5 471.8,351.0 471.6,351.6 470.7,353.7 469.2,357.1 469.1,357.3 468.5,358.4 467.8,360.7 466.4,364.6 466.2,365.2 466.0,365.5 463.4,367.0 459.9,368.7 459.5,368.9 458.8,369.1 456.3,369.8 454.4,370.3 452.8,371.1 450.0,372.3 449.4,372.6 446.1,374.1 444.8,374.6 443.5,376.0 442.9,376.6 439.6,379.8 439.6,379.8 438.0,383.7 437.9,383.9 436.2,384.5 433.4,385.4 431.9,385.5 431.0,385.6 427.6,385.7 427.2,385.7 423.9,385.3 423.4,385.1 420.8,384.2 420.4,384.0 419.5,382.2 418.4,379.6 418.3,379.4 415.9,379.6 411.7,379.7 409.9,379.6 407.5,379.6 407.3,379.6 406.3,379.6 403.0,379.0 401.7,378.7 398.7,377.8 398.5,377.8 395.6,374.7 394.1,373.0 392.7,371.4 391.9,370.4 389.6,368.6 386.7,366.1 386.4,365.9 384.8,364.3 384.0,362.4 382.6,358.5 382.6,358.3 382.3,355.9 383.2,353.1 383.9,351.2 384.6,348.8 384.4,348.2 383.1,344.8 382.3,342.1 382.1,341.4 381.5,339.2 381.2,337.9 380.4,334.5 379.9,331.1 379.9,331.0 379.9,329.5 380.1,327.5 380.4,325.0 380.4,324.9" fill="#ffe600"/><polygon points="380.9,324.0 381.2,321.8 381.3,320.6 381.5,318.9 381.1,317.2 380.8,315.6 380.3,313.5 380.1,311.6 380.0,311.4 380.7,309.9 382.2,306.7 382.2,306.7 382.4,306.6 385.3,304.2 385.6,304.0 386.7,303.3 388.8,302.2 389.0,302.1 390.9,302.0 394.8,302.2 394.9,302.2 394.9,302.2 396.5,299.8 398.2,297.5 400.2,295.4 400.2,295.4 400.1,295.3 398.5,289.4 398.5,289.2 398.5,289.1 398.9,285.3 399.0,284.6 399.3,283.7 402.0,282.8 403.9,282.2 405.3,281.6 405.8,281.5 407.9,280.7 408.5,280.4 411.6,278.9 412.0,278.7 413.4,278.1 414.6,277.2 416.2,276.1 416.9,275.5 417.3,273.9 417.9,271.9 418.4,270.5 420.0,268.3 422.2,265.5 423.6,265.1 424.6,264.8 426.5,264.5 427.7,264.5 430.0,264.5 430.0,264.5 431.9,264.4 436.1,264.4 437.0,264.4 437.3,264.7 439.7,267.7 441.1,269.5 442.3,270.7 442.9,271.3 445.9,274.6 446.7,275.6 447.4,275.7 449.2,276.0 452.8,276.9 452.9,276.9 454.9,277.4 457.2,276.5 458.4,276.1 461.6,275.2 462.3,275.8 465.5,278.3 465.8,278.5 468.4,281.0 468.5,281.0 471.1,284.1 472.3,285.7 473.5,287.3 475.2,289.9 475.1,291.1 474.4,295.7 474.2,296.2 473.8,297.6 474.4,300.2 474.4,300.3 475.4,303.3 475.5,303.6 476.5,306.6 476.6,307.0 477.5,310.1 477.7,310.3 479.2,311.6 480.8,313.2 483.3,316.0 483.3,316.1 483.3,316.5 483.0,320.3 482.8,322.0 482.6,322.5 481.9,324.0 480.2,327.5 479.5,328.7 479.3,329.0 478.9,330.9 478.0,334.2 477.9,334.6 477.8,335.0 477.2,337.6 476.6,340.0 476.5,340.2 476.2,340.9 474.9,344.1 473.9,346.1 473.8,346.2 473.4,347.2 471.9,350.3 471.5,350.9 471.3,351.4 470.4,353.5 468.9,356.8 468.8,356.9 468.1,358.1 467.5,360.4 466.1,364.3 465.8,364.8 465.7,365.2 463.1,366.6 459.7,368.3 459.2,368.5 458.5,368.7 456.0,369.4 454.2,369.9 452.6,370.7 449.9,371.9 449.3,372.2 445.9,373.6 444.6,374.1 443.3,375.6 442.8,376.2 439.6,379.4 439.6,379.4 437.9,383.5 437.8,383.7 436.1,384.1 433.3,384.8 431.9,384.9 431.0,385.0 427.7,385.1 427.2,385.1 424.0,384.8 423.4,384.7 420.9,383.9 420.5,383.7 419.6,381.8 418.5,379.1 418.4,378.9 416.1,379.1 411.9,379.1 410.1,379.0 407.8,378.9 407.6,378.9 406.6,378.9 403.3,378.4 402.0,378.1 399.0,377.4 398.8,377.4 395.9,374.3 394.4,372.6 393.1,371.0 392.3,370.0 390.0,368.2 387.0,365.8 386.8,365.5 385.2,364.0 384.4,362.1 383.2,358.1 383.1,357.9 382.7,355.6 383.6,352.9 384.2,351.0 385.1,348.5 384.8,347.9 383.6,344.6 382.8,341.9 382.5,341.2 382.0,339.0 381.7,337.8 380.9,334.4 380.5,331.0 380.5,330.9 380.4,329.4 380.5,327.4 380.8,325.0 380.8,324.9" fill="#ff8200"/><polygon points="381.3,324.0 381.5,321.8 381.6,320.6 381.9,318.9 381.5,317.2 381.1,315.7 380.8,313.6 380.5,311.7 380.5,311.5 381.1,310.0 382.5,306.8 382.5,306.8 382.7,306.7 385.6,304.3 385.9,304.1 386.9,303.5 389.0,302.3 389.2,302.2 391.1,302.2 395.0,302.3 395.0,302.3 395.0,302.3 396.6,299.9 398.4,297.6 400.3,295.5 400.3,295.5 400.3,295.4 398.6,289.5 398.6,289.4 398.6,289.3 399.1,285.5 399.2,284.8 399.4,283.9 402.2,283.0 404.1,282.5 405.5,281.9 405.9,281.7 408.0,281.0 408.7,280.6 411.7,279.2 412.1,279.0 413.5,278.4 414.7,277.5 416.3,276.5 417.0,276.0 417.4,274.4 418.0,272.5 418.5,271.0 420.0,268.7 422.2,265.8 423.6,265.4 424.7,265.2 426.5,264.8 427.7,264.8 430.0,264.8 430.0,264.8 431.9,264.7 436.0,264.8 437.0,264.8 437.2,265.1 439.7,268.1 441.0,270.0 442.2,271.1 442.8,271.8 445.7,275.0 446.5,276.0 447.2,276.1 449.0,276.4 452.6,277.2 452.8,277.2 454.7,277.8 457.0,276.9 458.1,276.5 461.4,275.5 462.1,276.0 465.3,278.6 465.6,278.8 468.2,281.2 468.3,281.3 470.9,284.3 472.1,285.9 473.2,287.5 474.9,290.1 474.7,291.4 473.7,296.1 473.6,296.6 473.2,298.0 474.1,300.4 474.1,300.5 475.0,303.5 475.1,303.8 476.1,306.8 476.2,307.1 477.0,310.2 477.2,310.4 478.8,311.7 480.4,313.2 483.0,316.0 483.0,316.2 483.0,316.5 482.7,320.3 482.5,322.0 482.3,322.5 481.6,324.0 479.9,327.5 479.2,328.7 479.0,329.0 478.6,330.9 477.7,334.2 477.6,334.5 477.5,334.9 477.0,337.5 476.3,339.9 476.2,340.1 475.9,340.8 474.6,343.9 473.5,346.0 473.5,346.0 473.1,347.0 471.6,350.1 471.3,350.7 471.1,351.3 470.2,353.3 468.5,356.5 468.5,356.7 467.8,357.8 467.2,360.1 465.8,364.0 465.6,364.5 465.4,364.9 462.9,366.3 459.4,367.9 459.0,368.1 458.3,368.4 455.8,369.1 454.0,369.5 452.4,370.4 449.8,371.6 449.2,371.9 445.8,373.3 444.5,373.7 443.2,375.2 442.7,375.8 439.5,379.0 439.5,379.0 437.9,383.3 437.8,383.5 436.1,383.8 433.3,384.2 431.9,384.4 431.0,384.5 427.7,384.6 427.3,384.6 424.0,384.5 423.5,384.4 420.9,383.6 420.5,383.5 419.7,381.5 418.6,378.7 418.5,378.5 416.2,378.6 412.1,378.6 410.3,378.5 408.0,378.3 407.9,378.3 406.9,378.2 403.5,377.8 402.3,377.6 399.2,377.0 399.0,377.0 396.1,374.0 394.6,372.2 393.4,370.6 392.6,369.6 390.3,367.9 387.4,365.4 387.1,365.2 385.5,363.7 384.8,361.8 383.6,357.8 383.6,357.6 383.1,355.4 383.9,352.7 384.5,350.8 385.5,348.3 385.2,347.7 384.0,344.4 383.1,341.8 382.9,341.1 382.4,338.9 382.1,337.7 381.4,334.3 380.9,330.9 380.9,330.9 380.8,329.4 380.9,327.4 381.2,325.0 381.2,324.9" fill="#ff0000"/></g><circle cx="429.8" cy="324.0" r="46.1" fill="#fff"/><line x1="431.1" y1="277.9" x2="433.5" y2="228.4" stroke="#101018" stroke-width="0.8"/><line x1="432.3" y1="253.2" x2="433.5" y2="228.4" stroke="#36363c" stroke-width="1.7" stroke-linecap="round"/><line x1="445.5" y1="280.7" x2="464.1" y2="234.4" stroke="#101018" stroke-width="0.8"/><line x1="454.8" y1="257.5" x2="464.1" y2="234.4" stroke="#36363c" stroke-width="1.7" stroke-linecap="round"/><line x1="458.3" y1="287.8" x2="491.1" y2="250.2" stroke="#101018" stroke-width="0.8"/><line x1="474.7" y1="269.0" x2="491.1" y2="250.2" stroke="#36363c" stroke-width="1.7" stroke-linecap="round"/><line x1="468.9" y1="299.6" x2="511.3" y2="273.3" stroke="#101018" stroke-width="0.8"/><line x1="490.1" y1="286.5" x2="511.3" y2="273.3" stroke="#36363c" stroke-width="1.7" stroke-linecap="round"/><line x1="474.8" y1="314.0" x2="523.2" y2="301.8" stroke="#101018" stroke-width="0.8"/><line x1="499.0" y1="307.9" x2="523.2" y2="301.8" stroke="#36363c" stroke-width="1.7" stroke-linecap="round"/><line x1="475.7" y1="328.8" x2="525.6" y2="333.0" stroke="#101018" stroke-width="0.8"/><line x1="500.6" y1="330.9" x2="525.6" y2="333.0" stroke="#36363c" stroke-width="1.7" stroke-linecap="round"/><line x1="472.1" y1="342.3" x2="517.8" y2="363.0" stroke="#101018" stroke-width="0.8"/><line x1="494.9" y1="352.7" x2="517.8" y2="363.0" stroke="#36363c" stroke-width="1.7" stroke-linecap="round"/><line x1="462.5" y1="356.5" x2="500.8" y2="389.0" stroke="#101018" stroke-width="0.8"/><line x1="481.6" y1="372.8" x2="500.8" y2="389.0" stroke="#36363c" stroke-width="1.7" stroke-linecap="round"/><line x1="451.0" y1="364.9" x2="476.8" y2="407.8" stroke="#101018" stroke-width="0.8"/><line x1="463.9" y1="386.4" x2="476.8" y2="407.8" stroke="#36363c" stroke-width="1.7" stroke-linecap="round"/><line x1="435.8" y1="369.7" x2="439.9" y2="419.2" stroke="#101018" stroke-width="0.8"/><line x1="437.8" y1="394.5" x2="439.9" y2="419.2" stroke="#36363c" stroke-width="1.7" stroke-linecap="round"/><line x1="421.5" y1="369.4" x2="409.8" y2="417.3" stroke="#101018" stroke-width="0.8"/><line x1="415.7" y1="393.3" x2="409.8" y2="417.3" stroke="#36363c" stroke-width="1.7" stroke-linecap="round"/><line x1="406.8" y1="363.9" x2="380.8" y2="406.9" stroke="#101018" stroke-width="0.8"/><line x1="393.8" y1="385.4" x2="380.8" y2="406.9" stroke="#36363c" stroke-width="1.7" stroke-linecap="round"/><line x1="394.8" y1="354.0" x2="357.9" y2="386.6" stroke="#101018" stroke-width="0.8"/><line x1="376.4" y1="370.3" x2="357.9" y2="386.6" stroke="#36363c" stroke-width="1.7" stroke-linecap="round"/><line x1="387.2" y1="341.7" x2="341.3" y2="360.1" stroke="#101018" stroke-width="0.8"/><line x1="364.3" y1="350.9" x2="341.3" y2="360.1" stroke="#36363c" stroke-width="1.7" stroke-linecap="round"/><line x1="383.8" y1="326.6" x2="334.7" y2="329.9" stroke="#101018" stroke-width="0.8"/><line x1="359.2" y1="328.2" x2="334.7" y2="329.9" stroke="#36363c" stroke-width="1.7" stroke-linecap="round"/><line x1="385.5" y1="311.2" x2="337.9" y2="299.1" stroke="#101018" stroke-width="0.8"/><line x1="361.7" y1="305.2" x2="337.9" y2="299.1" stroke="#36363c" stroke-width="1.7" stroke-linecap="round"/><line x1="392.3" y1="297.2" x2="350.2" y2="271.0" stroke="#101018" stroke-width="0.8"/><line x1="371.3" y1="284.1" x2="350.2" y2="271.0" stroke="#36363c" stroke-width="1.7" stroke-linecap="round"/><line x1="403.4" y1="286.2" x2="377.6" y2="244.1" stroke="#101018" stroke-width="0.8"/><line x1="390.5" y1="265.2" x2="377.6" y2="244.1" stroke="#36363c" stroke-width="1.7" stroke-linecap="round"/><line x1="417.3" y1="279.6" x2="405.9" y2="231.3" stroke="#101018" stroke-width="0.8"/><line x1="411.6" y1="255.5" x2="405.9" y2="231.3" stroke="#36363c" stroke-width="1.7" stroke-linecap="round"/><circle cx="429.8" cy="324.0" r="46.1" fill="none" stroke="#223" stroke-width="1.3" stroke-dasharray="1.1 1.2"/><circle cx="429.8" cy="323.8" r="61.4" fill="none" stroke="#0a0a20" stroke-width="1.1"/><line x1="430.2" y1="323.4" x2="461.4" y2="274.0" stroke="#222" stroke-width="0.6"/><polygon points="461.4,274.0 460.4,279.5 456.8,277.3" fill="#111"/><text x="430.3" y="340.3" class="rl">R=5.1</text></g><text x="413.0" y="440.2" class="cap" text-anchor="middle">(<tspan font-weight="bold">d</tspan>)</text>
</svg>
</body></html>
